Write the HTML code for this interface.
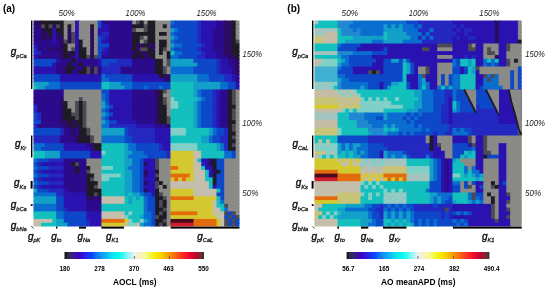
<!DOCTYPE html><html><head><meta charset="utf-8"><style>html,body{margin:0;padding:0;background:#fff;width:550px;height:291px;overflow:hidden}svg{display:block}</style></head><body><svg width="550" height="291" viewBox="0 0 550 291">
<defs><linearGradient id="cba" x1="0" x2="1" y1="0" y2="0" gradientUnits="objectBoundingBox"><stop offset="0.0" stop-color="#101810"/><stop offset="0.012" stop-color="#181820"/><stop offset="0.02" stop-color="#302838"/><stop offset="0.04" stop-color="#362870"/><stop offset="0.054" stop-color="#3a2080"/><stop offset="0.075" stop-color="#3a10a0"/><stop offset="0.097" stop-color="#3808b8"/><stop offset="0.11" stop-color="#3808c8"/><stop offset="0.14" stop-color="#3018e0"/><stop offset="0.168" stop-color="#2030f0"/><stop offset="0.197" stop-color="#0848f8"/><stop offset="0.226" stop-color="#0870f8"/><stop offset="0.254" stop-color="#1090f8"/><stop offset="0.283" stop-color="#10a8f8"/><stop offset="0.312" stop-color="#10c0f8"/><stop offset="0.34" stop-color="#10e0f0"/><stop offset="0.369" stop-color="#08f0f0"/><stop offset="0.398" stop-color="#10f8f0"/><stop offset="0.426" stop-color="#40f8f0"/><stop offset="0.455" stop-color="#90f8f8"/><stop offset="0.47" stop-color="#a8f0f8"/><stop offset="0.498" stop-color="#e8f4f0"/><stop offset="0.52" stop-color="#f8f0e0"/><stop offset="0.541" stop-color="#f8f0c0"/><stop offset="0.563" stop-color="#f8f8a8"/><stop offset="0.584" stop-color="#f8f890"/><stop offset="0.62" stop-color="#f0f830"/><stop offset="0.656" stop-color="#f8e800"/><stop offset="0.685" stop-color="#f8d800"/><stop offset="0.713" stop-color="#f8c000"/><stop offset="0.742" stop-color="#f8a000"/><stop offset="0.771" stop-color="#f88008"/><stop offset="0.8" stop-color="#f86018"/><stop offset="0.828" stop-color="#f84020"/><stop offset="0.857" stop-color="#f82828"/><stop offset="0.885" stop-color="#f80830"/><stop offset="0.914" stop-color="#d80830"/><stop offset="0.943" stop-color="#b80830"/><stop offset="0.964" stop-color="#902030"/><stop offset="0.978" stop-color="#703030"/><stop offset="0.993" stop-color="#403028"/><stop offset="1.0" stop-color="#302820"/></linearGradient><linearGradient id="cbb" x1="0" x2="1" y1="0" y2="0" gradientUnits="objectBoundingBox"><stop offset="0.0" stop-color="#101810"/><stop offset="0.012" stop-color="#181820"/><stop offset="0.02" stop-color="#302838"/><stop offset="0.04" stop-color="#362870"/><stop offset="0.054" stop-color="#3a2080"/><stop offset="0.075" stop-color="#3a10a0"/><stop offset="0.097" stop-color="#3808b8"/><stop offset="0.11" stop-color="#3808c8"/><stop offset="0.14" stop-color="#3018e0"/><stop offset="0.168" stop-color="#2030f0"/><stop offset="0.197" stop-color="#0848f8"/><stop offset="0.226" stop-color="#0870f8"/><stop offset="0.254" stop-color="#1090f8"/><stop offset="0.283" stop-color="#10a8f8"/><stop offset="0.312" stop-color="#10c0f8"/><stop offset="0.34" stop-color="#10e0f0"/><stop offset="0.369" stop-color="#08f0f0"/><stop offset="0.398" stop-color="#10f8f0"/><stop offset="0.426" stop-color="#40f8f0"/><stop offset="0.455" stop-color="#90f8f8"/><stop offset="0.47" stop-color="#a8f0f8"/><stop offset="0.498" stop-color="#e8f4f0"/><stop offset="0.52" stop-color="#f8f0e0"/><stop offset="0.541" stop-color="#f8f0c0"/><stop offset="0.563" stop-color="#f8f8a8"/><stop offset="0.584" stop-color="#f8f890"/><stop offset="0.62" stop-color="#f0f830"/><stop offset="0.656" stop-color="#f8e800"/><stop offset="0.685" stop-color="#f8d800"/><stop offset="0.713" stop-color="#f8c000"/><stop offset="0.742" stop-color="#f8a000"/><stop offset="0.771" stop-color="#f88008"/><stop offset="0.8" stop-color="#f86018"/><stop offset="0.828" stop-color="#f84020"/><stop offset="0.857" stop-color="#f82828"/><stop offset="0.885" stop-color="#f80830"/><stop offset="0.914" stop-color="#d80830"/><stop offset="0.943" stop-color="#b80830"/><stop offset="0.964" stop-color="#902030"/><stop offset="0.978" stop-color="#703030"/><stop offset="0.993" stop-color="#403028"/><stop offset="1.0" stop-color="#302820"/></linearGradient></defs>
<rect width="550" height="291" fill="#ffffff"/>
<text x="2.9" y="11.6" font-family="Liberation Sans, Arial, sans-serif" font-weight="bold" font-size="10" fill="#000">(a)</text>
<text x="287.3" y="11.6" font-family="Liberation Sans, Arial, sans-serif" font-weight="bold" font-size="10" fill="#000">(b)</text>
<rect x="33.50" y="20.50" width="8.56" height="4.83" fill="#2c0c60"/>
<rect x="41.06" y="20.50" width="23.67" height="4.83" fill="#1e1a26"/>
<rect x="63.72" y="20.50" width="12.33" height="4.83" fill="#8a8a87"/>
<rect x="75.06" y="20.50" width="4.78" height="4.83" fill="#2a12b0"/>
<rect x="78.83" y="20.50" width="19.89" height="4.83" fill="#8a8a87"/>
<rect x="97.72" y="20.50" width="4.78" height="4.83" fill="#0c48c8"/>
<rect x="33.50" y="24.33" width="4.78" height="4.83" fill="#2c0a8c"/>
<rect x="37.28" y="24.33" width="4.78" height="4.83" fill="#2c0c60"/>
<rect x="41.06" y="24.33" width="4.78" height="4.83" fill="#4c4a52"/>
<rect x="44.83" y="24.33" width="4.78" height="4.83" fill="#1e1a26"/>
<rect x="48.61" y="24.33" width="4.78" height="4.83" fill="#4c4a52"/>
<rect x="52.39" y="24.33" width="4.78" height="4.83" fill="#2c0c60"/>
<rect x="56.17" y="24.33" width="4.78" height="4.83" fill="#4c4a52"/>
<rect x="59.94" y="24.33" width="4.78" height="4.83" fill="#1e1a26"/>
<rect x="63.72" y="24.33" width="4.78" height="4.83" fill="#8a8a87"/>
<rect x="67.50" y="24.33" width="4.78" height="4.83" fill="#1e1a26"/>
<rect x="71.28" y="24.33" width="4.78" height="4.83" fill="#8a8a87"/>
<rect x="75.06" y="24.33" width="4.78" height="4.83" fill="#2a12b0"/>
<rect x="78.83" y="24.33" width="12.33" height="4.83" fill="#8a8a87"/>
<rect x="90.17" y="24.33" width="4.78" height="4.83" fill="#1e1a26"/>
<rect x="93.94" y="24.33" width="4.78" height="4.83" fill="#8a8a87"/>
<rect x="97.72" y="24.33" width="4.78" height="4.83" fill="#0c48c8"/>
<rect x="33.50" y="28.17" width="8.56" height="4.83" fill="#2c0a8c"/>
<rect x="41.06" y="28.17" width="4.78" height="4.83" fill="#2c0c60"/>
<rect x="44.83" y="28.17" width="8.56" height="4.83" fill="#1e1a26"/>
<rect x="52.39" y="28.17" width="4.78" height="4.83" fill="#2a12b0"/>
<rect x="56.17" y="28.17" width="8.56" height="4.83" fill="#1e1a26"/>
<rect x="63.72" y="28.17" width="4.78" height="4.83" fill="#8a8a87"/>
<rect x="67.50" y="28.17" width="4.78" height="4.83" fill="#2c0c60"/>
<rect x="71.28" y="28.17" width="4.78" height="4.83" fill="#8a8a87"/>
<rect x="75.06" y="28.17" width="4.78" height="4.83" fill="#2a12b0"/>
<rect x="78.83" y="28.17" width="12.33" height="4.83" fill="#8a8a87"/>
<rect x="90.17" y="28.17" width="4.78" height="4.83" fill="#2c0c60"/>
<rect x="93.94" y="28.17" width="4.78" height="4.83" fill="#8a8a87"/>
<rect x="97.72" y="28.17" width="4.78" height="4.83" fill="#2a12b0"/>
<rect x="33.50" y="32.00" width="8.56" height="4.83" fill="#2c0a8c"/>
<rect x="41.06" y="32.00" width="8.56" height="4.83" fill="#2c0c60"/>
<rect x="48.61" y="32.00" width="4.78" height="4.83" fill="#1e1a26"/>
<rect x="52.39" y="32.00" width="4.78" height="4.83" fill="#2a12b0"/>
<rect x="56.17" y="32.00" width="4.78" height="4.83" fill="#2c0c60"/>
<rect x="59.94" y="32.00" width="4.78" height="4.83" fill="#1e1a26"/>
<rect x="63.72" y="32.00" width="4.78" height="4.83" fill="#8a8a87"/>
<rect x="67.50" y="32.00" width="4.78" height="4.83" fill="#2c0c60"/>
<rect x="71.28" y="32.00" width="4.78" height="4.83" fill="#4c4a52"/>
<rect x="75.06" y="32.00" width="4.78" height="4.83" fill="#2a12b0"/>
<rect x="78.83" y="32.00" width="12.33" height="4.83" fill="#8a8a87"/>
<rect x="90.17" y="32.00" width="4.78" height="4.83" fill="#2c0c60"/>
<rect x="93.94" y="32.00" width="4.78" height="4.83" fill="#8a8a87"/>
<rect x="97.72" y="32.00" width="4.78" height="4.83" fill="#2a12b0"/>
<rect x="33.50" y="35.83" width="8.56" height="4.83" fill="#2c0a8c"/>
<rect x="41.06" y="35.83" width="12.33" height="4.83" fill="#2c0c60"/>
<rect x="52.39" y="35.83" width="4.78" height="4.83" fill="#2a12b0"/>
<rect x="56.17" y="35.83" width="8.56" height="4.83" fill="#2c0c60"/>
<rect x="63.72" y="35.83" width="4.78" height="4.83" fill="#8a8a87"/>
<rect x="67.50" y="35.83" width="4.78" height="4.83" fill="#2c0c60"/>
<rect x="71.28" y="35.83" width="4.78" height="4.83" fill="#4c4a52"/>
<rect x="75.06" y="35.83" width="4.78" height="4.83" fill="#2a12b0"/>
<rect x="78.83" y="35.83" width="12.33" height="4.83" fill="#8a8a87"/>
<rect x="90.17" y="35.83" width="4.78" height="4.83" fill="#2c0c60"/>
<rect x="93.94" y="35.83" width="4.78" height="4.83" fill="#8a8a87"/>
<rect x="97.72" y="35.83" width="4.78" height="4.83" fill="#0c48c8"/>
<rect x="33.50" y="39.67" width="19.89" height="4.83" fill="#2c0a8c"/>
<rect x="52.39" y="39.67" width="4.78" height="4.83" fill="#2a12b0"/>
<rect x="56.17" y="39.67" width="4.78" height="4.83" fill="#2c0a8c"/>
<rect x="59.94" y="39.67" width="4.78" height="4.83" fill="#2c0c60"/>
<rect x="63.72" y="39.67" width="4.78" height="4.83" fill="#4c4a52"/>
<rect x="67.50" y="39.67" width="4.78" height="4.83" fill="#2c0c60"/>
<rect x="71.28" y="39.67" width="4.78" height="4.83" fill="#4c4a52"/>
<rect x="75.06" y="39.67" width="4.78" height="4.83" fill="#2a12b0"/>
<rect x="78.83" y="39.67" width="4.78" height="4.83" fill="#1e1a26"/>
<rect x="82.61" y="39.67" width="8.56" height="4.83" fill="#8a8a87"/>
<rect x="90.17" y="39.67" width="4.78" height="4.83" fill="#2c0c60"/>
<rect x="93.94" y="39.67" width="4.78" height="4.83" fill="#8a8a87"/>
<rect x="97.72" y="39.67" width="4.78" height="4.83" fill="#0c48c8"/>
<rect x="33.50" y="43.50" width="4.78" height="4.83" fill="#2a12b0"/>
<rect x="37.28" y="43.50" width="23.67" height="4.83" fill="#2c0a8c"/>
<rect x="59.94" y="43.50" width="4.78" height="4.83" fill="#2c0c60"/>
<rect x="63.72" y="43.50" width="4.78" height="4.83" fill="#1e1a26"/>
<rect x="67.50" y="43.50" width="8.56" height="4.83" fill="#8a8a87"/>
<rect x="75.06" y="43.50" width="4.78" height="4.83" fill="#2a12b0"/>
<rect x="78.83" y="43.50" width="4.78" height="4.83" fill="#1e1a26"/>
<rect x="82.61" y="43.50" width="8.56" height="4.83" fill="#8a8a87"/>
<rect x="90.17" y="43.50" width="4.78" height="4.83" fill="#2c0c60"/>
<rect x="93.94" y="43.50" width="4.78" height="4.83" fill="#8a8a87"/>
<rect x="97.72" y="43.50" width="4.78" height="4.83" fill="#0c48c8"/>
<rect x="33.50" y="47.33" width="4.78" height="4.83" fill="#2228c0"/>
<rect x="37.28" y="47.33" width="12.33" height="4.83" fill="#2c0a8c"/>
<rect x="48.61" y="47.33" width="4.78" height="4.83" fill="#2c0c60"/>
<rect x="52.39" y="47.33" width="4.78" height="4.83" fill="#2c0a8c"/>
<rect x="56.17" y="47.33" width="8.56" height="4.83" fill="#2c0c60"/>
<rect x="63.72" y="47.33" width="4.78" height="4.83" fill="#1e1a26"/>
<rect x="67.50" y="47.33" width="4.78" height="4.83" fill="#8a8a87"/>
<rect x="71.28" y="47.33" width="4.78" height="4.83" fill="#4c4a52"/>
<rect x="75.06" y="47.33" width="4.78" height="4.83" fill="#2a12b0"/>
<rect x="78.83" y="47.33" width="8.56" height="4.83" fill="#1e1a26"/>
<rect x="86.39" y="47.33" width="4.78" height="4.83" fill="#8a8a87"/>
<rect x="90.17" y="47.33" width="4.78" height="4.83" fill="#2c0c60"/>
<rect x="93.94" y="47.33" width="4.78" height="4.83" fill="#8a8a87"/>
<rect x="97.72" y="47.33" width="4.78" height="4.83" fill="#0c48c8"/>
<rect x="33.50" y="51.17" width="8.56" height="4.83" fill="#2228c0"/>
<rect x="41.06" y="51.17" width="19.89" height="4.83" fill="#2c0a8c"/>
<rect x="59.94" y="51.17" width="4.78" height="4.83" fill="#2c0c60"/>
<rect x="63.72" y="51.17" width="4.78" height="4.83" fill="#1e1a26"/>
<rect x="67.50" y="51.17" width="4.78" height="4.83" fill="#2c0c60"/>
<rect x="71.28" y="51.17" width="4.78" height="4.83" fill="#1e1a26"/>
<rect x="75.06" y="51.17" width="4.78" height="4.83" fill="#2a12b0"/>
<rect x="78.83" y="51.17" width="8.56" height="4.83" fill="#1e1a26"/>
<rect x="86.39" y="51.17" width="4.78" height="4.83" fill="#8a8a87"/>
<rect x="90.17" y="51.17" width="4.78" height="4.83" fill="#2c0c60"/>
<rect x="93.94" y="51.17" width="4.78" height="4.83" fill="#8a8a87"/>
<rect x="97.72" y="51.17" width="4.78" height="4.83" fill="#0c48c8"/>
<rect x="33.50" y="55.00" width="4.78" height="4.83" fill="#2a12b0"/>
<rect x="37.28" y="55.00" width="23.67" height="4.83" fill="#2c0a8c"/>
<rect x="59.94" y="55.00" width="4.78" height="4.83" fill="#2c0c60"/>
<rect x="63.72" y="55.00" width="4.78" height="4.83" fill="#1e1a26"/>
<rect x="67.50" y="55.00" width="8.56" height="4.83" fill="#2c0c60"/>
<rect x="75.06" y="55.00" width="4.78" height="4.83" fill="#2a12b0"/>
<rect x="78.83" y="55.00" width="8.56" height="4.83" fill="#1e1a26"/>
<rect x="86.39" y="55.00" width="4.78" height="4.83" fill="#4c4a52"/>
<rect x="90.17" y="55.00" width="4.78" height="4.83" fill="#2c0c60"/>
<rect x="93.94" y="55.00" width="4.78" height="4.83" fill="#4c4a52"/>
<rect x="97.72" y="55.00" width="4.78" height="4.83" fill="#0c48c8"/>
<rect x="33.50" y="58.83" width="23.67" height="4.83" fill="#0c48c8"/>
<rect x="56.17" y="58.83" width="4.78" height="4.83" fill="#2a12b0"/>
<rect x="59.94" y="58.83" width="12.33" height="4.83" fill="#2c0a8c"/>
<rect x="71.28" y="58.83" width="4.78" height="4.83" fill="#1e1a26"/>
<rect x="75.06" y="58.83" width="23.67" height="4.83" fill="#2c0a8c"/>
<rect x="97.72" y="58.83" width="4.78" height="4.83" fill="#2a12b0"/>
<rect x="33.50" y="62.67" width="19.89" height="4.83" fill="#0c48c8"/>
<rect x="52.39" y="62.67" width="4.78" height="4.83" fill="#2a12b0"/>
<rect x="56.17" y="62.67" width="12.33" height="4.83" fill="#2c0a8c"/>
<rect x="67.50" y="62.67" width="4.78" height="4.83" fill="#1e1a26"/>
<rect x="71.28" y="62.67" width="8.56" height="4.83" fill="#2c0a8c"/>
<rect x="78.83" y="62.67" width="4.78" height="4.83" fill="#1e1a26"/>
<rect x="82.61" y="62.67" width="16.11" height="4.83" fill="#2c0a8c"/>
<rect x="97.72" y="62.67" width="4.78" height="4.83" fill="#2a12b0"/>
<rect x="33.50" y="66.50" width="23.67" height="4.83" fill="#2a12b0"/>
<rect x="56.17" y="66.50" width="8.56" height="4.83" fill="#2c0a8c"/>
<rect x="63.72" y="66.50" width="4.78" height="4.83" fill="#2c0c60"/>
<rect x="67.50" y="66.50" width="8.56" height="4.83" fill="#1e1a26"/>
<rect x="75.06" y="66.50" width="8.56" height="4.83" fill="#2c0a8c"/>
<rect x="82.61" y="66.50" width="4.78" height="4.83" fill="#1e1a26"/>
<rect x="86.39" y="66.50" width="4.78" height="4.83" fill="#4c4a52"/>
<rect x="90.17" y="66.50" width="4.78" height="4.83" fill="#2c0c60"/>
<rect x="93.94" y="66.50" width="4.78" height="4.83" fill="#4c4a52"/>
<rect x="97.72" y="66.50" width="4.78" height="4.83" fill="#2c0a8c"/>
<rect x="33.50" y="70.33" width="23.67" height="4.83" fill="#2a12b0"/>
<rect x="56.17" y="70.33" width="8.56" height="4.83" fill="#2c0a8c"/>
<rect x="63.72" y="70.33" width="4.78" height="4.83" fill="#2c0c60"/>
<rect x="67.50" y="70.33" width="4.78" height="4.83" fill="#1e1a26"/>
<rect x="71.28" y="70.33" width="8.56" height="4.83" fill="#2c0a8c"/>
<rect x="78.83" y="70.33" width="8.56" height="4.83" fill="#1e1a26"/>
<rect x="86.39" y="70.33" width="4.78" height="4.83" fill="#4c4a52"/>
<rect x="90.17" y="70.33" width="4.78" height="4.83" fill="#2c0c60"/>
<rect x="93.94" y="70.33" width="4.78" height="4.83" fill="#4c4a52"/>
<rect x="97.72" y="70.33" width="4.78" height="4.83" fill="#2c0a8c"/>
<rect x="33.50" y="74.17" width="27.44" height="4.83" fill="#0c48c8"/>
<rect x="59.94" y="74.17" width="42.56" height="4.83" fill="#2a12b0"/>
<rect x="33.50" y="78.00" width="27.44" height="4.83" fill="#0c48c8"/>
<rect x="59.94" y="78.00" width="42.56" height="4.83" fill="#2a12b0"/>
<rect x="33.50" y="81.83" width="16.11" height="4.83" fill="#12a0c8"/>
<rect x="48.61" y="81.83" width="12.33" height="4.83" fill="#0a6ed0"/>
<rect x="59.94" y="81.83" width="42.56" height="4.83" fill="#0c48c8"/>
<rect x="33.50" y="85.67" width="4.78" height="4.83" fill="#14c0be"/>
<rect x="37.28" y="85.67" width="8.56" height="4.83" fill="#12a0c8"/>
<rect x="44.83" y="85.67" width="16.11" height="4.83" fill="#0a6ed0"/>
<rect x="59.94" y="85.67" width="42.56" height="4.83" fill="#0c48c8"/>
<rect x="101.50" y="20.50" width="31.67" height="4.83" fill="#2c0a8c"/>
<rect x="132.17" y="20.50" width="4.83" height="4.83" fill="#8a8a87"/>
<rect x="136.00" y="20.50" width="4.83" height="4.83" fill="#4c4a52"/>
<rect x="139.83" y="20.50" width="4.83" height="4.83" fill="#1e1a26"/>
<rect x="143.67" y="20.50" width="4.83" height="4.83" fill="#8a8a87"/>
<rect x="147.50" y="20.50" width="8.67" height="4.83" fill="#1e1a26"/>
<rect x="155.17" y="20.50" width="16.33" height="4.83" fill="#8a8a87"/>
<rect x="101.50" y="24.33" width="8.67" height="4.83" fill="#2a12b0"/>
<rect x="109.17" y="24.33" width="24.00" height="4.83" fill="#2c0a8c"/>
<rect x="132.17" y="24.33" width="12.50" height="4.83" fill="#1e1a26"/>
<rect x="143.67" y="24.33" width="4.83" height="4.83" fill="#4c4a52"/>
<rect x="147.50" y="24.33" width="8.67" height="4.83" fill="#1e1a26"/>
<rect x="155.17" y="24.33" width="8.67" height="4.83" fill="#8a8a87"/>
<rect x="162.83" y="24.33" width="4.83" height="4.83" fill="#1e1a26"/>
<rect x="166.67" y="24.33" width="4.83" height="4.83" fill="#8a8a87"/>
<rect x="101.50" y="28.17" width="8.67" height="4.83" fill="#2a12b0"/>
<rect x="109.17" y="28.17" width="24.00" height="4.83" fill="#2c0a8c"/>
<rect x="132.17" y="28.17" width="4.83" height="4.83" fill="#4c4a52"/>
<rect x="136.00" y="28.17" width="8.67" height="4.83" fill="#8a8a87"/>
<rect x="143.67" y="28.17" width="4.83" height="4.83" fill="#4c4a52"/>
<rect x="147.50" y="28.17" width="8.67" height="4.83" fill="#1e1a26"/>
<rect x="155.17" y="28.17" width="16.33" height="4.83" fill="#8a8a87"/>
<rect x="101.50" y="32.00" width="8.67" height="4.83" fill="#2228c0"/>
<rect x="109.17" y="32.00" width="24.00" height="4.83" fill="#2c0a8c"/>
<rect x="132.17" y="32.00" width="24.00" height="4.83" fill="#1e1a26"/>
<rect x="155.17" y="32.00" width="4.83" height="4.83" fill="#8a8a87"/>
<rect x="159.00" y="32.00" width="8.67" height="4.83" fill="#1e1a26"/>
<rect x="166.67" y="32.00" width="4.83" height="4.83" fill="#8a8a87"/>
<rect x="101.50" y="35.83" width="4.83" height="4.83" fill="#2228c0"/>
<rect x="105.33" y="35.83" width="4.83" height="4.83" fill="#2a12b0"/>
<rect x="109.17" y="35.83" width="24.00" height="4.83" fill="#2c0a8c"/>
<rect x="132.17" y="35.83" width="8.67" height="4.83" fill="#1e1a26"/>
<rect x="139.83" y="35.83" width="4.83" height="4.83" fill="#4c4a52"/>
<rect x="143.67" y="35.83" width="4.83" height="4.83" fill="#8a8a87"/>
<rect x="147.50" y="35.83" width="8.67" height="4.83" fill="#1e1a26"/>
<rect x="155.17" y="35.83" width="16.33" height="4.83" fill="#8a8a87"/>
<rect x="101.50" y="39.67" width="8.67" height="4.83" fill="#2a12b0"/>
<rect x="109.17" y="39.67" width="24.00" height="4.83" fill="#2c0a8c"/>
<rect x="132.17" y="39.67" width="8.67" height="4.83" fill="#1e1a26"/>
<rect x="139.83" y="39.67" width="4.83" height="4.83" fill="#8a8a87"/>
<rect x="143.67" y="39.67" width="4.83" height="4.83" fill="#4c4a52"/>
<rect x="147.50" y="39.67" width="8.67" height="4.83" fill="#1e1a26"/>
<rect x="155.17" y="39.67" width="4.83" height="4.83" fill="#8a8a87"/>
<rect x="159.00" y="39.67" width="8.67" height="4.83" fill="#1e1a26"/>
<rect x="166.67" y="39.67" width="4.83" height="4.83" fill="#8a8a87"/>
<rect x="101.50" y="43.50" width="8.67" height="4.83" fill="#0c48c8"/>
<rect x="109.17" y="43.50" width="24.00" height="4.83" fill="#2c0a8c"/>
<rect x="132.17" y="43.50" width="4.83" height="4.83" fill="#1e1a26"/>
<rect x="136.00" y="43.50" width="8.67" height="4.83" fill="#2c0c60"/>
<rect x="143.67" y="43.50" width="4.83" height="4.83" fill="#1e1a26"/>
<rect x="147.50" y="43.50" width="8.67" height="4.83" fill="#2c0c60"/>
<rect x="155.17" y="43.50" width="4.83" height="4.83" fill="#8a8a87"/>
<rect x="159.00" y="43.50" width="8.67" height="4.83" fill="#1e1a26"/>
<rect x="166.67" y="43.50" width="4.83" height="4.83" fill="#8a8a87"/>
<rect x="101.50" y="47.33" width="4.83" height="4.83" fill="#2228c0"/>
<rect x="105.33" y="47.33" width="4.83" height="4.83" fill="#2a12b0"/>
<rect x="109.17" y="47.33" width="24.00" height="4.83" fill="#2c0a8c"/>
<rect x="132.17" y="47.33" width="4.83" height="4.83" fill="#1e1a26"/>
<rect x="136.00" y="47.33" width="4.83" height="4.83" fill="#2c0c60"/>
<rect x="139.83" y="47.33" width="8.67" height="4.83" fill="#4c4a52"/>
<rect x="147.50" y="47.33" width="4.83" height="4.83" fill="#1e1a26"/>
<rect x="151.33" y="47.33" width="4.83" height="4.83" fill="#2c0c60"/>
<rect x="155.17" y="47.33" width="4.83" height="4.83" fill="#8a8a87"/>
<rect x="159.00" y="47.33" width="4.83" height="4.83" fill="#1e1a26"/>
<rect x="162.83" y="47.33" width="4.83" height="4.83" fill="#4c4a52"/>
<rect x="166.67" y="47.33" width="4.83" height="4.83" fill="#8a8a87"/>
<rect x="101.50" y="51.17" width="8.67" height="4.83" fill="#2a12b0"/>
<rect x="109.17" y="51.17" width="24.00" height="4.83" fill="#2c0a8c"/>
<rect x="132.17" y="51.17" width="4.83" height="4.83" fill="#2c0c60"/>
<rect x="136.00" y="51.17" width="4.83" height="4.83" fill="#1e1a26"/>
<rect x="139.83" y="51.17" width="8.67" height="4.83" fill="#2c0c60"/>
<rect x="147.50" y="51.17" width="8.67" height="4.83" fill="#1e1a26"/>
<rect x="155.17" y="51.17" width="4.83" height="4.83" fill="#8a8a87"/>
<rect x="159.00" y="51.17" width="4.83" height="4.83" fill="#1e1a26"/>
<rect x="162.83" y="51.17" width="4.83" height="4.83" fill="#8a8a87"/>
<rect x="166.67" y="51.17" width="4.83" height="4.83" fill="#1e1a26"/>
<rect x="101.50" y="55.00" width="31.67" height="4.83" fill="#2c0a8c"/>
<rect x="132.17" y="55.00" width="4.83" height="4.83" fill="#1e1a26"/>
<rect x="136.00" y="55.00" width="4.83" height="4.83" fill="#2c0c60"/>
<rect x="139.83" y="55.00" width="4.83" height="4.83" fill="#1e1a26"/>
<rect x="143.67" y="55.00" width="8.67" height="4.83" fill="#2c0c60"/>
<rect x="151.33" y="55.00" width="4.83" height="4.83" fill="#1e1a26"/>
<rect x="155.17" y="55.00" width="12.50" height="4.83" fill="#8a8a87"/>
<rect x="166.67" y="55.00" width="4.83" height="4.83" fill="#1e1a26"/>
<rect x="101.50" y="58.83" width="16.33" height="4.83" fill="#0c48c8"/>
<rect x="116.83" y="58.83" width="16.33" height="4.83" fill="#2228c0"/>
<rect x="132.17" y="58.83" width="24.00" height="4.83" fill="#2c0a8c"/>
<rect x="155.17" y="58.83" width="8.67" height="4.83" fill="#1e1a26"/>
<rect x="162.83" y="58.83" width="4.83" height="4.83" fill="#8a8a87"/>
<rect x="166.67" y="58.83" width="4.83" height="4.83" fill="#4c4a52"/>
<rect x="101.50" y="62.67" width="8.67" height="4.83" fill="#0c48c8"/>
<rect x="109.17" y="62.67" width="24.00" height="4.83" fill="#2228c0"/>
<rect x="132.17" y="62.67" width="24.00" height="4.83" fill="#2c0a8c"/>
<rect x="155.17" y="62.67" width="8.67" height="4.83" fill="#1e1a26"/>
<rect x="162.83" y="62.67" width="4.83" height="4.83" fill="#8a8a87"/>
<rect x="166.67" y="62.67" width="4.83" height="4.83" fill="#4c4a52"/>
<rect x="101.50" y="66.50" width="20.17" height="4.83" fill="#2228c0"/>
<rect x="120.67" y="66.50" width="35.50" height="4.83" fill="#2c0a8c"/>
<rect x="155.17" y="66.50" width="8.67" height="4.83" fill="#1e1a26"/>
<rect x="162.83" y="66.50" width="4.83" height="4.83" fill="#4c4a52"/>
<rect x="166.67" y="66.50" width="4.83" height="4.83" fill="#8a8a87"/>
<rect x="101.50" y="70.33" width="20.17" height="4.83" fill="#2228c0"/>
<rect x="120.67" y="70.33" width="35.50" height="4.83" fill="#2c0a8c"/>
<rect x="155.17" y="70.33" width="8.67" height="4.83" fill="#1e1a26"/>
<rect x="162.83" y="70.33" width="4.83" height="4.83" fill="#4c4a52"/>
<rect x="166.67" y="70.33" width="4.83" height="4.83" fill="#8a8a87"/>
<rect x="101.50" y="74.17" width="4.83" height="4.83" fill="#0a6ed0"/>
<rect x="105.33" y="74.17" width="27.83" height="4.83" fill="#0c48c8"/>
<rect x="132.17" y="74.17" width="27.83" height="4.83" fill="#2a12b0"/>
<rect x="159.00" y="74.17" width="4.83" height="4.83" fill="#1e1a26"/>
<rect x="162.83" y="74.17" width="8.67" height="4.83" fill="#2c0c60"/>
<rect x="101.50" y="78.00" width="8.67" height="4.83" fill="#0a6ed0"/>
<rect x="109.17" y="78.00" width="24.00" height="4.83" fill="#0c48c8"/>
<rect x="132.17" y="78.00" width="31.67" height="4.83" fill="#2a12b0"/>
<rect x="162.83" y="78.00" width="4.83" height="4.83" fill="#2c0a8c"/>
<rect x="166.67" y="78.00" width="4.83" height="4.83" fill="#2c0c60"/>
<rect x="101.50" y="81.83" width="8.67" height="4.83" fill="#14c0be"/>
<rect x="109.17" y="81.83" width="12.50" height="4.83" fill="#12a0c8"/>
<rect x="120.67" y="81.83" width="12.50" height="4.83" fill="#0a6ed0"/>
<rect x="132.17" y="81.83" width="39.33" height="4.83" fill="#0c48c8"/>
<rect x="101.50" y="85.67" width="8.67" height="4.83" fill="#14c0be"/>
<rect x="109.17" y="85.67" width="16.33" height="4.83" fill="#12a0c8"/>
<rect x="124.50" y="85.67" width="8.67" height="4.83" fill="#0a6ed0"/>
<rect x="132.17" y="85.67" width="12.50" height="4.83" fill="#0c48c8"/>
<rect x="143.67" y="85.67" width="4.83" height="4.83" fill="#0a6ed0"/>
<rect x="147.50" y="85.67" width="12.50" height="4.83" fill="#0c48c8"/>
<rect x="159.00" y="85.67" width="4.83" height="4.83" fill="#0a6ed0"/>
<rect x="162.83" y="85.67" width="8.67" height="4.83" fill="#0c48c8"/>
<rect x="170.50" y="20.50" width="4.83" height="4.83" fill="#0a6ed0"/>
<rect x="174.33" y="20.50" width="24.00" height="4.83" fill="#0c48c8"/>
<rect x="197.33" y="20.50" width="4.83" height="4.83" fill="#2228c0"/>
<rect x="201.17" y="20.50" width="16.33" height="4.83" fill="#2a12b0"/>
<rect x="216.50" y="20.50" width="8.67" height="4.83" fill="#2c0a8c"/>
<rect x="224.17" y="20.50" width="8.67" height="4.83" fill="#2c0c60"/>
<rect x="231.83" y="20.50" width="4.83" height="4.83" fill="#1e1a26"/>
<rect x="235.67" y="20.50" width="3.83" height="4.83" fill="#8a8a87"/>
<rect x="170.50" y="24.33" width="27.83" height="4.83" fill="#0c48c8"/>
<rect x="197.33" y="24.33" width="4.83" height="4.83" fill="#2228c0"/>
<rect x="201.17" y="24.33" width="16.33" height="4.83" fill="#2a12b0"/>
<rect x="216.50" y="24.33" width="8.67" height="4.83" fill="#2c0a8c"/>
<rect x="224.17" y="24.33" width="8.67" height="4.83" fill="#2c0c60"/>
<rect x="231.83" y="24.33" width="4.83" height="4.83" fill="#1e1a26"/>
<rect x="235.67" y="24.33" width="3.83" height="4.83" fill="#8a8a87"/>
<rect x="170.50" y="28.17" width="4.83" height="4.83" fill="#12a0c8"/>
<rect x="174.33" y="28.17" width="4.83" height="4.83" fill="#0a6ed0"/>
<rect x="178.17" y="28.17" width="20.17" height="4.83" fill="#0c48c8"/>
<rect x="197.33" y="28.17" width="4.83" height="4.83" fill="#2228c0"/>
<rect x="201.17" y="28.17" width="12.50" height="4.83" fill="#2a12b0"/>
<rect x="212.67" y="28.17" width="12.50" height="4.83" fill="#2c0a8c"/>
<rect x="224.17" y="28.17" width="8.67" height="4.83" fill="#2c0c60"/>
<rect x="231.83" y="28.17" width="4.83" height="4.83" fill="#1e1a26"/>
<rect x="235.67" y="28.17" width="3.83" height="4.83" fill="#8a8a87"/>
<rect x="170.50" y="32.00" width="4.83" height="4.83" fill="#0a6ed0"/>
<rect x="174.33" y="32.00" width="24.00" height="4.83" fill="#0c48c8"/>
<rect x="197.33" y="32.00" width="4.83" height="4.83" fill="#2228c0"/>
<rect x="201.17" y="32.00" width="12.50" height="4.83" fill="#2a12b0"/>
<rect x="212.67" y="32.00" width="12.50" height="4.83" fill="#2c0a8c"/>
<rect x="224.17" y="32.00" width="8.67" height="4.83" fill="#2c0c60"/>
<rect x="231.83" y="32.00" width="4.83" height="4.83" fill="#1e1a26"/>
<rect x="235.67" y="32.00" width="3.83" height="4.83" fill="#8a8a87"/>
<rect x="170.50" y="35.83" width="4.83" height="4.83" fill="#12a0c8"/>
<rect x="174.33" y="35.83" width="4.83" height="4.83" fill="#0a6ed0"/>
<rect x="178.17" y="35.83" width="20.17" height="4.83" fill="#0c48c8"/>
<rect x="197.33" y="35.83" width="4.83" height="4.83" fill="#2228c0"/>
<rect x="201.17" y="35.83" width="12.50" height="4.83" fill="#2a12b0"/>
<rect x="212.67" y="35.83" width="12.50" height="4.83" fill="#2c0a8c"/>
<rect x="224.17" y="35.83" width="8.67" height="4.83" fill="#2c0c60"/>
<rect x="231.83" y="35.83" width="4.83" height="4.83" fill="#1e1a26"/>
<rect x="235.67" y="35.83" width="3.83" height="4.83" fill="#8a8a87"/>
<rect x="170.50" y="39.67" width="4.83" height="4.83" fill="#0a6ed0"/>
<rect x="174.33" y="39.67" width="24.00" height="4.83" fill="#0c48c8"/>
<rect x="197.33" y="39.67" width="4.83" height="4.83" fill="#2228c0"/>
<rect x="201.17" y="39.67" width="12.50" height="4.83" fill="#2a12b0"/>
<rect x="212.67" y="39.67" width="12.50" height="4.83" fill="#2c0a8c"/>
<rect x="224.17" y="39.67" width="8.67" height="4.83" fill="#2c0c60"/>
<rect x="231.83" y="39.67" width="4.83" height="4.83" fill="#1e1a26"/>
<rect x="235.67" y="39.67" width="3.83" height="4.83" fill="#4c4a52"/>
<rect x="170.50" y="43.50" width="4.83" height="4.83" fill="#12a0c8"/>
<rect x="174.33" y="43.50" width="8.67" height="4.83" fill="#0a6ed0"/>
<rect x="182.00" y="43.50" width="20.17" height="4.83" fill="#0c48c8"/>
<rect x="201.17" y="43.50" width="4.83" height="4.83" fill="#2228c0"/>
<rect x="205.00" y="43.50" width="8.67" height="4.83" fill="#2a12b0"/>
<rect x="212.67" y="43.50" width="12.50" height="4.83" fill="#2c0a8c"/>
<rect x="224.17" y="43.50" width="8.67" height="4.83" fill="#2c0c60"/>
<rect x="231.83" y="43.50" width="7.67" height="4.83" fill="#1e1a26"/>
<rect x="170.50" y="47.33" width="4.83" height="4.83" fill="#0a6ed0"/>
<rect x="174.33" y="47.33" width="24.00" height="4.83" fill="#0c48c8"/>
<rect x="197.33" y="47.33" width="4.83" height="4.83" fill="#2228c0"/>
<rect x="201.17" y="47.33" width="12.50" height="4.83" fill="#2a12b0"/>
<rect x="212.67" y="47.33" width="12.50" height="4.83" fill="#2c0a8c"/>
<rect x="224.17" y="47.33" width="8.67" height="4.83" fill="#2c0c60"/>
<rect x="231.83" y="47.33" width="7.67" height="4.83" fill="#1e1a26"/>
<rect x="170.50" y="51.17" width="4.83" height="4.83" fill="#14c0be"/>
<rect x="174.33" y="51.17" width="8.67" height="4.83" fill="#0a6ed0"/>
<rect x="182.00" y="51.17" width="20.17" height="4.83" fill="#0c48c8"/>
<rect x="201.17" y="51.17" width="4.83" height="4.83" fill="#2228c0"/>
<rect x="205.00" y="51.17" width="12.50" height="4.83" fill="#2a12b0"/>
<rect x="216.50" y="51.17" width="8.67" height="4.83" fill="#2c0a8c"/>
<rect x="224.17" y="51.17" width="8.67" height="4.83" fill="#2c0c60"/>
<rect x="231.83" y="51.17" width="7.67" height="4.83" fill="#1e1a26"/>
<rect x="170.50" y="55.00" width="8.67" height="4.83" fill="#0a6ed0"/>
<rect x="178.17" y="55.00" width="20.17" height="4.83" fill="#0c48c8"/>
<rect x="197.33" y="55.00" width="8.67" height="4.83" fill="#2228c0"/>
<rect x="205.00" y="55.00" width="12.50" height="4.83" fill="#2a12b0"/>
<rect x="216.50" y="55.00" width="12.50" height="4.83" fill="#2c0a8c"/>
<rect x="228.00" y="55.00" width="8.67" height="4.83" fill="#2c0c60"/>
<rect x="235.67" y="55.00" width="3.83" height="4.83" fill="#1e1a26"/>
<rect x="170.50" y="58.83" width="24.00" height="4.83" fill="#12a0c8"/>
<rect x="193.50" y="58.83" width="24.00" height="4.83" fill="#0c48c8"/>
<rect x="216.50" y="58.83" width="4.83" height="4.83" fill="#2228c0"/>
<rect x="220.33" y="58.83" width="8.67" height="4.83" fill="#2a12b0"/>
<rect x="228.00" y="58.83" width="8.67" height="4.83" fill="#2c0a8c"/>
<rect x="235.67" y="58.83" width="3.83" height="4.83" fill="#2c0c60"/>
<rect x="170.50" y="62.67" width="27.83" height="4.83" fill="#12a0c8"/>
<rect x="197.33" y="62.67" width="20.17" height="4.83" fill="#0c48c8"/>
<rect x="216.50" y="62.67" width="4.83" height="4.83" fill="#2228c0"/>
<rect x="220.33" y="62.67" width="8.67" height="4.83" fill="#2a12b0"/>
<rect x="228.00" y="62.67" width="8.67" height="4.83" fill="#2c0a8c"/>
<rect x="235.67" y="62.67" width="3.83" height="4.83" fill="#2c0c60"/>
<rect x="170.50" y="66.50" width="24.00" height="4.83" fill="#0a6ed0"/>
<rect x="193.50" y="66.50" width="24.00" height="4.83" fill="#0c48c8"/>
<rect x="216.50" y="66.50" width="4.83" height="4.83" fill="#2228c0"/>
<rect x="220.33" y="66.50" width="12.50" height="4.83" fill="#2a12b0"/>
<rect x="231.83" y="66.50" width="4.83" height="4.83" fill="#2c0a8c"/>
<rect x="235.67" y="66.50" width="3.83" height="4.83" fill="#2c0c60"/>
<rect x="170.50" y="70.33" width="24.00" height="4.83" fill="#0a6ed0"/>
<rect x="193.50" y="70.33" width="24.00" height="4.83" fill="#0c48c8"/>
<rect x="216.50" y="70.33" width="4.83" height="4.83" fill="#2228c0"/>
<rect x="220.33" y="70.33" width="12.50" height="4.83" fill="#2a12b0"/>
<rect x="231.83" y="70.33" width="4.83" height="4.83" fill="#2c0a8c"/>
<rect x="235.67" y="70.33" width="3.83" height="4.83" fill="#2c0c60"/>
<rect x="170.50" y="74.17" width="27.83" height="4.83" fill="#12a0c8"/>
<rect x="197.33" y="74.17" width="12.50" height="4.83" fill="#0a6ed0"/>
<rect x="208.83" y="74.17" width="16.33" height="4.83" fill="#0c48c8"/>
<rect x="224.17" y="74.17" width="8.67" height="4.83" fill="#2228c0"/>
<rect x="231.83" y="74.17" width="4.83" height="4.83" fill="#2a12b0"/>
<rect x="235.67" y="74.17" width="3.83" height="4.83" fill="#2c0a8c"/>
<rect x="170.50" y="78.00" width="27.83" height="4.83" fill="#12a0c8"/>
<rect x="197.33" y="78.00" width="12.50" height="4.83" fill="#0a6ed0"/>
<rect x="208.83" y="78.00" width="16.33" height="4.83" fill="#0c48c8"/>
<rect x="224.17" y="78.00" width="8.67" height="4.83" fill="#2228c0"/>
<rect x="231.83" y="78.00" width="4.83" height="4.83" fill="#2a12b0"/>
<rect x="235.67" y="78.00" width="3.83" height="4.83" fill="#2c0a8c"/>
<rect x="170.50" y="81.83" width="24.00" height="4.83" fill="#14c0be"/>
<rect x="193.50" y="81.83" width="27.83" height="4.83" fill="#12a0c8"/>
<rect x="220.33" y="81.83" width="8.67" height="4.83" fill="#0a6ed0"/>
<rect x="228.00" y="81.83" width="8.67" height="4.83" fill="#0c48c8"/>
<rect x="235.67" y="81.83" width="3.83" height="4.83" fill="#2a12b0"/>
<rect x="170.50" y="85.67" width="24.00" height="4.83" fill="#14c0be"/>
<rect x="193.50" y="85.67" width="27.83" height="4.83" fill="#12a0c8"/>
<rect x="220.33" y="85.67" width="8.67" height="4.83" fill="#0a6ed0"/>
<rect x="228.00" y="85.67" width="8.67" height="4.83" fill="#0c48c8"/>
<rect x="235.67" y="85.67" width="3.83" height="4.83" fill="#2a12b0"/>
<rect x="33.50" y="89.50" width="31.22" height="4.83" fill="#2c0a8c"/>
<rect x="63.72" y="89.50" width="38.78" height="4.83" fill="#8a8a87"/>
<rect x="33.50" y="93.33" width="31.22" height="4.83" fill="#2c0a8c"/>
<rect x="63.72" y="93.33" width="38.78" height="4.83" fill="#8a8a87"/>
<rect x="33.50" y="97.17" width="27.44" height="4.83" fill="#2c0a8c"/>
<rect x="59.94" y="97.17" width="4.78" height="4.83" fill="#2c0c60"/>
<rect x="63.72" y="97.17" width="16.11" height="4.83" fill="#8a8a87"/>
<rect x="78.83" y="97.17" width="4.78" height="4.83" fill="#4c4a52"/>
<rect x="82.61" y="97.17" width="19.89" height="4.83" fill="#8a8a87"/>
<rect x="33.50" y="101.00" width="27.44" height="4.83" fill="#2c0a8c"/>
<rect x="59.94" y="101.00" width="4.78" height="4.83" fill="#2c0c60"/>
<rect x="63.72" y="101.00" width="4.78" height="4.83" fill="#1e1a26"/>
<rect x="67.50" y="101.00" width="8.56" height="4.83" fill="#8a8a87"/>
<rect x="75.06" y="101.00" width="4.78" height="4.83" fill="#4c4a52"/>
<rect x="78.83" y="101.00" width="4.78" height="4.83" fill="#1e1a26"/>
<rect x="82.61" y="101.00" width="4.78" height="4.83" fill="#4c4a52"/>
<rect x="86.39" y="101.00" width="16.11" height="4.83" fill="#8a8a87"/>
<rect x="33.50" y="104.83" width="4.78" height="4.83" fill="#2228c0"/>
<rect x="37.28" y="104.83" width="23.67" height="4.83" fill="#2c0a8c"/>
<rect x="59.94" y="104.83" width="4.78" height="4.83" fill="#2c0c60"/>
<rect x="63.72" y="104.83" width="4.78" height="4.83" fill="#1e1a26"/>
<rect x="67.50" y="104.83" width="8.56" height="4.83" fill="#8a8a87"/>
<rect x="75.06" y="104.83" width="4.78" height="4.83" fill="#4c4a52"/>
<rect x="78.83" y="104.83" width="4.78" height="4.83" fill="#1e1a26"/>
<rect x="82.61" y="104.83" width="4.78" height="4.83" fill="#4c4a52"/>
<rect x="86.39" y="104.83" width="16.11" height="4.83" fill="#8a8a87"/>
<rect x="33.50" y="108.67" width="4.78" height="4.83" fill="#2228c0"/>
<rect x="37.28" y="108.67" width="23.67" height="4.83" fill="#2c0a8c"/>
<rect x="59.94" y="108.67" width="4.78" height="4.83" fill="#2c0c60"/>
<rect x="63.72" y="108.67" width="8.56" height="4.83" fill="#1e1a26"/>
<rect x="71.28" y="108.67" width="4.78" height="4.83" fill="#8a8a87"/>
<rect x="75.06" y="108.67" width="4.78" height="4.83" fill="#4c4a52"/>
<rect x="78.83" y="108.67" width="4.78" height="4.83" fill="#1e1a26"/>
<rect x="82.61" y="108.67" width="4.78" height="4.83" fill="#4c4a52"/>
<rect x="86.39" y="108.67" width="16.11" height="4.83" fill="#8a8a87"/>
<rect x="33.50" y="112.50" width="4.78" height="4.83" fill="#0c48c8"/>
<rect x="37.28" y="112.50" width="4.78" height="4.83" fill="#2228c0"/>
<rect x="41.06" y="112.50" width="19.89" height="4.83" fill="#2c0a8c"/>
<rect x="59.94" y="112.50" width="4.78" height="4.83" fill="#2c0c60"/>
<rect x="63.72" y="112.50" width="8.56" height="4.83" fill="#1e1a26"/>
<rect x="71.28" y="112.50" width="8.56" height="4.83" fill="#4c4a52"/>
<rect x="78.83" y="112.50" width="4.78" height="4.83" fill="#1e1a26"/>
<rect x="82.61" y="112.50" width="4.78" height="4.83" fill="#4c4a52"/>
<rect x="86.39" y="112.50" width="16.11" height="4.83" fill="#8a8a87"/>
<rect x="33.50" y="116.33" width="4.78" height="4.83" fill="#0c48c8"/>
<rect x="37.28" y="116.33" width="4.78" height="4.83" fill="#2228c0"/>
<rect x="41.06" y="116.33" width="19.89" height="4.83" fill="#2c0a8c"/>
<rect x="59.94" y="116.33" width="4.78" height="4.83" fill="#2c0c60"/>
<rect x="63.72" y="116.33" width="12.33" height="4.83" fill="#1e1a26"/>
<rect x="75.06" y="116.33" width="4.78" height="4.83" fill="#4c4a52"/>
<rect x="78.83" y="116.33" width="4.78" height="4.83" fill="#1e1a26"/>
<rect x="82.61" y="116.33" width="4.78" height="4.83" fill="#4c4a52"/>
<rect x="86.39" y="116.33" width="16.11" height="4.83" fill="#8a8a87"/>
<rect x="33.50" y="120.17" width="8.56" height="4.83" fill="#0c48c8"/>
<rect x="41.06" y="120.17" width="19.89" height="4.83" fill="#2c0a8c"/>
<rect x="59.94" y="120.17" width="8.56" height="4.83" fill="#2c0c60"/>
<rect x="67.50" y="120.17" width="4.78" height="4.83" fill="#1e1a26"/>
<rect x="71.28" y="120.17" width="4.78" height="4.83" fill="#2c0c60"/>
<rect x="75.06" y="120.17" width="8.56" height="4.83" fill="#1e1a26"/>
<rect x="82.61" y="120.17" width="4.78" height="4.83" fill="#4c4a52"/>
<rect x="86.39" y="120.17" width="16.11" height="4.83" fill="#8a8a87"/>
<rect x="33.50" y="124.00" width="4.78" height="4.83" fill="#2228c0"/>
<rect x="37.28" y="124.00" width="27.44" height="4.83" fill="#2c0a8c"/>
<rect x="63.72" y="124.00" width="8.56" height="4.83" fill="#2c0c60"/>
<rect x="71.28" y="124.00" width="4.78" height="4.83" fill="#1e1a26"/>
<rect x="75.06" y="124.00" width="4.78" height="4.83" fill="#2c0c60"/>
<rect x="78.83" y="124.00" width="4.78" height="4.83" fill="#1e1a26"/>
<rect x="82.61" y="124.00" width="4.78" height="4.83" fill="#4c4a52"/>
<rect x="86.39" y="124.00" width="16.11" height="4.83" fill="#8a8a87"/>
<rect x="33.50" y="127.83" width="27.44" height="4.83" fill="#0c48c8"/>
<rect x="59.94" y="127.83" width="4.78" height="4.83" fill="#2228c0"/>
<rect x="63.72" y="127.83" width="8.56" height="4.83" fill="#2c0a8c"/>
<rect x="71.28" y="127.83" width="4.78" height="4.83" fill="#2c0c60"/>
<rect x="75.06" y="127.83" width="4.78" height="4.83" fill="#2c0a8c"/>
<rect x="78.83" y="127.83" width="8.56" height="4.83" fill="#1e1a26"/>
<rect x="86.39" y="127.83" width="4.78" height="4.83" fill="#4c4a52"/>
<rect x="90.17" y="127.83" width="12.33" height="4.83" fill="#8a8a87"/>
<rect x="33.50" y="131.67" width="27.44" height="4.83" fill="#0c48c8"/>
<rect x="59.94" y="131.67" width="4.78" height="4.83" fill="#2228c0"/>
<rect x="63.72" y="131.67" width="8.56" height="4.83" fill="#2c0a8c"/>
<rect x="71.28" y="131.67" width="4.78" height="4.83" fill="#2c0c60"/>
<rect x="75.06" y="131.67" width="4.78" height="4.83" fill="#2c0a8c"/>
<rect x="78.83" y="131.67" width="8.56" height="4.83" fill="#1e1a26"/>
<rect x="86.39" y="131.67" width="4.78" height="4.83" fill="#4c4a52"/>
<rect x="90.17" y="131.67" width="12.33" height="4.83" fill="#8a8a87"/>
<rect x="33.50" y="135.50" width="27.44" height="4.83" fill="#2228c0"/>
<rect x="59.94" y="135.50" width="16.11" height="4.83" fill="#2c0a8c"/>
<rect x="75.06" y="135.50" width="4.78" height="4.83" fill="#2c0c60"/>
<rect x="78.83" y="135.50" width="12.33" height="4.83" fill="#1e1a26"/>
<rect x="90.17" y="135.50" width="4.78" height="4.83" fill="#4c4a52"/>
<rect x="93.94" y="135.50" width="8.56" height="4.83" fill="#8a8a87"/>
<rect x="33.50" y="139.33" width="27.44" height="4.83" fill="#2228c0"/>
<rect x="59.94" y="139.33" width="16.11" height="4.83" fill="#2c0a8c"/>
<rect x="75.06" y="139.33" width="4.78" height="4.83" fill="#2c0c60"/>
<rect x="78.83" y="139.33" width="12.33" height="4.83" fill="#1e1a26"/>
<rect x="90.17" y="139.33" width="4.78" height="4.83" fill="#4c4a52"/>
<rect x="93.94" y="139.33" width="8.56" height="4.83" fill="#8a8a87"/>
<rect x="33.50" y="143.17" width="12.33" height="4.83" fill="#0a6ed0"/>
<rect x="44.83" y="143.17" width="19.89" height="4.83" fill="#0c48c8"/>
<rect x="63.72" y="143.17" width="23.67" height="4.83" fill="#2a12b0"/>
<rect x="86.39" y="143.17" width="4.78" height="4.83" fill="#2c0a8c"/>
<rect x="90.17" y="143.17" width="4.78" height="4.83" fill="#2c0c60"/>
<rect x="93.94" y="143.17" width="8.56" height="4.83" fill="#1e1a26"/>
<rect x="33.50" y="147.00" width="8.56" height="4.83" fill="#0a6ed0"/>
<rect x="41.06" y="147.00" width="23.67" height="4.83" fill="#0c48c8"/>
<rect x="63.72" y="147.00" width="27.44" height="4.83" fill="#2a12b0"/>
<rect x="90.17" y="147.00" width="4.78" height="4.83" fill="#2c0a8c"/>
<rect x="93.94" y="147.00" width="8.56" height="4.83" fill="#1e1a26"/>
<rect x="33.50" y="150.83" width="12.33" height="4.83" fill="#14c0be"/>
<rect x="44.83" y="150.83" width="16.11" height="4.83" fill="#12a0c8"/>
<rect x="59.94" y="150.83" width="31.22" height="4.83" fill="#0c48c8"/>
<rect x="90.17" y="150.83" width="12.33" height="4.83" fill="#2a12b0"/>
<rect x="33.50" y="154.67" width="12.33" height="4.83" fill="#14c0be"/>
<rect x="44.83" y="154.67" width="16.11" height="4.83" fill="#12a0c8"/>
<rect x="59.94" y="154.67" width="31.22" height="4.83" fill="#0c48c8"/>
<rect x="90.17" y="154.67" width="12.33" height="4.83" fill="#2a12b0"/>
<rect x="101.50" y="89.50" width="8.67" height="4.83" fill="#0c48c8"/>
<rect x="109.17" y="89.50" width="24.00" height="4.83" fill="#2a12b0"/>
<rect x="132.17" y="89.50" width="24.00" height="4.83" fill="#2c0a8c"/>
<rect x="155.17" y="89.50" width="4.83" height="4.83" fill="#2c0c60"/>
<rect x="159.00" y="89.50" width="4.83" height="4.83" fill="#1e1a26"/>
<rect x="162.83" y="89.50" width="4.83" height="4.83" fill="#4c4a52"/>
<rect x="166.67" y="89.50" width="4.83" height="4.83" fill="#8a8a87"/>
<rect x="101.50" y="93.33" width="4.83" height="4.83" fill="#0a6ed0"/>
<rect x="105.33" y="93.33" width="4.83" height="4.83" fill="#0c48c8"/>
<rect x="109.17" y="93.33" width="24.00" height="4.83" fill="#2a12b0"/>
<rect x="132.17" y="93.33" width="24.00" height="4.83" fill="#2c0a8c"/>
<rect x="155.17" y="93.33" width="4.83" height="4.83" fill="#2c0c60"/>
<rect x="159.00" y="93.33" width="4.83" height="4.83" fill="#1e1a26"/>
<rect x="162.83" y="93.33" width="8.67" height="4.83" fill="#8a8a87"/>
<rect x="101.50" y="97.17" width="4.83" height="4.83" fill="#0a6ed0"/>
<rect x="105.33" y="97.17" width="4.83" height="4.83" fill="#0c48c8"/>
<rect x="109.17" y="97.17" width="24.00" height="4.83" fill="#2a12b0"/>
<rect x="132.17" y="97.17" width="24.00" height="4.83" fill="#2c0a8c"/>
<rect x="155.17" y="97.17" width="4.83" height="4.83" fill="#2c0c60"/>
<rect x="159.00" y="97.17" width="4.83" height="4.83" fill="#1e1a26"/>
<rect x="162.83" y="97.17" width="4.83" height="4.83" fill="#4c4a52"/>
<rect x="166.67" y="97.17" width="4.83" height="4.83" fill="#8a8a87"/>
<rect x="101.50" y="101.00" width="4.83" height="4.83" fill="#12a0c8"/>
<rect x="105.33" y="101.00" width="4.83" height="4.83" fill="#0c48c8"/>
<rect x="109.17" y="101.00" width="24.00" height="4.83" fill="#2a12b0"/>
<rect x="132.17" y="101.00" width="24.00" height="4.83" fill="#2c0a8c"/>
<rect x="155.17" y="101.00" width="4.83" height="4.83" fill="#2c0c60"/>
<rect x="159.00" y="101.00" width="4.83" height="4.83" fill="#1e1a26"/>
<rect x="162.83" y="101.00" width="4.83" height="4.83" fill="#4c4a52"/>
<rect x="166.67" y="101.00" width="4.83" height="4.83" fill="#8a8a87"/>
<rect x="101.50" y="104.83" width="4.83" height="4.83" fill="#12a0c8"/>
<rect x="105.33" y="104.83" width="4.83" height="4.83" fill="#0a6ed0"/>
<rect x="109.17" y="104.83" width="4.83" height="4.83" fill="#0c48c8"/>
<rect x="113.00" y="104.83" width="20.17" height="4.83" fill="#2a12b0"/>
<rect x="132.17" y="104.83" width="24.00" height="4.83" fill="#2c0a8c"/>
<rect x="155.17" y="104.83" width="4.83" height="4.83" fill="#2c0c60"/>
<rect x="159.00" y="104.83" width="8.67" height="4.83" fill="#1e1a26"/>
<rect x="166.67" y="104.83" width="4.83" height="4.83" fill="#8a8a87"/>
<rect x="101.50" y="108.67" width="4.83" height="4.83" fill="#0a6ed0"/>
<rect x="105.33" y="108.67" width="4.83" height="4.83" fill="#0c48c8"/>
<rect x="109.17" y="108.67" width="24.00" height="4.83" fill="#2a12b0"/>
<rect x="132.17" y="108.67" width="24.00" height="4.83" fill="#2c0a8c"/>
<rect x="155.17" y="108.67" width="4.83" height="4.83" fill="#2c0c60"/>
<rect x="159.00" y="108.67" width="8.67" height="4.83" fill="#1e1a26"/>
<rect x="166.67" y="108.67" width="4.83" height="4.83" fill="#8a8a87"/>
<rect x="101.50" y="112.50" width="4.83" height="4.83" fill="#12a0c8"/>
<rect x="105.33" y="112.50" width="4.83" height="4.83" fill="#0a6ed0"/>
<rect x="109.17" y="112.50" width="4.83" height="4.83" fill="#0c48c8"/>
<rect x="113.00" y="112.50" width="20.17" height="4.83" fill="#2a12b0"/>
<rect x="132.17" y="112.50" width="24.00" height="4.83" fill="#2c0a8c"/>
<rect x="155.17" y="112.50" width="4.83" height="4.83" fill="#2c0c60"/>
<rect x="159.00" y="112.50" width="8.67" height="4.83" fill="#1e1a26"/>
<rect x="166.67" y="112.50" width="4.83" height="4.83" fill="#8a8a87"/>
<rect x="101.50" y="116.33" width="4.83" height="4.83" fill="#0a6ed0"/>
<rect x="105.33" y="116.33" width="4.83" height="4.83" fill="#0c48c8"/>
<rect x="109.17" y="116.33" width="24.00" height="4.83" fill="#2a12b0"/>
<rect x="132.17" y="116.33" width="24.00" height="4.83" fill="#2c0a8c"/>
<rect x="155.17" y="116.33" width="4.83" height="4.83" fill="#2c0c60"/>
<rect x="159.00" y="116.33" width="8.67" height="4.83" fill="#1e1a26"/>
<rect x="166.67" y="116.33" width="4.83" height="4.83" fill="#4c4a52"/>
<rect x="101.50" y="120.17" width="4.83" height="4.83" fill="#12a0c8"/>
<rect x="105.33" y="120.17" width="4.83" height="4.83" fill="#0a6ed0"/>
<rect x="109.17" y="120.17" width="8.67" height="4.83" fill="#0c48c8"/>
<rect x="116.83" y="120.17" width="20.17" height="4.83" fill="#2a12b0"/>
<rect x="136.00" y="120.17" width="20.17" height="4.83" fill="#2c0a8c"/>
<rect x="155.17" y="120.17" width="4.83" height="4.83" fill="#2c0c60"/>
<rect x="159.00" y="120.17" width="8.67" height="4.83" fill="#1e1a26"/>
<rect x="166.67" y="120.17" width="4.83" height="4.83" fill="#4c4a52"/>
<rect x="101.50" y="124.00" width="8.67" height="4.83" fill="#0a6ed0"/>
<rect x="109.17" y="124.00" width="27.83" height="4.83" fill="#2228c0"/>
<rect x="136.00" y="124.00" width="20.17" height="4.83" fill="#2a12b0"/>
<rect x="155.17" y="124.00" width="12.50" height="4.83" fill="#2c0a8c"/>
<rect x="166.67" y="124.00" width="4.83" height="4.83" fill="#2c0c60"/>
<rect x="101.50" y="127.83" width="24.00" height="4.83" fill="#12a0c8"/>
<rect x="124.50" y="127.83" width="4.83" height="4.83" fill="#0c48c8"/>
<rect x="128.33" y="127.83" width="27.83" height="4.83" fill="#2228c0"/>
<rect x="155.17" y="127.83" width="16.33" height="4.83" fill="#2a12b0"/>
<rect x="101.50" y="131.67" width="24.00" height="4.83" fill="#12a0c8"/>
<rect x="124.50" y="131.67" width="4.83" height="4.83" fill="#0c48c8"/>
<rect x="128.33" y="131.67" width="27.83" height="4.83" fill="#2228c0"/>
<rect x="155.17" y="131.67" width="16.33" height="4.83" fill="#2a12b0"/>
<rect x="101.50" y="135.50" width="24.00" height="4.83" fill="#0a6ed0"/>
<rect x="124.50" y="135.50" width="8.67" height="4.83" fill="#0c48c8"/>
<rect x="132.17" y="135.50" width="24.00" height="4.83" fill="#2228c0"/>
<rect x="155.17" y="135.50" width="16.33" height="4.83" fill="#2a12b0"/>
<rect x="101.50" y="139.33" width="24.00" height="4.83" fill="#0a6ed0"/>
<rect x="124.50" y="139.33" width="8.67" height="4.83" fill="#0c48c8"/>
<rect x="132.17" y="139.33" width="24.00" height="4.83" fill="#2228c0"/>
<rect x="155.17" y="139.33" width="16.33" height="4.83" fill="#2a12b0"/>
<rect x="101.50" y="143.17" width="24.00" height="4.83" fill="#14c0be"/>
<rect x="124.50" y="143.17" width="4.83" height="4.83" fill="#12a0c8"/>
<rect x="128.33" y="143.17" width="8.67" height="4.83" fill="#0a6ed0"/>
<rect x="136.00" y="143.17" width="24.00" height="4.83" fill="#0c48c8"/>
<rect x="159.00" y="143.17" width="4.83" height="4.83" fill="#2228c0"/>
<rect x="162.83" y="143.17" width="8.67" height="4.83" fill="#2a12b0"/>
<rect x="101.50" y="147.00" width="24.00" height="4.83" fill="#14c0be"/>
<rect x="124.50" y="147.00" width="4.83" height="4.83" fill="#12a0c8"/>
<rect x="128.33" y="147.00" width="8.67" height="4.83" fill="#0a6ed0"/>
<rect x="136.00" y="147.00" width="24.00" height="4.83" fill="#0c48c8"/>
<rect x="159.00" y="147.00" width="4.83" height="4.83" fill="#2228c0"/>
<rect x="162.83" y="147.00" width="8.67" height="4.83" fill="#2a12b0"/>
<rect x="101.50" y="150.83" width="4.83" height="4.83" fill="#80d0c8"/>
<rect x="105.33" y="150.83" width="20.17" height="4.83" fill="#14c0be"/>
<rect x="124.50" y="150.83" width="8.67" height="4.83" fill="#12a0c8"/>
<rect x="132.17" y="150.83" width="12.50" height="4.83" fill="#0a6ed0"/>
<rect x="143.67" y="150.83" width="24.00" height="4.83" fill="#0c48c8"/>
<rect x="166.67" y="150.83" width="4.83" height="4.83" fill="#2228c0"/>
<rect x="101.50" y="154.67" width="24.00" height="4.83" fill="#14c0be"/>
<rect x="124.50" y="154.67" width="4.83" height="4.83" fill="#12a0c8"/>
<rect x="128.33" y="154.67" width="20.17" height="4.83" fill="#0a6ed0"/>
<rect x="147.50" y="154.67" width="20.17" height="4.83" fill="#0c48c8"/>
<rect x="166.67" y="154.67" width="4.83" height="4.83" fill="#2228c0"/>
<rect x="170.50" y="89.50" width="24.00" height="4.83" fill="#14c0be"/>
<rect x="193.50" y="89.50" width="4.83" height="4.83" fill="#12a0c8"/>
<rect x="197.33" y="89.50" width="4.83" height="4.83" fill="#0a6ed0"/>
<rect x="201.17" y="89.50" width="12.50" height="4.83" fill="#0c48c8"/>
<rect x="212.67" y="89.50" width="4.83" height="4.83" fill="#2228c0"/>
<rect x="216.50" y="89.50" width="4.83" height="4.83" fill="#2a12b0"/>
<rect x="220.33" y="89.50" width="8.67" height="4.83" fill="#2c0a8c"/>
<rect x="228.00" y="89.50" width="4.83" height="4.83" fill="#1e1a26"/>
<rect x="231.83" y="89.50" width="4.83" height="4.83" fill="#4c4a52"/>
<rect x="235.67" y="89.50" width="3.83" height="4.83" fill="#8a8a87"/>
<rect x="170.50" y="93.33" width="24.00" height="4.83" fill="#14c0be"/>
<rect x="193.50" y="93.33" width="4.83" height="4.83" fill="#12a0c8"/>
<rect x="197.33" y="93.33" width="4.83" height="4.83" fill="#0a6ed0"/>
<rect x="201.17" y="93.33" width="12.50" height="4.83" fill="#0c48c8"/>
<rect x="212.67" y="93.33" width="4.83" height="4.83" fill="#2228c0"/>
<rect x="216.50" y="93.33" width="4.83" height="4.83" fill="#2a12b0"/>
<rect x="220.33" y="93.33" width="8.67" height="4.83" fill="#2c0a8c"/>
<rect x="228.00" y="93.33" width="4.83" height="4.83" fill="#1e1a26"/>
<rect x="231.83" y="93.33" width="4.83" height="4.83" fill="#4c4a52"/>
<rect x="235.67" y="93.33" width="3.83" height="4.83" fill="#8a8a87"/>
<rect x="170.50" y="97.17" width="4.83" height="4.83" fill="#80d0c8"/>
<rect x="174.33" y="97.17" width="24.00" height="4.83" fill="#14c0be"/>
<rect x="197.33" y="97.17" width="4.83" height="4.83" fill="#12a0c8"/>
<rect x="201.17" y="97.17" width="4.83" height="4.83" fill="#0a6ed0"/>
<rect x="205.00" y="97.17" width="8.67" height="4.83" fill="#0c48c8"/>
<rect x="212.67" y="97.17" width="4.83" height="4.83" fill="#2228c0"/>
<rect x="216.50" y="97.17" width="4.83" height="4.83" fill="#2a12b0"/>
<rect x="220.33" y="97.17" width="8.67" height="4.83" fill="#2c0a8c"/>
<rect x="228.00" y="97.17" width="4.83" height="4.83" fill="#1e1a26"/>
<rect x="231.83" y="97.17" width="4.83" height="4.83" fill="#4c4a52"/>
<rect x="235.67" y="97.17" width="3.83" height="4.83" fill="#8a8a87"/>
<rect x="170.50" y="101.00" width="8.67" height="4.83" fill="#80d0c8"/>
<rect x="178.17" y="101.00" width="16.33" height="4.83" fill="#14c0be"/>
<rect x="193.50" y="101.00" width="4.83" height="4.83" fill="#12a0c8"/>
<rect x="197.33" y="101.00" width="4.83" height="4.83" fill="#0a6ed0"/>
<rect x="201.17" y="101.00" width="12.50" height="4.83" fill="#0c48c8"/>
<rect x="212.67" y="101.00" width="4.83" height="4.83" fill="#2228c0"/>
<rect x="216.50" y="101.00" width="4.83" height="4.83" fill="#2a12b0"/>
<rect x="220.33" y="101.00" width="8.67" height="4.83" fill="#2c0a8c"/>
<rect x="228.00" y="101.00" width="4.83" height="4.83" fill="#1e1a26"/>
<rect x="231.83" y="101.00" width="4.83" height="4.83" fill="#4c4a52"/>
<rect x="235.67" y="101.00" width="3.83" height="4.83" fill="#8a8a87"/>
<rect x="170.50" y="104.83" width="8.67" height="4.83" fill="#80d0c8"/>
<rect x="178.17" y="104.83" width="16.33" height="4.83" fill="#14c0be"/>
<rect x="193.50" y="104.83" width="4.83" height="4.83" fill="#12a0c8"/>
<rect x="197.33" y="104.83" width="4.83" height="4.83" fill="#0a6ed0"/>
<rect x="201.17" y="104.83" width="12.50" height="4.83" fill="#0c48c8"/>
<rect x="212.67" y="104.83" width="4.83" height="4.83" fill="#2228c0"/>
<rect x="216.50" y="104.83" width="4.83" height="4.83" fill="#2a12b0"/>
<rect x="220.33" y="104.83" width="8.67" height="4.83" fill="#2c0a8c"/>
<rect x="228.00" y="104.83" width="8.67" height="4.83" fill="#1e1a26"/>
<rect x="235.67" y="104.83" width="3.83" height="4.83" fill="#8a8a87"/>
<rect x="170.50" y="108.67" width="24.00" height="4.83" fill="#14c0be"/>
<rect x="193.50" y="108.67" width="4.83" height="4.83" fill="#12a0c8"/>
<rect x="197.33" y="108.67" width="4.83" height="4.83" fill="#0a6ed0"/>
<rect x="201.17" y="108.67" width="12.50" height="4.83" fill="#0c48c8"/>
<rect x="212.67" y="108.67" width="4.83" height="4.83" fill="#2228c0"/>
<rect x="216.50" y="108.67" width="4.83" height="4.83" fill="#2a12b0"/>
<rect x="220.33" y="108.67" width="8.67" height="4.83" fill="#2c0a8c"/>
<rect x="228.00" y="108.67" width="4.83" height="4.83" fill="#1e1a26"/>
<rect x="231.83" y="108.67" width="4.83" height="4.83" fill="#4c4a52"/>
<rect x="235.67" y="108.67" width="3.83" height="4.83" fill="#8a8a87"/>
<rect x="170.50" y="112.50" width="24.00" height="4.83" fill="#14c0be"/>
<rect x="193.50" y="112.50" width="4.83" height="4.83" fill="#12a0c8"/>
<rect x="197.33" y="112.50" width="4.83" height="4.83" fill="#0a6ed0"/>
<rect x="201.17" y="112.50" width="12.50" height="4.83" fill="#0c48c8"/>
<rect x="212.67" y="112.50" width="4.83" height="4.83" fill="#2228c0"/>
<rect x="216.50" y="112.50" width="4.83" height="4.83" fill="#2a12b0"/>
<rect x="220.33" y="112.50" width="8.67" height="4.83" fill="#2c0a8c"/>
<rect x="228.00" y="112.50" width="4.83" height="4.83" fill="#1e1a26"/>
<rect x="231.83" y="112.50" width="4.83" height="4.83" fill="#4c4a52"/>
<rect x="235.67" y="112.50" width="3.83" height="4.83" fill="#8a8a87"/>
<rect x="170.50" y="116.33" width="24.00" height="4.83" fill="#14c0be"/>
<rect x="193.50" y="116.33" width="4.83" height="4.83" fill="#12a0c8"/>
<rect x="197.33" y="116.33" width="4.83" height="4.83" fill="#0a6ed0"/>
<rect x="201.17" y="116.33" width="12.50" height="4.83" fill="#0c48c8"/>
<rect x="212.67" y="116.33" width="4.83" height="4.83" fill="#2228c0"/>
<rect x="216.50" y="116.33" width="4.83" height="4.83" fill="#2a12b0"/>
<rect x="220.33" y="116.33" width="8.67" height="4.83" fill="#2c0a8c"/>
<rect x="228.00" y="116.33" width="4.83" height="4.83" fill="#1e1a26"/>
<rect x="231.83" y="116.33" width="4.83" height="4.83" fill="#4c4a52"/>
<rect x="235.67" y="116.33" width="3.83" height="4.83" fill="#8a8a87"/>
<rect x="170.50" y="120.17" width="24.00" height="4.83" fill="#14c0be"/>
<rect x="193.50" y="120.17" width="4.83" height="4.83" fill="#12a0c8"/>
<rect x="197.33" y="120.17" width="4.83" height="4.83" fill="#0a6ed0"/>
<rect x="201.17" y="120.17" width="12.50" height="4.83" fill="#0c48c8"/>
<rect x="212.67" y="120.17" width="4.83" height="4.83" fill="#2228c0"/>
<rect x="216.50" y="120.17" width="4.83" height="4.83" fill="#2a12b0"/>
<rect x="220.33" y="120.17" width="8.67" height="4.83" fill="#2c0a8c"/>
<rect x="228.00" y="120.17" width="8.67" height="4.83" fill="#1e1a26"/>
<rect x="235.67" y="120.17" width="3.83" height="4.83" fill="#8a8a87"/>
<rect x="170.50" y="124.00" width="24.00" height="4.83" fill="#14c0be"/>
<rect x="193.50" y="124.00" width="4.83" height="4.83" fill="#12a0c8"/>
<rect x="197.33" y="124.00" width="4.83" height="4.83" fill="#0a6ed0"/>
<rect x="201.17" y="124.00" width="12.50" height="4.83" fill="#0c48c8"/>
<rect x="212.67" y="124.00" width="4.83" height="4.83" fill="#2228c0"/>
<rect x="216.50" y="124.00" width="4.83" height="4.83" fill="#2a12b0"/>
<rect x="220.33" y="124.00" width="8.67" height="4.83" fill="#2c0a8c"/>
<rect x="228.00" y="124.00" width="4.83" height="4.83" fill="#1e1a26"/>
<rect x="231.83" y="124.00" width="4.83" height="4.83" fill="#4c4a52"/>
<rect x="235.67" y="124.00" width="3.83" height="4.83" fill="#8a8a87"/>
<rect x="170.50" y="127.83" width="16.33" height="4.83" fill="#80d0c8"/>
<rect x="185.83" y="127.83" width="24.00" height="4.83" fill="#14c0be"/>
<rect x="208.83" y="127.83" width="4.83" height="4.83" fill="#12a0c8"/>
<rect x="212.67" y="127.83" width="4.83" height="4.83" fill="#0a6ed0"/>
<rect x="216.50" y="127.83" width="8.67" height="4.83" fill="#0c48c8"/>
<rect x="224.17" y="127.83" width="4.83" height="4.83" fill="#2228c0"/>
<rect x="228.00" y="127.83" width="4.83" height="4.83" fill="#1e1a26"/>
<rect x="231.83" y="127.83" width="4.83" height="4.83" fill="#4c4a52"/>
<rect x="235.67" y="127.83" width="3.83" height="4.83" fill="#8a8a87"/>
<rect x="170.50" y="131.67" width="16.33" height="4.83" fill="#80d0c8"/>
<rect x="185.83" y="131.67" width="24.00" height="4.83" fill="#14c0be"/>
<rect x="208.83" y="131.67" width="4.83" height="4.83" fill="#12a0c8"/>
<rect x="212.67" y="131.67" width="4.83" height="4.83" fill="#0a6ed0"/>
<rect x="216.50" y="131.67" width="8.67" height="4.83" fill="#0c48c8"/>
<rect x="224.17" y="131.67" width="4.83" height="4.83" fill="#2228c0"/>
<rect x="228.00" y="131.67" width="8.67" height="4.83" fill="#1e1a26"/>
<rect x="235.67" y="131.67" width="3.83" height="4.83" fill="#8a8a87"/>
<rect x="170.50" y="135.50" width="31.67" height="4.83" fill="#14c0be"/>
<rect x="201.17" y="135.50" width="8.67" height="4.83" fill="#12a0c8"/>
<rect x="208.83" y="135.50" width="4.83" height="4.83" fill="#0a6ed0"/>
<rect x="212.67" y="135.50" width="8.67" height="4.83" fill="#0c48c8"/>
<rect x="220.33" y="135.50" width="8.67" height="4.83" fill="#2228c0"/>
<rect x="228.00" y="135.50" width="4.83" height="4.83" fill="#1e1a26"/>
<rect x="231.83" y="135.50" width="4.83" height="4.83" fill="#4c4a52"/>
<rect x="235.67" y="135.50" width="3.83" height="4.83" fill="#8a8a87"/>
<rect x="170.50" y="139.33" width="31.67" height="4.83" fill="#14c0be"/>
<rect x="201.17" y="139.33" width="8.67" height="4.83" fill="#12a0c8"/>
<rect x="208.83" y="139.33" width="4.83" height="4.83" fill="#0a6ed0"/>
<rect x="212.67" y="139.33" width="8.67" height="4.83" fill="#0c48c8"/>
<rect x="220.33" y="139.33" width="8.67" height="4.83" fill="#2228c0"/>
<rect x="228.00" y="139.33" width="8.67" height="4.83" fill="#1e1a26"/>
<rect x="235.67" y="139.33" width="3.83" height="4.83" fill="#8a8a87"/>
<rect x="170.50" y="143.17" width="27.83" height="4.83" fill="#80d0c8"/>
<rect x="197.33" y="143.17" width="20.17" height="4.83" fill="#14c0be"/>
<rect x="216.50" y="143.17" width="4.83" height="4.83" fill="#12a0c8"/>
<rect x="220.33" y="143.17" width="4.83" height="4.83" fill="#0a6ed0"/>
<rect x="224.17" y="143.17" width="4.83" height="4.83" fill="#2228c0"/>
<rect x="228.00" y="143.17" width="4.83" height="4.83" fill="#1e1a26"/>
<rect x="231.83" y="143.17" width="4.83" height="4.83" fill="#4c4a52"/>
<rect x="235.67" y="143.17" width="3.83" height="4.83" fill="#8a8a87"/>
<rect x="170.50" y="147.00" width="27.83" height="4.83" fill="#80d0c8"/>
<rect x="197.33" y="147.00" width="20.17" height="4.83" fill="#14c0be"/>
<rect x="216.50" y="147.00" width="4.83" height="4.83" fill="#12a0c8"/>
<rect x="220.33" y="147.00" width="4.83" height="4.83" fill="#0a6ed0"/>
<rect x="224.17" y="147.00" width="4.83" height="4.83" fill="#2228c0"/>
<rect x="228.00" y="147.00" width="8.67" height="4.83" fill="#1e1a26"/>
<rect x="235.67" y="147.00" width="3.83" height="4.83" fill="#8a8a87"/>
<rect x="170.50" y="150.83" width="24.00" height="4.83" fill="#d4c830"/>
<rect x="193.50" y="150.83" width="8.67" height="4.83" fill="#c4bead"/>
<rect x="201.17" y="150.83" width="24.00" height="4.83" fill="#14c0be"/>
<rect x="224.17" y="150.83" width="8.67" height="4.83" fill="#0a6ed0"/>
<rect x="231.83" y="150.83" width="4.83" height="4.83" fill="#0c48c8"/>
<rect x="235.67" y="150.83" width="3.83" height="4.83" fill="#8a8a87"/>
<rect x="170.50" y="154.67" width="24.00" height="4.83" fill="#d4c830"/>
<rect x="193.50" y="154.67" width="8.67" height="4.83" fill="#c4bead"/>
<rect x="201.17" y="154.67" width="24.00" height="4.83" fill="#14c0be"/>
<rect x="224.17" y="154.67" width="8.67" height="4.83" fill="#0a6ed0"/>
<rect x="231.83" y="154.67" width="4.83" height="4.83" fill="#0c48c8"/>
<rect x="235.67" y="154.67" width="3.83" height="4.83" fill="#8a8a87"/>
<rect x="33.50" y="158.50" width="4.78" height="4.78" fill="#0a6ed0"/>
<rect x="37.28" y="158.50" width="12.33" height="4.78" fill="#0c48c8"/>
<rect x="48.61" y="158.50" width="16.11" height="4.78" fill="#2228c0"/>
<rect x="63.72" y="158.50" width="23.67" height="4.78" fill="#2c0a8c"/>
<rect x="86.39" y="158.50" width="16.11" height="4.78" fill="#8a8a87"/>
<rect x="33.50" y="162.28" width="4.78" height="4.78" fill="#0c48c8"/>
<rect x="37.28" y="162.28" width="4.78" height="4.78" fill="#2228c0"/>
<rect x="41.06" y="162.28" width="23.67" height="4.78" fill="#2a12b0"/>
<rect x="63.72" y="162.28" width="8.56" height="4.78" fill="#2c0a8c"/>
<rect x="71.28" y="162.28" width="4.78" height="4.78" fill="#1e1a26"/>
<rect x="75.06" y="162.28" width="4.78" height="4.78" fill="#4c4a52"/>
<rect x="78.83" y="162.28" width="8.56" height="4.78" fill="#2c0a8c"/>
<rect x="86.39" y="162.28" width="16.11" height="4.78" fill="#8a8a87"/>
<rect x="33.50" y="166.06" width="4.78" height="4.78" fill="#0a6ed0"/>
<rect x="37.28" y="166.06" width="12.33" height="4.78" fill="#0c48c8"/>
<rect x="48.61" y="166.06" width="16.11" height="4.78" fill="#2228c0"/>
<rect x="63.72" y="166.06" width="12.33" height="4.78" fill="#2c0a8c"/>
<rect x="75.06" y="166.06" width="4.78" height="4.78" fill="#1e1a26"/>
<rect x="78.83" y="166.06" width="8.56" height="4.78" fill="#2c0a8c"/>
<rect x="86.39" y="166.06" width="4.78" height="4.78" fill="#1e1a26"/>
<rect x="90.17" y="166.06" width="12.33" height="4.78" fill="#8a8a87"/>
<rect x="33.50" y="169.83" width="4.78" height="4.78" fill="#0c48c8"/>
<rect x="37.28" y="169.83" width="4.78" height="4.78" fill="#2228c0"/>
<rect x="41.06" y="169.83" width="23.67" height="4.78" fill="#2a12b0"/>
<rect x="63.72" y="169.83" width="12.33" height="4.78" fill="#2c0a8c"/>
<rect x="75.06" y="169.83" width="4.78" height="4.78" fill="#1e1a26"/>
<rect x="78.83" y="169.83" width="8.56" height="4.78" fill="#2c0a8c"/>
<rect x="86.39" y="169.83" width="4.78" height="4.78" fill="#4c4a52"/>
<rect x="90.17" y="169.83" width="12.33" height="4.78" fill="#8a8a87"/>
<rect x="33.50" y="173.61" width="4.78" height="4.78" fill="#0a6ed0"/>
<rect x="37.28" y="173.61" width="12.33" height="4.78" fill="#0c48c8"/>
<rect x="48.61" y="173.61" width="16.11" height="4.78" fill="#2228c0"/>
<rect x="63.72" y="173.61" width="23.67" height="4.78" fill="#2c0a8c"/>
<rect x="86.39" y="173.61" width="8.56" height="4.78" fill="#1e1a26"/>
<rect x="93.94" y="173.61" width="8.56" height="4.78" fill="#8a8a87"/>
<rect x="33.50" y="177.39" width="4.78" height="4.78" fill="#0c48c8"/>
<rect x="37.28" y="177.39" width="4.78" height="4.78" fill="#2228c0"/>
<rect x="41.06" y="177.39" width="23.67" height="4.78" fill="#2a12b0"/>
<rect x="63.72" y="177.39" width="23.67" height="4.78" fill="#2c0a8c"/>
<rect x="86.39" y="177.39" width="4.78" height="4.78" fill="#1e1a26"/>
<rect x="90.17" y="177.39" width="4.78" height="4.78" fill="#4c4a52"/>
<rect x="93.94" y="177.39" width="8.56" height="4.78" fill="#8a8a87"/>
<rect x="33.50" y="181.17" width="4.78" height="4.78" fill="#0a6ed0"/>
<rect x="37.28" y="181.17" width="12.33" height="4.78" fill="#0c48c8"/>
<rect x="48.61" y="181.17" width="16.11" height="4.78" fill="#2228c0"/>
<rect x="63.72" y="181.17" width="23.67" height="4.78" fill="#2c0a8c"/>
<rect x="86.39" y="181.17" width="12.33" height="4.78" fill="#1e1a26"/>
<rect x="97.72" y="181.17" width="4.78" height="4.78" fill="#8a8a87"/>
<rect x="33.50" y="184.94" width="4.78" height="4.78" fill="#0c48c8"/>
<rect x="37.28" y="184.94" width="4.78" height="4.78" fill="#2228c0"/>
<rect x="41.06" y="184.94" width="23.67" height="4.78" fill="#2a12b0"/>
<rect x="63.72" y="184.94" width="23.67" height="4.78" fill="#2c0a8c"/>
<rect x="86.39" y="184.94" width="8.56" height="4.78" fill="#1e1a26"/>
<rect x="93.94" y="184.94" width="4.78" height="4.78" fill="#4c4a52"/>
<rect x="97.72" y="184.94" width="4.78" height="4.78" fill="#8a8a87"/>
<rect x="33.50" y="188.72" width="4.78" height="4.78" fill="#12a0c8"/>
<rect x="37.28" y="188.72" width="12.33" height="4.78" fill="#0c48c8"/>
<rect x="48.61" y="188.72" width="16.11" height="4.78" fill="#2228c0"/>
<rect x="63.72" y="188.72" width="4.78" height="4.78" fill="#2a12b0"/>
<rect x="67.50" y="188.72" width="19.89" height="4.78" fill="#2c0a8c"/>
<rect x="86.39" y="188.72" width="16.11" height="4.78" fill="#1e1a26"/>
<rect x="33.50" y="192.50" width="23.67" height="4.78" fill="#0a6ed0"/>
<rect x="56.17" y="192.50" width="8.56" height="4.78" fill="#2228c0"/>
<rect x="63.72" y="192.50" width="23.67" height="4.78" fill="#2a12b0"/>
<rect x="86.39" y="192.50" width="8.56" height="4.78" fill="#1e1a26"/>
<rect x="93.94" y="192.50" width="4.78" height="4.78" fill="#4c4a52"/>
<rect x="97.72" y="192.50" width="4.78" height="4.78" fill="#1e1a26"/>
<rect x="33.50" y="196.28" width="23.67" height="4.78" fill="#12a0c8"/>
<rect x="56.17" y="196.28" width="8.56" height="4.78" fill="#0c48c8"/>
<rect x="63.72" y="196.28" width="23.67" height="4.78" fill="#2a12b0"/>
<rect x="86.39" y="196.28" width="8.56" height="4.78" fill="#2c0c60"/>
<rect x="93.94" y="196.28" width="4.78" height="4.78" fill="#2c0a8c"/>
<rect x="97.72" y="196.28" width="4.78" height="4.78" fill="#2c0c60"/>
<rect x="33.50" y="200.06" width="23.67" height="4.78" fill="#12a0c8"/>
<rect x="56.17" y="200.06" width="8.56" height="4.78" fill="#0c48c8"/>
<rect x="63.72" y="200.06" width="23.67" height="4.78" fill="#2a12b0"/>
<rect x="86.39" y="200.06" width="16.11" height="4.78" fill="#2c0a8c"/>
<rect x="33.50" y="203.83" width="23.67" height="4.78" fill="#0a6ed0"/>
<rect x="56.17" y="203.83" width="8.56" height="4.78" fill="#0c48c8"/>
<rect x="63.72" y="203.83" width="23.67" height="4.78" fill="#2a12b0"/>
<rect x="86.39" y="203.83" width="16.11" height="4.78" fill="#2c0a8c"/>
<rect x="33.50" y="207.61" width="23.67" height="4.78" fill="#0a6ed0"/>
<rect x="56.17" y="207.61" width="8.56" height="4.78" fill="#0c48c8"/>
<rect x="63.72" y="207.61" width="4.78" height="4.78" fill="#2228c0"/>
<rect x="67.50" y="207.61" width="19.89" height="4.78" fill="#2a12b0"/>
<rect x="86.39" y="207.61" width="16.11" height="4.78" fill="#2c0a8c"/>
<rect x="33.50" y="211.39" width="23.67" height="4.78" fill="#14c0be"/>
<rect x="56.17" y="211.39" width="8.56" height="4.78" fill="#0a6ed0"/>
<rect x="63.72" y="211.39" width="23.67" height="4.78" fill="#0c48c8"/>
<rect x="86.39" y="211.39" width="16.11" height="4.78" fill="#2a12b0"/>
<rect x="33.50" y="215.17" width="23.67" height="4.78" fill="#14c0be"/>
<rect x="56.17" y="215.17" width="8.56" height="4.78" fill="#0a6ed0"/>
<rect x="63.72" y="215.17" width="23.67" height="4.78" fill="#0c48c8"/>
<rect x="86.39" y="215.17" width="16.11" height="4.78" fill="#2a12b0"/>
<rect x="33.50" y="218.94" width="19.89" height="4.78" fill="#c4bead"/>
<rect x="52.39" y="218.94" width="4.78" height="4.78" fill="#14c0be"/>
<rect x="56.17" y="218.94" width="8.56" height="4.78" fill="#12a0c8"/>
<rect x="63.72" y="218.94" width="23.67" height="4.78" fill="#0c48c8"/>
<rect x="86.39" y="218.94" width="4.78" height="4.78" fill="#2228c0"/>
<rect x="90.17" y="218.94" width="12.33" height="4.78" fill="#2a12b0"/>
<rect x="33.50" y="222.72" width="8.56" height="3.78" fill="#c4bead"/>
<rect x="41.06" y="222.72" width="16.11" height="3.78" fill="#14c0be"/>
<rect x="56.17" y="222.72" width="12.33" height="3.78" fill="#12a0c8"/>
<rect x="67.50" y="222.72" width="19.89" height="3.78" fill="#0c48c8"/>
<rect x="86.39" y="222.72" width="4.78" height="3.78" fill="#2228c0"/>
<rect x="90.17" y="222.72" width="12.33" height="3.78" fill="#2a12b0"/>
<rect x="101.50" y="158.50" width="24.00" height="4.78" fill="#14c0be"/>
<rect x="124.50" y="158.50" width="8.67" height="4.78" fill="#12a0c8"/>
<rect x="132.17" y="158.50" width="8.67" height="4.78" fill="#0a6ed0"/>
<rect x="139.83" y="158.50" width="4.83" height="4.78" fill="#0c48c8"/>
<rect x="143.67" y="158.50" width="12.50" height="4.78" fill="#2a12b0"/>
<rect x="155.17" y="158.50" width="4.83" height="4.78" fill="#4c4a52"/>
<rect x="159.00" y="158.50" width="12.50" height="4.78" fill="#8a8a87"/>
<rect x="101.50" y="162.28" width="24.00" height="4.78" fill="#14c0be"/>
<rect x="124.50" y="162.28" width="8.67" height="4.78" fill="#12a0c8"/>
<rect x="132.17" y="162.28" width="8.67" height="4.78" fill="#0a6ed0"/>
<rect x="139.83" y="162.28" width="4.83" height="4.78" fill="#0c48c8"/>
<rect x="143.67" y="162.28" width="4.83" height="4.78" fill="#2c0c60"/>
<rect x="147.50" y="162.28" width="8.67" height="4.78" fill="#2a12b0"/>
<rect x="155.17" y="162.28" width="4.83" height="4.78" fill="#4c4a52"/>
<rect x="159.00" y="162.28" width="12.50" height="4.78" fill="#8a8a87"/>
<rect x="101.50" y="166.06" width="12.50" height="4.78" fill="#80d0c8"/>
<rect x="113.00" y="166.06" width="12.50" height="4.78" fill="#14c0be"/>
<rect x="124.50" y="166.06" width="4.83" height="4.78" fill="#12a0c8"/>
<rect x="128.33" y="166.06" width="12.50" height="4.78" fill="#0a6ed0"/>
<rect x="139.83" y="166.06" width="4.83" height="4.78" fill="#0c48c8"/>
<rect x="143.67" y="166.06" width="12.50" height="4.78" fill="#2a12b0"/>
<rect x="155.17" y="166.06" width="4.83" height="4.78" fill="#4c4a52"/>
<rect x="159.00" y="166.06" width="12.50" height="4.78" fill="#8a8a87"/>
<rect x="101.50" y="169.83" width="24.00" height="4.78" fill="#14c0be"/>
<rect x="124.50" y="169.83" width="8.67" height="4.78" fill="#12a0c8"/>
<rect x="132.17" y="169.83" width="8.67" height="4.78" fill="#0a6ed0"/>
<rect x="139.83" y="169.83" width="4.83" height="4.78" fill="#0c48c8"/>
<rect x="143.67" y="169.83" width="4.83" height="4.78" fill="#2c0c60"/>
<rect x="147.50" y="169.83" width="8.67" height="4.78" fill="#2a12b0"/>
<rect x="155.17" y="169.83" width="4.83" height="4.78" fill="#1e1a26"/>
<rect x="159.00" y="169.83" width="12.50" height="4.78" fill="#8a8a87"/>
<rect x="101.50" y="173.61" width="20.17" height="4.78" fill="#80d0c8"/>
<rect x="120.67" y="173.61" width="4.83" height="4.78" fill="#14c0be"/>
<rect x="124.50" y="173.61" width="8.67" height="4.78" fill="#12a0c8"/>
<rect x="132.17" y="173.61" width="8.67" height="4.78" fill="#0a6ed0"/>
<rect x="139.83" y="173.61" width="4.83" height="4.78" fill="#0c48c8"/>
<rect x="143.67" y="173.61" width="4.83" height="4.78" fill="#2c0c60"/>
<rect x="147.50" y="173.61" width="8.67" height="4.78" fill="#2a12b0"/>
<rect x="155.17" y="173.61" width="4.83" height="4.78" fill="#4c4a52"/>
<rect x="159.00" y="173.61" width="12.50" height="4.78" fill="#8a8a87"/>
<rect x="101.50" y="177.39" width="8.67" height="4.78" fill="#80d0c8"/>
<rect x="109.17" y="177.39" width="16.33" height="4.78" fill="#14c0be"/>
<rect x="124.50" y="177.39" width="8.67" height="4.78" fill="#12a0c8"/>
<rect x="132.17" y="177.39" width="8.67" height="4.78" fill="#0a6ed0"/>
<rect x="139.83" y="177.39" width="4.83" height="4.78" fill="#0c48c8"/>
<rect x="143.67" y="177.39" width="12.50" height="4.78" fill="#2a12b0"/>
<rect x="155.17" y="177.39" width="4.83" height="4.78" fill="#1e1a26"/>
<rect x="159.00" y="177.39" width="12.50" height="4.78" fill="#8a8a87"/>
<rect x="101.50" y="181.17" width="24.00" height="4.78" fill="#14c0be"/>
<rect x="124.50" y="181.17" width="8.67" height="4.78" fill="#12a0c8"/>
<rect x="132.17" y="181.17" width="8.67" height="4.78" fill="#0a6ed0"/>
<rect x="139.83" y="181.17" width="4.83" height="4.78" fill="#0c48c8"/>
<rect x="143.67" y="181.17" width="4.83" height="4.78" fill="#2c0c60"/>
<rect x="147.50" y="181.17" width="8.67" height="4.78" fill="#2a12b0"/>
<rect x="155.17" y="181.17" width="4.83" height="4.78" fill="#4c4a52"/>
<rect x="159.00" y="181.17" width="4.83" height="4.78" fill="#1e1a26"/>
<rect x="162.83" y="181.17" width="8.67" height="4.78" fill="#8a8a87"/>
<rect x="101.50" y="184.94" width="24.00" height="4.78" fill="#14c0be"/>
<rect x="124.50" y="184.94" width="8.67" height="4.78" fill="#12a0c8"/>
<rect x="132.17" y="184.94" width="8.67" height="4.78" fill="#0a6ed0"/>
<rect x="139.83" y="184.94" width="4.83" height="4.78" fill="#0c48c8"/>
<rect x="143.67" y="184.94" width="12.50" height="4.78" fill="#2a12b0"/>
<rect x="155.17" y="184.94" width="4.83" height="4.78" fill="#4c4a52"/>
<rect x="159.00" y="184.94" width="4.83" height="4.78" fill="#8a8a87"/>
<rect x="162.83" y="184.94" width="4.83" height="4.78" fill="#1e1a26"/>
<rect x="166.67" y="184.94" width="4.83" height="4.78" fill="#8a8a87"/>
<rect x="101.50" y="188.72" width="24.00" height="4.78" fill="#14c0be"/>
<rect x="124.50" y="188.72" width="8.67" height="4.78" fill="#12a0c8"/>
<rect x="132.17" y="188.72" width="8.67" height="4.78" fill="#0a6ed0"/>
<rect x="139.83" y="188.72" width="4.83" height="4.78" fill="#0c48c8"/>
<rect x="143.67" y="188.72" width="4.83" height="4.78" fill="#2c0c60"/>
<rect x="147.50" y="188.72" width="8.67" height="4.78" fill="#2a12b0"/>
<rect x="155.17" y="188.72" width="4.83" height="4.78" fill="#1e1a26"/>
<rect x="159.00" y="188.72" width="12.50" height="4.78" fill="#8a8a87"/>
<rect x="101.50" y="192.50" width="24.00" height="4.78" fill="#14c0be"/>
<rect x="124.50" y="192.50" width="4.83" height="4.78" fill="#12a0c8"/>
<rect x="128.33" y="192.50" width="4.83" height="4.78" fill="#14c0be"/>
<rect x="132.17" y="192.50" width="8.67" height="4.78" fill="#12a0c8"/>
<rect x="139.83" y="192.50" width="4.83" height="4.78" fill="#0a6ed0"/>
<rect x="143.67" y="192.50" width="8.67" height="4.78" fill="#0c48c8"/>
<rect x="151.33" y="192.50" width="4.83" height="4.78" fill="#2a12b0"/>
<rect x="155.17" y="192.50" width="4.83" height="4.78" fill="#1e1a26"/>
<rect x="159.00" y="192.50" width="4.83" height="4.78" fill="#4c4a52"/>
<rect x="162.83" y="192.50" width="8.67" height="4.78" fill="#8a8a87"/>
<rect x="101.50" y="196.28" width="24.00" height="4.78" fill="#c4bead"/>
<rect x="124.50" y="196.28" width="4.83" height="4.78" fill="#14c0be"/>
<rect x="128.33" y="196.28" width="4.83" height="4.78" fill="#12a0c8"/>
<rect x="132.17" y="196.28" width="4.83" height="4.78" fill="#14c0be"/>
<rect x="136.00" y="196.28" width="4.83" height="4.78" fill="#12a0c8"/>
<rect x="139.83" y="196.28" width="4.83" height="4.78" fill="#14c0be"/>
<rect x="143.67" y="196.28" width="4.83" height="4.78" fill="#0a6ed0"/>
<rect x="147.50" y="196.28" width="8.67" height="4.78" fill="#0c48c8"/>
<rect x="155.17" y="196.28" width="8.67" height="4.78" fill="#1e1a26"/>
<rect x="162.83" y="196.28" width="4.83" height="4.78" fill="#4c4a52"/>
<rect x="166.67" y="196.28" width="4.83" height="4.78" fill="#8a8a87"/>
<rect x="101.50" y="200.06" width="24.00" height="4.78" fill="#c4bead"/>
<rect x="124.50" y="200.06" width="4.83" height="4.78" fill="#14c0be"/>
<rect x="128.33" y="200.06" width="4.83" height="4.78" fill="#12a0c8"/>
<rect x="132.17" y="200.06" width="12.50" height="4.78" fill="#14c0be"/>
<rect x="143.67" y="200.06" width="4.83" height="4.78" fill="#0a6ed0"/>
<rect x="147.50" y="200.06" width="8.67" height="4.78" fill="#0c48c8"/>
<rect x="155.17" y="200.06" width="4.83" height="4.78" fill="#1e1a26"/>
<rect x="159.00" y="200.06" width="4.83" height="4.78" fill="#4c4a52"/>
<rect x="162.83" y="200.06" width="4.83" height="4.78" fill="#1e1a26"/>
<rect x="166.67" y="200.06" width="4.83" height="4.78" fill="#8a8a87"/>
<rect x="101.50" y="203.83" width="43.17" height="4.78" fill="#14c0be"/>
<rect x="143.67" y="203.83" width="4.83" height="4.78" fill="#0a6ed0"/>
<rect x="147.50" y="203.83" width="8.67" height="4.78" fill="#0c48c8"/>
<rect x="155.17" y="203.83" width="4.83" height="4.78" fill="#1e1a26"/>
<rect x="159.00" y="203.83" width="4.83" height="4.78" fill="#4c4a52"/>
<rect x="162.83" y="203.83" width="4.83" height="4.78" fill="#1e1a26"/>
<rect x="166.67" y="203.83" width="4.83" height="4.78" fill="#8a8a87"/>
<rect x="101.50" y="207.61" width="43.17" height="4.78" fill="#14c0be"/>
<rect x="143.67" y="207.61" width="4.83" height="4.78" fill="#0a6ed0"/>
<rect x="147.50" y="207.61" width="8.67" height="4.78" fill="#0c48c8"/>
<rect x="155.17" y="207.61" width="8.67" height="4.78" fill="#1e1a26"/>
<rect x="162.83" y="207.61" width="4.83" height="4.78" fill="#4c4a52"/>
<rect x="166.67" y="207.61" width="4.83" height="4.78" fill="#8a8a87"/>
<rect x="101.50" y="211.39" width="24.00" height="4.78" fill="#c4bead"/>
<rect x="124.50" y="211.39" width="4.83" height="4.78" fill="#14c0be"/>
<rect x="128.33" y="211.39" width="4.83" height="4.78" fill="#80d0c8"/>
<rect x="132.17" y="211.39" width="12.50" height="4.78" fill="#14c0be"/>
<rect x="143.67" y="211.39" width="8.67" height="4.78" fill="#0a6ed0"/>
<rect x="151.33" y="211.39" width="4.83" height="4.78" fill="#0c48c8"/>
<rect x="155.17" y="211.39" width="4.83" height="4.78" fill="#1e1a26"/>
<rect x="159.00" y="211.39" width="4.83" height="4.78" fill="#4c4a52"/>
<rect x="162.83" y="211.39" width="4.83" height="4.78" fill="#1e1a26"/>
<rect x="166.67" y="211.39" width="4.83" height="4.78" fill="#8a8a87"/>
<rect x="101.50" y="215.17" width="24.00" height="4.78" fill="#c4bead"/>
<rect x="124.50" y="215.17" width="4.83" height="4.78" fill="#80d0c8"/>
<rect x="128.33" y="215.17" width="12.50" height="4.78" fill="#14c0be"/>
<rect x="139.83" y="215.17" width="4.83" height="4.78" fill="#12a0c8"/>
<rect x="143.67" y="215.17" width="8.67" height="4.78" fill="#0a6ed0"/>
<rect x="151.33" y="215.17" width="4.83" height="4.78" fill="#0c48c8"/>
<rect x="155.17" y="215.17" width="4.83" height="4.78" fill="#4c4a52"/>
<rect x="159.00" y="215.17" width="8.67" height="4.78" fill="#1e1a26"/>
<rect x="166.67" y="215.17" width="4.83" height="4.78" fill="#8a8a87"/>
<rect x="101.50" y="218.94" width="24.00" height="4.78" fill="#e26c0c"/>
<rect x="124.50" y="218.94" width="4.83" height="4.78" fill="#d4c830"/>
<rect x="128.33" y="218.94" width="4.83" height="4.78" fill="#80d0c8"/>
<rect x="132.17" y="218.94" width="8.67" height="4.78" fill="#14c0be"/>
<rect x="139.83" y="218.94" width="4.83" height="4.78" fill="#80d0c8"/>
<rect x="143.67" y="218.94" width="4.83" height="4.78" fill="#12a0c8"/>
<rect x="147.50" y="218.94" width="4.83" height="4.78" fill="#0a6ed0"/>
<rect x="151.33" y="218.94" width="4.83" height="4.78" fill="#0c48c8"/>
<rect x="155.17" y="218.94" width="8.67" height="4.78" fill="#1e1a26"/>
<rect x="162.83" y="218.94" width="4.83" height="4.78" fill="#4c4a52"/>
<rect x="166.67" y="218.94" width="4.83" height="4.78" fill="#8a8a87"/>
<rect x="101.50" y="222.72" width="24.00" height="3.78" fill="#d4c830"/>
<rect x="124.50" y="222.72" width="4.83" height="3.78" fill="#c4bead"/>
<rect x="128.33" y="222.72" width="8.67" height="3.78" fill="#80d0c8"/>
<rect x="136.00" y="222.72" width="4.83" height="3.78" fill="#c4bead"/>
<rect x="139.83" y="222.72" width="4.83" height="3.78" fill="#12a0c8"/>
<rect x="143.67" y="222.72" width="8.67" height="3.78" fill="#0a6ed0"/>
<rect x="151.33" y="222.72" width="4.83" height="3.78" fill="#0c48c8"/>
<rect x="155.17" y="222.72" width="4.83" height="3.78" fill="#1e1a26"/>
<rect x="159.00" y="222.72" width="4.83" height="3.78" fill="#4c4a52"/>
<rect x="162.83" y="222.72" width="4.83" height="3.78" fill="#1e1a26"/>
<rect x="166.67" y="222.72" width="4.83" height="3.78" fill="#8a8a87"/>
<rect x="170.50" y="158.50" width="24.00" height="4.78" fill="#d4c830"/>
<rect x="193.50" y="158.50" width="4.83" height="4.78" fill="#c4bead"/>
<rect x="197.33" y="158.50" width="4.83" height="4.78" fill="#14c0be"/>
<rect x="201.17" y="158.50" width="8.67" height="4.78" fill="#2a12b0"/>
<rect x="208.83" y="158.50" width="4.83" height="4.78" fill="#2c0c60"/>
<rect x="212.67" y="158.50" width="4.83" height="4.78" fill="#1e1a26"/>
<rect x="216.50" y="158.50" width="8.67" height="4.78" fill="#0c48c8"/>
<rect x="224.17" y="158.50" width="15.33" height="4.78" fill="#8a8a87"/>
<rect x="170.50" y="162.28" width="24.00" height="4.78" fill="#d4c830"/>
<rect x="193.50" y="162.28" width="8.67" height="4.78" fill="#c4bead"/>
<rect x="201.17" y="162.28" width="4.83" height="4.78" fill="#2228c0"/>
<rect x="205.00" y="162.28" width="4.83" height="4.78" fill="#2a12b0"/>
<rect x="208.83" y="162.28" width="4.83" height="4.78" fill="#2c0c60"/>
<rect x="212.67" y="162.28" width="4.83" height="4.78" fill="#1e1a26"/>
<rect x="216.50" y="162.28" width="8.67" height="4.78" fill="#0c48c8"/>
<rect x="224.17" y="162.28" width="15.33" height="4.78" fill="#8a8a87"/>
<rect x="170.50" y="166.06" width="8.67" height="4.78" fill="#e26c0c"/>
<rect x="178.17" y="166.06" width="16.33" height="4.78" fill="#d4c830"/>
<rect x="193.50" y="166.06" width="8.67" height="4.78" fill="#c4bead"/>
<rect x="201.17" y="166.06" width="4.83" height="4.78" fill="#14c0be"/>
<rect x="205.00" y="166.06" width="8.67" height="4.78" fill="#2a12b0"/>
<rect x="212.67" y="166.06" width="4.83" height="4.78" fill="#1e1a26"/>
<rect x="216.50" y="166.06" width="8.67" height="4.78" fill="#0c48c8"/>
<rect x="224.17" y="166.06" width="15.33" height="4.78" fill="#8a8a87"/>
<rect x="170.50" y="169.83" width="24.00" height="4.78" fill="#d4c830"/>
<rect x="193.50" y="169.83" width="12.50" height="4.78" fill="#c4bead"/>
<rect x="205.00" y="169.83" width="4.83" height="4.78" fill="#14c0be"/>
<rect x="208.83" y="169.83" width="4.83" height="4.78" fill="#2a12b0"/>
<rect x="212.67" y="169.83" width="4.83" height="4.78" fill="#2c0c60"/>
<rect x="216.50" y="169.83" width="4.83" height="4.78" fill="#1e1a26"/>
<rect x="220.33" y="169.83" width="4.83" height="4.78" fill="#0c48c8"/>
<rect x="224.17" y="169.83" width="15.33" height="4.78" fill="#8a8a87"/>
<rect x="170.50" y="173.61" width="20.17" height="4.78" fill="#e26c0c"/>
<rect x="189.67" y="173.61" width="4.83" height="4.78" fill="#d4c830"/>
<rect x="193.50" y="173.61" width="12.50" height="4.78" fill="#c4bead"/>
<rect x="205.00" y="173.61" width="4.83" height="4.78" fill="#14c0be"/>
<rect x="208.83" y="173.61" width="4.83" height="4.78" fill="#2a12b0"/>
<rect x="212.67" y="173.61" width="4.83" height="4.78" fill="#1e1a26"/>
<rect x="216.50" y="173.61" width="8.67" height="4.78" fill="#0c48c8"/>
<rect x="224.17" y="173.61" width="15.33" height="4.78" fill="#8a8a87"/>
<rect x="170.50" y="177.39" width="4.83" height="4.78" fill="#d4c830"/>
<rect x="174.33" y="177.39" width="4.83" height="4.78" fill="#e26c0c"/>
<rect x="178.17" y="177.39" width="4.83" height="4.78" fill="#d4c830"/>
<rect x="182.00" y="177.39" width="4.83" height="4.78" fill="#e26c0c"/>
<rect x="185.83" y="177.39" width="8.67" height="4.78" fill="#d4c830"/>
<rect x="193.50" y="177.39" width="12.50" height="4.78" fill="#c4bead"/>
<rect x="205.00" y="177.39" width="8.67" height="4.78" fill="#14c0be"/>
<rect x="212.67" y="177.39" width="4.83" height="4.78" fill="#1e1a26"/>
<rect x="216.50" y="177.39" width="8.67" height="4.78" fill="#0c48c8"/>
<rect x="224.17" y="177.39" width="15.33" height="4.78" fill="#8a8a87"/>
<rect x="170.50" y="181.17" width="39.33" height="4.78" fill="#c4bead"/>
<rect x="208.83" y="181.17" width="4.83" height="4.78" fill="#14c0be"/>
<rect x="212.67" y="181.17" width="4.83" height="4.78" fill="#1e1a26"/>
<rect x="216.50" y="181.17" width="8.67" height="4.78" fill="#0c48c8"/>
<rect x="224.17" y="181.17" width="15.33" height="4.78" fill="#8a8a87"/>
<rect x="170.50" y="184.94" width="39.33" height="4.78" fill="#c4bead"/>
<rect x="208.83" y="184.94" width="4.83" height="4.78" fill="#14c0be"/>
<rect x="212.67" y="184.94" width="4.83" height="4.78" fill="#2a12b0"/>
<rect x="216.50" y="184.94" width="8.67" height="4.78" fill="#0c48c8"/>
<rect x="224.17" y="184.94" width="15.33" height="4.78" fill="#8a8a87"/>
<rect x="170.50" y="188.72" width="24.00" height="4.78" fill="#d4c830"/>
<rect x="193.50" y="188.72" width="24.00" height="4.78" fill="#c4bead"/>
<rect x="216.50" y="188.72" width="4.83" height="4.78" fill="#14c0be"/>
<rect x="220.33" y="188.72" width="4.83" height="4.78" fill="#0c48c8"/>
<rect x="224.17" y="188.72" width="15.33" height="4.78" fill="#8a8a87"/>
<rect x="170.50" y="192.50" width="24.00" height="4.78" fill="#d4c830"/>
<rect x="193.50" y="192.50" width="24.00" height="4.78" fill="#c4bead"/>
<rect x="216.50" y="192.50" width="8.67" height="4.78" fill="#0c48c8"/>
<rect x="224.17" y="192.50" width="15.33" height="4.78" fill="#8a8a87"/>
<rect x="170.50" y="196.28" width="24.00" height="4.78" fill="#e26c0c"/>
<rect x="193.50" y="196.28" width="24.00" height="4.78" fill="#d4c830"/>
<rect x="216.50" y="196.28" width="4.83" height="4.78" fill="#14c0be"/>
<rect x="220.33" y="196.28" width="4.83" height="4.78" fill="#0c48c8"/>
<rect x="224.17" y="196.28" width="15.33" height="4.78" fill="#8a8a87"/>
<rect x="170.50" y="200.06" width="43.17" height="4.78" fill="#d4c830"/>
<rect x="212.67" y="200.06" width="4.83" height="4.78" fill="#c4bead"/>
<rect x="216.50" y="200.06" width="4.83" height="4.78" fill="#14c0be"/>
<rect x="220.33" y="200.06" width="4.83" height="4.78" fill="#0a6ed0"/>
<rect x="224.17" y="200.06" width="15.33" height="4.78" fill="#8a8a87"/>
<rect x="170.50" y="203.83" width="43.17" height="4.78" fill="#d4c830"/>
<rect x="212.67" y="203.83" width="4.83" height="4.78" fill="#c4bead"/>
<rect x="216.50" y="203.83" width="8.67" height="4.78" fill="#14c0be"/>
<rect x="224.17" y="203.83" width="4.83" height="4.78" fill="#4c4a52"/>
<rect x="228.00" y="203.83" width="11.50" height="4.78" fill="#8a8a87"/>
<rect x="170.50" y="207.61" width="43.17" height="4.78" fill="#d4c830"/>
<rect x="212.67" y="207.61" width="8.67" height="4.78" fill="#c4bead"/>
<rect x="220.33" y="207.61" width="4.83" height="4.78" fill="#14c0be"/>
<rect x="224.17" y="207.61" width="4.83" height="4.78" fill="#0a6ed0"/>
<rect x="228.00" y="207.61" width="11.50" height="4.78" fill="#8a8a87"/>
<rect x="170.50" y="211.39" width="27.83" height="4.78" fill="#e26c0c"/>
<rect x="197.33" y="211.39" width="16.33" height="4.78" fill="#d4c830"/>
<rect x="212.67" y="211.39" width="12.50" height="4.78" fill="#c4bead"/>
<rect x="224.17" y="211.39" width="4.83" height="4.78" fill="#4c4a52"/>
<rect x="228.00" y="211.39" width="4.83" height="4.78" fill="#0c48c8"/>
<rect x="231.83" y="211.39" width="4.83" height="4.78" fill="#4c4a52"/>
<rect x="235.67" y="211.39" width="3.83" height="4.78" fill="#8a8a87"/>
<rect x="170.50" y="215.17" width="47.00" height="4.78" fill="#d4c830"/>
<rect x="216.50" y="215.17" width="8.67" height="4.78" fill="#c4bead"/>
<rect x="224.17" y="215.17" width="4.83" height="4.78" fill="#0c48c8"/>
<rect x="228.00" y="215.17" width="4.83" height="4.78" fill="#4c4a52"/>
<rect x="231.83" y="215.17" width="4.83" height="4.78" fill="#0c48c8"/>
<rect x="235.67" y="215.17" width="3.83" height="4.78" fill="#4c4a52"/>
<rect x="170.50" y="218.94" width="24.00" height="4.78" fill="#4a0c1c"/>
<rect x="193.50" y="218.94" width="24.00" height="4.78" fill="#e26c0c"/>
<rect x="216.50" y="218.94" width="4.83" height="4.78" fill="#d4c830"/>
<rect x="220.33" y="218.94" width="4.83" height="4.78" fill="#c4bead"/>
<rect x="224.17" y="218.94" width="4.83" height="4.78" fill="#4c4a52"/>
<rect x="228.00" y="218.94" width="4.83" height="4.78" fill="#0c48c8"/>
<rect x="231.83" y="218.94" width="4.83" height="4.78" fill="#4c4a52"/>
<rect x="235.67" y="218.94" width="3.83" height="4.78" fill="#0c48c8"/>
<rect x="170.50" y="222.72" width="24.00" height="3.78" fill="#d01c2c"/>
<rect x="193.50" y="222.72" width="24.00" height="3.78" fill="#e26c0c"/>
<rect x="216.50" y="222.72" width="4.83" height="3.78" fill="#d4c830"/>
<rect x="220.33" y="222.72" width="4.83" height="3.78" fill="#c4bead"/>
<rect x="224.17" y="222.72" width="4.83" height="3.78" fill="#4c4a52"/>
<rect x="228.00" y="222.72" width="4.83" height="3.78" fill="#0c48c8"/>
<rect x="231.83" y="222.72" width="4.83" height="3.78" fill="#4c4a52"/>
<rect x="235.67" y="222.72" width="3.83" height="3.78" fill="#0c48c8"/>
<rect x="314.50" y="20.50" width="4.83" height="4.83" fill="#a4c4c0"/>
<rect x="318.33" y="20.50" width="20.17" height="4.83" fill="#14c0be"/>
<rect x="337.50" y="20.50" width="16.33" height="4.83" fill="#2088d0"/>
<rect x="352.83" y="20.50" width="31.67" height="4.83" fill="#0a6ed0"/>
<rect x="314.50" y="24.33" width="24.00" height="4.83" fill="#14c0be"/>
<rect x="337.50" y="24.33" width="12.50" height="4.83" fill="#2088d0"/>
<rect x="349.00" y="24.33" width="35.50" height="4.83" fill="#0a6ed0"/>
<rect x="314.50" y="28.17" width="24.00" height="4.83" fill="#a4c4c0"/>
<rect x="337.50" y="28.17" width="4.83" height="4.83" fill="#14c0be"/>
<rect x="341.33" y="28.17" width="12.50" height="4.83" fill="#2088d0"/>
<rect x="352.83" y="28.17" width="4.83" height="4.83" fill="#0a6ed0"/>
<rect x="356.67" y="28.17" width="4.83" height="4.83" fill="#2088d0"/>
<rect x="360.50" y="28.17" width="24.00" height="4.83" fill="#0a6ed0"/>
<rect x="314.50" y="32.00" width="12.50" height="4.83" fill="#a4c4c0"/>
<rect x="326.00" y="32.00" width="12.50" height="4.83" fill="#c4bca4"/>
<rect x="337.50" y="32.00" width="4.83" height="4.83" fill="#14c0be"/>
<rect x="341.33" y="32.00" width="20.17" height="4.83" fill="#2088d0"/>
<rect x="360.50" y="32.00" width="24.00" height="4.83" fill="#0a6ed0"/>
<rect x="314.50" y="35.83" width="8.67" height="4.83" fill="#c8c478"/>
<rect x="322.17" y="35.83" width="16.33" height="4.83" fill="#c4bca4"/>
<rect x="337.50" y="35.83" width="16.33" height="4.83" fill="#14c0be"/>
<rect x="352.83" y="35.83" width="31.67" height="4.83" fill="#12a0c8"/>
<rect x="314.50" y="39.67" width="8.67" height="4.83" fill="#c8c478"/>
<rect x="322.17" y="39.67" width="16.33" height="4.83" fill="#c4bca4"/>
<rect x="337.50" y="39.67" width="8.67" height="4.83" fill="#14c0be"/>
<rect x="345.17" y="39.67" width="27.83" height="4.83" fill="#12a0c8"/>
<rect x="372.00" y="39.67" width="12.50" height="4.83" fill="#0a6ed0"/>
<rect x="314.50" y="43.50" width="24.00" height="4.83" fill="#14c0be"/>
<rect x="337.50" y="43.50" width="4.83" height="4.83" fill="#0a6ed0"/>
<rect x="341.33" y="43.50" width="20.17" height="4.83" fill="#0c48c8"/>
<rect x="360.50" y="43.50" width="24.00" height="4.83" fill="#2a12b0"/>
<rect x="314.50" y="47.33" width="24.00" height="4.83" fill="#14c0be"/>
<rect x="337.50" y="47.33" width="20.17" height="4.83" fill="#0c48c8"/>
<rect x="356.67" y="47.33" width="27.83" height="4.83" fill="#2a12b0"/>
<rect x="314.50" y="51.17" width="24.00" height="4.83" fill="#a4c4c0"/>
<rect x="337.50" y="51.17" width="16.33" height="4.83" fill="#2088d0"/>
<rect x="352.83" y="51.17" width="20.17" height="4.83" fill="#0a6ed0"/>
<rect x="372.00" y="51.17" width="12.50" height="4.83" fill="#0c48c8"/>
<rect x="314.50" y="55.00" width="24.00" height="4.83" fill="#14c0be"/>
<rect x="337.50" y="55.00" width="4.83" height="4.83" fill="#12a0c8"/>
<rect x="341.33" y="55.00" width="8.67" height="4.83" fill="#0a6ed0"/>
<rect x="349.00" y="55.00" width="24.00" height="4.83" fill="#0c48c8"/>
<rect x="372.00" y="55.00" width="12.50" height="4.83" fill="#2a12b0"/>
<rect x="314.50" y="58.83" width="8.67" height="4.83" fill="#c4bca4"/>
<rect x="322.17" y="58.83" width="16.33" height="4.83" fill="#80d0c8"/>
<rect x="337.50" y="58.83" width="4.83" height="4.83" fill="#14c0be"/>
<rect x="341.33" y="58.83" width="4.83" height="4.83" fill="#12a0c8"/>
<rect x="345.17" y="58.83" width="4.83" height="4.83" fill="#0a6ed0"/>
<rect x="349.00" y="58.83" width="27.83" height="4.83" fill="#0c48c8"/>
<rect x="375.83" y="58.83" width="8.67" height="4.83" fill="#2a12b0"/>
<rect x="314.50" y="62.67" width="4.83" height="4.83" fill="#c4bca4"/>
<rect x="318.33" y="62.67" width="20.17" height="4.83" fill="#80d0c8"/>
<rect x="337.50" y="62.67" width="4.83" height="4.83" fill="#12a0c8"/>
<rect x="341.33" y="62.67" width="8.67" height="4.83" fill="#0a6ed0"/>
<rect x="349.00" y="62.67" width="24.00" height="4.83" fill="#0c48c8"/>
<rect x="372.00" y="62.67" width="12.50" height="4.83" fill="#2a12b0"/>
<rect x="314.50" y="66.50" width="24.00" height="4.83" fill="#40b0d0"/>
<rect x="337.50" y="66.50" width="4.83" height="4.83" fill="#0a6ed0"/>
<rect x="341.33" y="66.50" width="12.50" height="4.83" fill="#0c48c8"/>
<rect x="352.83" y="66.50" width="31.67" height="4.83" fill="#2a12b0"/>
<rect x="314.50" y="70.33" width="24.00" height="4.83" fill="#40b0d0"/>
<rect x="337.50" y="70.33" width="16.33" height="4.83" fill="#0c48c8"/>
<rect x="352.83" y="70.33" width="16.33" height="4.83" fill="#2a12b0"/>
<rect x="368.17" y="70.33" width="4.83" height="4.83" fill="#4c4a52"/>
<rect x="372.00" y="70.33" width="4.83" height="4.83" fill="#1e1a26"/>
<rect x="375.83" y="70.33" width="4.83" height="4.83" fill="#4c4a52"/>
<rect x="379.67" y="70.33" width="4.83" height="4.83" fill="#2a12b0"/>
<rect x="314.50" y="74.17" width="24.00" height="4.83" fill="#40b0d0"/>
<rect x="337.50" y="74.17" width="8.67" height="4.83" fill="#0a6ed0"/>
<rect x="345.17" y="74.17" width="39.33" height="4.83" fill="#0c48c8"/>
<rect x="314.50" y="78.00" width="24.00" height="4.83" fill="#40b0d0"/>
<rect x="337.50" y="78.00" width="4.83" height="4.83" fill="#12a0c8"/>
<rect x="341.33" y="78.00" width="8.67" height="4.83" fill="#0a6ed0"/>
<rect x="349.00" y="78.00" width="35.50" height="4.83" fill="#0c48c8"/>
<rect x="314.50" y="81.83" width="4.83" height="4.83" fill="#a4c4c0"/>
<rect x="318.33" y="81.83" width="4.83" height="4.83" fill="#80d0c8"/>
<rect x="322.17" y="81.83" width="8.67" height="4.83" fill="#a4c4c0"/>
<rect x="329.83" y="81.83" width="8.67" height="4.83" fill="#80d0c8"/>
<rect x="337.50" y="81.83" width="4.83" height="4.83" fill="#2088d0"/>
<rect x="341.33" y="81.83" width="27.83" height="4.83" fill="#0a6ed0"/>
<rect x="368.17" y="81.83" width="12.50" height="4.83" fill="#0c48c8"/>
<rect x="379.67" y="81.83" width="4.83" height="4.83" fill="#2a12b0"/>
<rect x="314.50" y="85.67" width="4.83" height="4.83" fill="#80d0c8"/>
<rect x="318.33" y="85.67" width="4.83" height="4.83" fill="#a4c4c0"/>
<rect x="322.17" y="85.67" width="4.83" height="4.83" fill="#80d0c8"/>
<rect x="326.00" y="85.67" width="4.83" height="4.83" fill="#a4c4c0"/>
<rect x="329.83" y="85.67" width="4.83" height="4.83" fill="#80d0c8"/>
<rect x="333.67" y="85.67" width="4.83" height="4.83" fill="#14c0be"/>
<rect x="337.50" y="85.67" width="4.83" height="4.83" fill="#2088d0"/>
<rect x="341.33" y="85.67" width="20.17" height="4.83" fill="#0a6ed0"/>
<rect x="360.50" y="85.67" width="4.83" height="4.83" fill="#12a0c8"/>
<rect x="364.33" y="85.67" width="4.83" height="4.83" fill="#0a6ed0"/>
<rect x="368.17" y="85.67" width="12.50" height="4.83" fill="#0c48c8"/>
<rect x="379.67" y="85.67" width="4.83" height="4.83" fill="#2a12b0"/>
<rect x="383.50" y="20.50" width="24.00" height="4.83" fill="#0a6ed0"/>
<rect x="406.50" y="20.50" width="12.50" height="4.83" fill="#0c48c8"/>
<rect x="418.00" y="20.50" width="35.50" height="4.83" fill="#2228c0"/>
<rect x="383.50" y="24.33" width="4.83" height="4.83" fill="#12a0c8"/>
<rect x="387.33" y="24.33" width="4.83" height="4.83" fill="#0a6ed0"/>
<rect x="391.17" y="24.33" width="4.83" height="4.83" fill="#12a0c8"/>
<rect x="395.00" y="24.33" width="4.83" height="4.83" fill="#0a6ed0"/>
<rect x="398.83" y="24.33" width="4.83" height="4.83" fill="#12a0c8"/>
<rect x="402.67" y="24.33" width="12.50" height="4.83" fill="#0a6ed0"/>
<rect x="414.17" y="24.33" width="4.83" height="4.83" fill="#0c48c8"/>
<rect x="418.00" y="24.33" width="4.83" height="4.83" fill="#0a6ed0"/>
<rect x="421.83" y="24.33" width="31.67" height="4.83" fill="#2228c0"/>
<rect x="383.50" y="28.17" width="20.17" height="4.83" fill="#12a0c8"/>
<rect x="402.67" y="28.17" width="16.33" height="4.83" fill="#0a6ed0"/>
<rect x="418.00" y="28.17" width="12.50" height="4.83" fill="#2228c0"/>
<rect x="429.50" y="28.17" width="4.83" height="4.83" fill="#0a6ed0"/>
<rect x="433.33" y="28.17" width="20.17" height="4.83" fill="#2228c0"/>
<rect x="383.50" y="32.00" width="4.83" height="4.83" fill="#14c0be"/>
<rect x="387.33" y="32.00" width="20.17" height="4.83" fill="#12a0c8"/>
<rect x="406.50" y="32.00" width="16.33" height="4.83" fill="#0a6ed0"/>
<rect x="421.83" y="32.00" width="4.83" height="4.83" fill="#2228c0"/>
<rect x="425.67" y="32.00" width="4.83" height="4.83" fill="#0a6ed0"/>
<rect x="429.50" y="32.00" width="24.00" height="4.83" fill="#2228c0"/>
<rect x="383.50" y="35.83" width="4.83" height="4.83" fill="#14c0be"/>
<rect x="387.33" y="35.83" width="24.00" height="4.83" fill="#12a0c8"/>
<rect x="410.33" y="35.83" width="8.67" height="4.83" fill="#0a6ed0"/>
<rect x="418.00" y="35.83" width="4.83" height="4.83" fill="#2228c0"/>
<rect x="421.83" y="35.83" width="4.83" height="4.83" fill="#0a6ed0"/>
<rect x="425.67" y="35.83" width="4.83" height="4.83" fill="#2228c0"/>
<rect x="429.50" y="35.83" width="4.83" height="4.83" fill="#0a6ed0"/>
<rect x="433.33" y="35.83" width="20.17" height="4.83" fill="#2228c0"/>
<rect x="383.50" y="39.67" width="20.17" height="4.83" fill="#12a0c8"/>
<rect x="402.67" y="39.67" width="20.17" height="4.83" fill="#0a6ed0"/>
<rect x="421.83" y="39.67" width="31.67" height="4.83" fill="#2228c0"/>
<rect x="383.50" y="43.50" width="54.67" height="4.83" fill="#2a12b0"/>
<rect x="437.17" y="43.50" width="16.33" height="4.83" fill="#4c4a52"/>
<rect x="383.50" y="47.33" width="4.83" height="4.83" fill="#0c48c8"/>
<rect x="387.33" y="47.33" width="35.50" height="4.83" fill="#2a12b0"/>
<rect x="421.83" y="47.33" width="8.67" height="4.83" fill="#4c4a52"/>
<rect x="429.50" y="47.33" width="8.67" height="4.83" fill="#2a12b0"/>
<rect x="437.17" y="47.33" width="16.33" height="4.83" fill="#8a8a87"/>
<rect x="383.50" y="51.17" width="4.83" height="4.83" fill="#0c48c8"/>
<rect x="387.33" y="51.17" width="66.17" height="4.83" fill="#2a12b0"/>
<rect x="383.50" y="55.00" width="54.67" height="4.83" fill="#2a12b0"/>
<rect x="437.17" y="55.00" width="16.33" height="4.83" fill="#8a8a87"/>
<rect x="383.50" y="58.83" width="8.67" height="4.83" fill="#0c48c8"/>
<rect x="391.17" y="58.83" width="8.67" height="4.83" fill="#12a0c8"/>
<rect x="398.83" y="58.83" width="4.83" height="4.83" fill="#0c48c8"/>
<rect x="402.67" y="58.83" width="4.83" height="4.83" fill="#12a0c8"/>
<rect x="406.50" y="58.83" width="4.83" height="4.83" fill="#0c48c8"/>
<rect x="410.33" y="58.83" width="43.17" height="4.83" fill="#2a12b0"/>
<rect x="383.50" y="62.67" width="20.17" height="4.83" fill="#0c48c8"/>
<rect x="402.67" y="62.67" width="4.83" height="4.83" fill="#14c0be"/>
<rect x="406.50" y="62.67" width="4.83" height="4.83" fill="#12a0c8"/>
<rect x="410.33" y="62.67" width="4.83" height="4.83" fill="#0c48c8"/>
<rect x="414.17" y="62.67" width="24.00" height="4.83" fill="#2a12b0"/>
<rect x="437.17" y="62.67" width="16.33" height="4.83" fill="#8a8a87"/>
<rect x="383.50" y="66.50" width="20.17" height="4.83" fill="#0c48c8"/>
<rect x="402.67" y="66.50" width="4.83" height="4.83" fill="#14c0be"/>
<rect x="406.50" y="66.50" width="4.83" height="4.83" fill="#12a0c8"/>
<rect x="410.33" y="66.50" width="4.83" height="4.83" fill="#0c48c8"/>
<rect x="414.17" y="66.50" width="4.83" height="4.83" fill="#2a12b0"/>
<rect x="418.00" y="66.50" width="8.67" height="4.83" fill="#8a8a87"/>
<rect x="425.67" y="66.50" width="4.83" height="4.83" fill="#4c4a52"/>
<rect x="429.50" y="66.50" width="8.67" height="4.83" fill="#2a12b0"/>
<rect x="437.17" y="66.50" width="16.33" height="4.83" fill="#8a8a87"/>
<rect x="383.50" y="70.33" width="20.17" height="4.83" fill="#0c48c8"/>
<rect x="402.67" y="70.33" width="4.83" height="4.83" fill="#14c0be"/>
<rect x="406.50" y="70.33" width="4.83" height="4.83" fill="#12a0c8"/>
<rect x="410.33" y="70.33" width="4.83" height="4.83" fill="#0c48c8"/>
<rect x="414.17" y="70.33" width="4.83" height="4.83" fill="#2a12b0"/>
<rect x="418.00" y="70.33" width="8.67" height="4.83" fill="#8a8a87"/>
<rect x="425.67" y="70.33" width="4.83" height="4.83" fill="#4c4a52"/>
<rect x="429.50" y="70.33" width="8.67" height="4.83" fill="#2a12b0"/>
<rect x="437.17" y="70.33" width="16.33" height="4.83" fill="#8a8a87"/>
<rect x="383.50" y="74.17" width="20.17" height="4.83" fill="#0c48c8"/>
<rect x="402.67" y="74.17" width="4.83" height="4.83" fill="#14c0be"/>
<rect x="406.50" y="74.17" width="12.50" height="4.83" fill="#2a12b0"/>
<rect x="418.00" y="74.17" width="4.83" height="4.83" fill="#0a6ed0"/>
<rect x="421.83" y="74.17" width="4.83" height="4.83" fill="#4c4a52"/>
<rect x="425.67" y="74.17" width="12.50" height="4.83" fill="#2a12b0"/>
<rect x="437.17" y="74.17" width="4.83" height="4.83" fill="#8a8a87"/>
<rect x="441.00" y="74.17" width="4.83" height="4.83" fill="#0c48c8"/>
<rect x="444.83" y="74.17" width="4.83" height="4.83" fill="#8a8a87"/>
<rect x="448.67" y="74.17" width="4.83" height="4.83" fill="#0c48c8"/>
<rect x="383.50" y="78.00" width="20.17" height="4.83" fill="#0c48c8"/>
<rect x="402.67" y="78.00" width="4.83" height="4.83" fill="#14c0be"/>
<rect x="406.50" y="78.00" width="12.50" height="4.83" fill="#2a12b0"/>
<rect x="418.00" y="78.00" width="4.83" height="4.83" fill="#0a6ed0"/>
<rect x="421.83" y="78.00" width="4.83" height="4.83" fill="#12a0c8"/>
<rect x="425.67" y="78.00" width="12.50" height="4.83" fill="#2a12b0"/>
<rect x="437.17" y="78.00" width="4.83" height="4.83" fill="#8a8a87"/>
<rect x="441.00" y="78.00" width="4.83" height="4.83" fill="#0c48c8"/>
<rect x="444.83" y="78.00" width="4.83" height="4.83" fill="#8a8a87"/>
<rect x="448.67" y="78.00" width="4.83" height="4.83" fill="#0c48c8"/>
<rect x="383.50" y="81.83" width="8.67" height="4.83" fill="#0c48c8"/>
<rect x="391.17" y="81.83" width="8.67" height="4.83" fill="#12a0c8"/>
<rect x="398.83" y="81.83" width="8.67" height="4.83" fill="#14c0be"/>
<rect x="406.50" y="81.83" width="4.83" height="4.83" fill="#0c48c8"/>
<rect x="410.33" y="81.83" width="8.67" height="4.83" fill="#2a12b0"/>
<rect x="418.00" y="81.83" width="4.83" height="4.83" fill="#0a6ed0"/>
<rect x="421.83" y="81.83" width="4.83" height="4.83" fill="#12a0c8"/>
<rect x="425.67" y="81.83" width="4.83" height="4.83" fill="#0a6ed0"/>
<rect x="429.50" y="81.83" width="8.67" height="4.83" fill="#2a12b0"/>
<rect x="437.17" y="81.83" width="4.83" height="4.83" fill="#8a8a87"/>
<rect x="441.00" y="81.83" width="4.83" height="4.83" fill="#0c48c8"/>
<rect x="444.83" y="81.83" width="4.83" height="4.83" fill="#8a8a87"/>
<rect x="448.67" y="81.83" width="4.83" height="4.83" fill="#0c48c8"/>
<rect x="383.50" y="85.67" width="4.83" height="4.83" fill="#0c48c8"/>
<rect x="387.33" y="85.67" width="4.83" height="4.83" fill="#12a0c8"/>
<rect x="391.17" y="85.67" width="16.33" height="4.83" fill="#14c0be"/>
<rect x="406.50" y="85.67" width="4.83" height="4.83" fill="#0c48c8"/>
<rect x="410.33" y="85.67" width="8.67" height="4.83" fill="#2a12b0"/>
<rect x="418.00" y="85.67" width="4.83" height="4.83" fill="#0a6ed0"/>
<rect x="421.83" y="85.67" width="4.83" height="4.83" fill="#14c0be"/>
<rect x="425.67" y="85.67" width="4.83" height="4.83" fill="#0a6ed0"/>
<rect x="429.50" y="85.67" width="8.67" height="4.83" fill="#2a12b0"/>
<rect x="437.17" y="85.67" width="4.83" height="4.83" fill="#0a6ed0"/>
<rect x="441.00" y="85.67" width="4.83" height="4.83" fill="#14c0be"/>
<rect x="444.83" y="85.67" width="4.83" height="4.83" fill="#0a6ed0"/>
<rect x="448.67" y="85.67" width="4.83" height="4.83" fill="#12a0c8"/>
<rect x="452.50" y="20.50" width="43.29" height="4.83" fill="#2a12b0"/>
<rect x="494.79" y="20.50" width="4.84" height="4.83" fill="#2c0c60"/>
<rect x="498.63" y="20.50" width="20.22" height="4.83" fill="#2a12b0"/>
<rect x="517.86" y="20.50" width="3.84" height="4.83" fill="#8a8a87"/>
<rect x="452.50" y="24.33" width="4.84" height="4.83" fill="#2228c0"/>
<rect x="456.34" y="24.33" width="4.84" height="4.83" fill="#2a12b0"/>
<rect x="460.19" y="24.33" width="4.84" height="4.83" fill="#2228c0"/>
<rect x="464.03" y="24.33" width="31.76" height="4.83" fill="#2a12b0"/>
<rect x="494.79" y="24.33" width="4.84" height="4.83" fill="#2c0c60"/>
<rect x="498.63" y="24.33" width="20.22" height="4.83" fill="#2a12b0"/>
<rect x="517.86" y="24.33" width="3.84" height="4.83" fill="#8a8a87"/>
<rect x="452.50" y="28.17" width="4.84" height="4.83" fill="#2a12b0"/>
<rect x="456.34" y="28.17" width="4.84" height="4.83" fill="#2228c0"/>
<rect x="460.19" y="28.17" width="4.84" height="4.83" fill="#2a12b0"/>
<rect x="464.03" y="28.17" width="8.69" height="4.83" fill="#2228c0"/>
<rect x="471.72" y="28.17" width="24.07" height="4.83" fill="#2a12b0"/>
<rect x="494.79" y="28.17" width="4.84" height="4.83" fill="#2c0c60"/>
<rect x="498.63" y="28.17" width="20.22" height="4.83" fill="#2a12b0"/>
<rect x="517.86" y="28.17" width="3.84" height="4.83" fill="#8a8a87"/>
<rect x="452.50" y="32.00" width="4.84" height="4.83" fill="#2228c0"/>
<rect x="456.34" y="32.00" width="8.69" height="4.83" fill="#2a12b0"/>
<rect x="464.03" y="32.00" width="4.84" height="4.83" fill="#2228c0"/>
<rect x="467.88" y="32.00" width="27.91" height="4.83" fill="#2a12b0"/>
<rect x="494.79" y="32.00" width="4.84" height="4.83" fill="#2c0c60"/>
<rect x="498.63" y="32.00" width="20.22" height="4.83" fill="#2a12b0"/>
<rect x="517.86" y="32.00" width="3.84" height="4.83" fill="#8a8a87"/>
<rect x="452.50" y="35.83" width="4.84" height="4.83" fill="#2a12b0"/>
<rect x="456.34" y="35.83" width="4.84" height="4.83" fill="#2228c0"/>
<rect x="460.19" y="35.83" width="8.69" height="4.83" fill="#2a12b0"/>
<rect x="467.88" y="35.83" width="8.69" height="4.83" fill="#2228c0"/>
<rect x="475.57" y="35.83" width="20.22" height="4.83" fill="#2a12b0"/>
<rect x="494.79" y="35.83" width="4.84" height="4.83" fill="#2c0c60"/>
<rect x="498.63" y="35.83" width="20.22" height="4.83" fill="#2a12b0"/>
<rect x="517.86" y="35.83" width="3.84" height="4.83" fill="#8a8a87"/>
<rect x="452.50" y="39.67" width="43.29" height="4.83" fill="#2a12b0"/>
<rect x="494.79" y="39.67" width="4.84" height="4.83" fill="#2c0c60"/>
<rect x="498.63" y="39.67" width="20.22" height="4.83" fill="#2a12b0"/>
<rect x="517.86" y="39.67" width="3.84" height="4.83" fill="#1e1a26"/>
<rect x="452.50" y="43.50" width="16.38" height="4.83" fill="#2a12b0"/>
<rect x="467.88" y="43.50" width="4.84" height="4.83" fill="#4c4a52"/>
<rect x="471.72" y="43.50" width="4.84" height="4.83" fill="#8a8a87"/>
<rect x="475.57" y="43.50" width="8.69" height="4.83" fill="#2a12b0"/>
<rect x="483.26" y="43.50" width="16.38" height="4.83" fill="#8a8a87"/>
<rect x="498.63" y="43.50" width="8.69" height="4.83" fill="#2a12b0"/>
<rect x="506.32" y="43.50" width="4.84" height="4.83" fill="#4c4a52"/>
<rect x="510.17" y="43.50" width="11.53" height="4.83" fill="#8a8a87"/>
<rect x="452.50" y="47.33" width="16.38" height="4.83" fill="#2a12b0"/>
<rect x="467.88" y="47.33" width="8.69" height="4.83" fill="#4c4a52"/>
<rect x="475.57" y="47.33" width="8.69" height="4.83" fill="#2a12b0"/>
<rect x="483.26" y="47.33" width="4.84" height="4.83" fill="#8a8a87"/>
<rect x="487.10" y="47.33" width="4.84" height="4.83" fill="#4c4a52"/>
<rect x="490.94" y="47.33" width="8.69" height="4.83" fill="#8a8a87"/>
<rect x="498.63" y="47.33" width="8.69" height="4.83" fill="#2a12b0"/>
<rect x="506.32" y="47.33" width="4.84" height="4.83" fill="#4c4a52"/>
<rect x="510.17" y="47.33" width="11.53" height="4.83" fill="#8a8a87"/>
<rect x="452.50" y="51.17" width="31.76" height="4.83" fill="#2a12b0"/>
<rect x="483.26" y="51.17" width="4.84" height="4.83" fill="#8a8a87"/>
<rect x="487.10" y="51.17" width="8.69" height="4.83" fill="#4c4a52"/>
<rect x="494.79" y="51.17" width="4.84" height="4.83" fill="#8a8a87"/>
<rect x="498.63" y="51.17" width="8.69" height="4.83" fill="#2a12b0"/>
<rect x="506.32" y="51.17" width="15.38" height="4.83" fill="#8a8a87"/>
<rect x="452.50" y="55.00" width="12.53" height="4.83" fill="#2a12b0"/>
<rect x="464.03" y="55.00" width="4.84" height="4.83" fill="#2228c0"/>
<rect x="467.88" y="55.00" width="4.84" height="4.83" fill="#2a12b0"/>
<rect x="471.72" y="55.00" width="4.84" height="4.83" fill="#2228c0"/>
<rect x="475.57" y="55.00" width="8.69" height="4.83" fill="#2a12b0"/>
<rect x="483.26" y="55.00" width="12.53" height="4.83" fill="#8a8a87"/>
<rect x="494.79" y="55.00" width="4.84" height="4.83" fill="#2c0c60"/>
<rect x="498.63" y="55.00" width="8.69" height="4.83" fill="#2a12b0"/>
<rect x="506.32" y="55.00" width="15.38" height="4.83" fill="#8a8a87"/>
<rect x="452.50" y="58.83" width="4.84" height="4.83" fill="#0a6ed0"/>
<rect x="456.34" y="58.83" width="4.84" height="4.83" fill="#0c48c8"/>
<rect x="460.19" y="58.83" width="8.69" height="4.83" fill="#14c0be"/>
<rect x="467.88" y="58.83" width="4.84" height="4.83" fill="#12a0c8"/>
<rect x="471.72" y="58.83" width="4.84" height="4.83" fill="#14c0be"/>
<rect x="475.57" y="58.83" width="8.69" height="4.83" fill="#2a12b0"/>
<rect x="483.26" y="58.83" width="4.84" height="4.83" fill="#0a6ed0"/>
<rect x="487.10" y="58.83" width="4.84" height="4.83" fill="#14c0be"/>
<rect x="490.94" y="58.83" width="4.84" height="4.83" fill="#0a6ed0"/>
<rect x="494.79" y="58.83" width="4.84" height="4.83" fill="#14c0be"/>
<rect x="498.63" y="58.83" width="8.69" height="4.83" fill="#2a12b0"/>
<rect x="506.32" y="58.83" width="4.84" height="4.83" fill="#4c4a52"/>
<rect x="510.17" y="58.83" width="4.84" height="4.83" fill="#8a8a87"/>
<rect x="514.01" y="58.83" width="4.84" height="4.83" fill="#1e1a26"/>
<rect x="517.86" y="58.83" width="3.84" height="4.83" fill="#8a8a87"/>
<rect x="452.50" y="62.67" width="4.84" height="4.83" fill="#0a6ed0"/>
<rect x="456.34" y="62.67" width="4.84" height="4.83" fill="#0c48c8"/>
<rect x="460.19" y="62.67" width="8.69" height="4.83" fill="#14c0be"/>
<rect x="467.88" y="62.67" width="4.84" height="4.83" fill="#12a0c8"/>
<rect x="471.72" y="62.67" width="4.84" height="4.83" fill="#14c0be"/>
<rect x="475.57" y="62.67" width="8.69" height="4.83" fill="#2a12b0"/>
<rect x="483.26" y="62.67" width="4.84" height="4.83" fill="#0a6ed0"/>
<rect x="487.10" y="62.67" width="4.84" height="4.83" fill="#0c48c8"/>
<rect x="490.94" y="62.67" width="4.84" height="4.83" fill="#0a6ed0"/>
<rect x="494.79" y="62.67" width="4.84" height="4.83" fill="#0c48c8"/>
<rect x="498.63" y="62.67" width="8.69" height="4.83" fill="#2a12b0"/>
<rect x="506.32" y="62.67" width="4.84" height="4.83" fill="#4c4a52"/>
<rect x="510.17" y="62.67" width="11.53" height="4.83" fill="#8a8a87"/>
<rect x="452.50" y="66.50" width="8.69" height="4.83" fill="#0c48c8"/>
<rect x="460.19" y="66.50" width="4.84" height="4.83" fill="#2a12b0"/>
<rect x="464.03" y="66.50" width="4.84" height="4.83" fill="#0c48c8"/>
<rect x="467.88" y="66.50" width="4.84" height="4.83" fill="#14c0be"/>
<rect x="471.72" y="66.50" width="4.84" height="4.83" fill="#12a0c8"/>
<rect x="475.57" y="66.50" width="4.84" height="4.83" fill="#4c4a52"/>
<rect x="479.41" y="66.50" width="39.44" height="4.83" fill="#8a8a87"/>
<rect x="517.86" y="66.50" width="3.84" height="4.83" fill="#0c48c8"/>
<rect x="452.50" y="70.33" width="8.69" height="4.83" fill="#0c48c8"/>
<rect x="460.19" y="70.33" width="4.84" height="4.83" fill="#2a12b0"/>
<rect x="464.03" y="70.33" width="4.84" height="4.83" fill="#0c48c8"/>
<rect x="467.88" y="70.33" width="4.84" height="4.83" fill="#14c0be"/>
<rect x="471.72" y="70.33" width="4.84" height="4.83" fill="#12a0c8"/>
<rect x="475.57" y="70.33" width="4.84" height="4.83" fill="#2a12b0"/>
<rect x="479.41" y="70.33" width="31.76" height="4.83" fill="#8a8a87"/>
<rect x="510.17" y="70.33" width="4.84" height="4.83" fill="#0c48c8"/>
<rect x="514.01" y="70.33" width="4.84" height="4.83" fill="#8a8a87"/>
<rect x="517.86" y="70.33" width="3.84" height="4.83" fill="#0c48c8"/>
<rect x="452.50" y="74.17" width="8.69" height="4.83" fill="#0a6ed0"/>
<rect x="460.19" y="74.17" width="16.38" height="4.83" fill="#14c0be"/>
<rect x="475.57" y="74.17" width="8.69" height="4.83" fill="#2a12b0"/>
<rect x="483.26" y="74.17" width="4.84" height="4.83" fill="#4c4a52"/>
<rect x="487.10" y="74.17" width="4.84" height="4.83" fill="#0a6ed0"/>
<rect x="490.94" y="74.17" width="4.84" height="4.83" fill="#4c4a52"/>
<rect x="494.79" y="74.17" width="4.84" height="4.83" fill="#0a6ed0"/>
<rect x="498.63" y="74.17" width="12.53" height="4.83" fill="#8a8a87"/>
<rect x="510.17" y="74.17" width="4.84" height="4.83" fill="#0c48c8"/>
<rect x="514.01" y="74.17" width="4.84" height="4.83" fill="#8a8a87"/>
<rect x="517.86" y="74.17" width="3.84" height="4.83" fill="#0c48c8"/>
<rect x="452.50" y="78.00" width="8.69" height="4.83" fill="#0a6ed0"/>
<rect x="460.19" y="78.00" width="16.38" height="4.83" fill="#14c0be"/>
<rect x="475.57" y="78.00" width="8.69" height="4.83" fill="#2a12b0"/>
<rect x="483.26" y="78.00" width="4.84" height="4.83" fill="#0a6ed0"/>
<rect x="487.10" y="78.00" width="4.84" height="4.83" fill="#4c4a52"/>
<rect x="490.94" y="78.00" width="8.69" height="4.83" fill="#0a6ed0"/>
<rect x="498.63" y="78.00" width="12.53" height="4.83" fill="#8a8a87"/>
<rect x="510.17" y="78.00" width="4.84" height="4.83" fill="#0c48c8"/>
<rect x="514.01" y="78.00" width="4.84" height="4.83" fill="#8a8a87"/>
<rect x="517.86" y="78.00" width="3.84" height="4.83" fill="#0c48c8"/>
<rect x="452.50" y="81.83" width="8.69" height="4.83" fill="#0a6ed0"/>
<rect x="460.19" y="81.83" width="16.38" height="4.83" fill="#14c0be"/>
<rect x="475.57" y="81.83" width="8.69" height="4.83" fill="#2a12b0"/>
<rect x="483.26" y="81.83" width="16.38" height="4.83" fill="#0a6ed0"/>
<rect x="498.63" y="81.83" width="12.53" height="4.83" fill="#8a8a87"/>
<rect x="510.17" y="81.83" width="4.84" height="4.83" fill="#0c48c8"/>
<rect x="514.01" y="81.83" width="4.84" height="4.83" fill="#8a8a87"/>
<rect x="517.86" y="81.83" width="3.84" height="4.83" fill="#0c48c8"/>
<rect x="452.50" y="85.67" width="8.69" height="4.83" fill="#0a6ed0"/>
<rect x="460.19" y="85.67" width="16.38" height="4.83" fill="#14c0be"/>
<rect x="475.57" y="85.67" width="4.84" height="4.83" fill="#2a12b0"/>
<rect x="479.41" y="85.67" width="4.84" height="4.83" fill="#0c48c8"/>
<rect x="483.26" y="85.67" width="20.22" height="4.83" fill="#0a6ed0"/>
<rect x="502.48" y="85.67" width="8.69" height="4.83" fill="#8a8a87"/>
<rect x="510.17" y="85.67" width="4.84" height="4.83" fill="#0c48c8"/>
<rect x="514.01" y="85.67" width="4.84" height="4.83" fill="#8a8a87"/>
<rect x="517.86" y="85.67" width="3.84" height="4.83" fill="#0c48c8"/>
<rect x="314.50" y="89.50" width="24.00" height="4.83" fill="#c4bca4"/>
<rect x="337.50" y="89.50" width="4.83" height="4.83" fill="#80d0c8"/>
<rect x="341.33" y="89.50" width="4.83" height="4.83" fill="#c4bca4"/>
<rect x="345.17" y="89.50" width="4.83" height="4.83" fill="#80d0c8"/>
<rect x="349.00" y="89.50" width="4.83" height="4.83" fill="#c4bca4"/>
<rect x="352.83" y="89.50" width="4.83" height="4.83" fill="#80d0c8"/>
<rect x="356.67" y="89.50" width="27.83" height="4.83" fill="#14c0be"/>
<rect x="314.50" y="93.33" width="27.83" height="4.83" fill="#c4bca4"/>
<rect x="341.33" y="93.33" width="4.83" height="4.83" fill="#80d0c8"/>
<rect x="345.17" y="93.33" width="4.83" height="4.83" fill="#c4bca4"/>
<rect x="349.00" y="93.33" width="4.83" height="4.83" fill="#80d0c8"/>
<rect x="352.83" y="93.33" width="4.83" height="4.83" fill="#c4bca4"/>
<rect x="356.67" y="93.33" width="4.83" height="4.83" fill="#80d0c8"/>
<rect x="360.50" y="93.33" width="24.00" height="4.83" fill="#14c0be"/>
<rect x="314.50" y="97.17" width="24.00" height="4.83" fill="#c8c478"/>
<rect x="337.50" y="97.17" width="4.83" height="4.83" fill="#c4bca4"/>
<rect x="341.33" y="97.17" width="4.83" height="4.83" fill="#c8c478"/>
<rect x="345.17" y="97.17" width="4.83" height="4.83" fill="#c4bca4"/>
<rect x="349.00" y="97.17" width="4.83" height="4.83" fill="#c8c478"/>
<rect x="352.83" y="97.17" width="4.83" height="4.83" fill="#c4bca4"/>
<rect x="356.67" y="97.17" width="4.83" height="4.83" fill="#c8c478"/>
<rect x="360.50" y="97.17" width="4.83" height="4.83" fill="#80d0c8"/>
<rect x="364.33" y="97.17" width="4.83" height="4.83" fill="#14c0be"/>
<rect x="368.17" y="97.17" width="4.83" height="4.83" fill="#80d0c8"/>
<rect x="372.00" y="97.17" width="4.83" height="4.83" fill="#14c0be"/>
<rect x="375.83" y="97.17" width="4.83" height="4.83" fill="#80d0c8"/>
<rect x="379.67" y="97.17" width="4.83" height="4.83" fill="#14c0be"/>
<rect x="314.50" y="101.00" width="27.83" height="4.83" fill="#c8c478"/>
<rect x="341.33" y="101.00" width="4.83" height="4.83" fill="#c4bca4"/>
<rect x="345.17" y="101.00" width="4.83" height="4.83" fill="#c8c478"/>
<rect x="349.00" y="101.00" width="4.83" height="4.83" fill="#c4bca4"/>
<rect x="352.83" y="101.00" width="4.83" height="4.83" fill="#c8c478"/>
<rect x="356.67" y="101.00" width="4.83" height="4.83" fill="#c4bca4"/>
<rect x="360.50" y="101.00" width="24.00" height="4.83" fill="#80d0c8"/>
<rect x="314.50" y="104.83" width="24.00" height="4.83" fill="#d4c830"/>
<rect x="337.50" y="104.83" width="24.00" height="4.83" fill="#c8c478"/>
<rect x="360.50" y="104.83" width="24.00" height="4.83" fill="#80d0c8"/>
<rect x="314.50" y="108.67" width="27.83" height="4.83" fill="#c4bca4"/>
<rect x="341.33" y="108.67" width="4.83" height="4.83" fill="#80d0c8"/>
<rect x="345.17" y="108.67" width="4.83" height="4.83" fill="#14c0be"/>
<rect x="349.00" y="108.67" width="4.83" height="4.83" fill="#80d0c8"/>
<rect x="352.83" y="108.67" width="4.83" height="4.83" fill="#14c0be"/>
<rect x="356.67" y="108.67" width="27.83" height="4.83" fill="#80d0c8"/>
<rect x="314.50" y="112.50" width="24.00" height="4.83" fill="#a4c4c0"/>
<rect x="337.50" y="112.50" width="12.50" height="4.83" fill="#14c0be"/>
<rect x="349.00" y="112.50" width="16.33" height="4.83" fill="#2088d0"/>
<rect x="364.33" y="112.50" width="20.17" height="4.83" fill="#0a6ed0"/>
<rect x="314.50" y="116.33" width="24.00" height="4.83" fill="#a4c4c0"/>
<rect x="337.50" y="116.33" width="12.50" height="4.83" fill="#14c0be"/>
<rect x="349.00" y="116.33" width="16.33" height="4.83" fill="#2088d0"/>
<rect x="364.33" y="116.33" width="12.50" height="4.83" fill="#0a6ed0"/>
<rect x="375.83" y="116.33" width="8.67" height="4.83" fill="#0c48c8"/>
<rect x="314.50" y="120.17" width="24.00" height="4.83" fill="#c4bca4"/>
<rect x="337.50" y="120.17" width="20.17" height="4.83" fill="#14c0be"/>
<rect x="356.67" y="120.17" width="12.50" height="4.83" fill="#2088d0"/>
<rect x="368.17" y="120.17" width="16.33" height="4.83" fill="#0a6ed0"/>
<rect x="314.50" y="124.00" width="24.00" height="4.83" fill="#c4bca4"/>
<rect x="337.50" y="124.00" width="20.17" height="4.83" fill="#14c0be"/>
<rect x="356.67" y="124.00" width="16.33" height="4.83" fill="#2088d0"/>
<rect x="372.00" y="124.00" width="12.50" height="4.83" fill="#0a6ed0"/>
<rect x="314.50" y="127.83" width="24.00" height="4.83" fill="#c8c478"/>
<rect x="337.50" y="127.83" width="4.83" height="4.83" fill="#80d0c8"/>
<rect x="341.33" y="127.83" width="27.83" height="4.83" fill="#14c0be"/>
<rect x="368.17" y="127.83" width="16.33" height="4.83" fill="#2088d0"/>
<rect x="314.50" y="131.67" width="24.00" height="4.83" fill="#c8c478"/>
<rect x="337.50" y="131.67" width="4.83" height="4.83" fill="#80d0c8"/>
<rect x="341.33" y="131.67" width="27.83" height="4.83" fill="#14c0be"/>
<rect x="368.17" y="131.67" width="4.83" height="4.83" fill="#12a0c8"/>
<rect x="372.00" y="131.67" width="12.50" height="4.83" fill="#2088d0"/>
<rect x="314.50" y="135.50" width="24.00" height="4.83" fill="#14c0be"/>
<rect x="337.50" y="135.50" width="31.67" height="4.83" fill="#0c48c8"/>
<rect x="368.17" y="135.50" width="16.33" height="4.83" fill="#2228c0"/>
<rect x="314.50" y="139.33" width="4.83" height="4.83" fill="#14c0be"/>
<rect x="318.33" y="139.33" width="4.83" height="4.83" fill="#c4bca4"/>
<rect x="322.17" y="139.33" width="4.83" height="4.83" fill="#14c0be"/>
<rect x="326.00" y="139.33" width="4.83" height="4.83" fill="#c4bca4"/>
<rect x="329.83" y="139.33" width="8.67" height="4.83" fill="#14c0be"/>
<rect x="337.50" y="139.33" width="31.67" height="4.83" fill="#0c48c8"/>
<rect x="368.17" y="139.33" width="16.33" height="4.83" fill="#2228c0"/>
<rect x="314.50" y="143.17" width="4.83" height="4.83" fill="#80d0c8"/>
<rect x="318.33" y="143.17" width="4.83" height="4.83" fill="#a4c4c0"/>
<rect x="322.17" y="143.17" width="4.83" height="4.83" fill="#80d0c8"/>
<rect x="326.00" y="143.17" width="4.83" height="4.83" fill="#a4c4c0"/>
<rect x="329.83" y="143.17" width="8.67" height="4.83" fill="#80d0c8"/>
<rect x="337.50" y="143.17" width="4.83" height="4.83" fill="#12a0c8"/>
<rect x="341.33" y="143.17" width="4.83" height="4.83" fill="#0a6ed0"/>
<rect x="345.17" y="143.17" width="4.83" height="4.83" fill="#12a0c8"/>
<rect x="349.00" y="143.17" width="4.83" height="4.83" fill="#0a6ed0"/>
<rect x="352.83" y="143.17" width="8.67" height="4.83" fill="#12a0c8"/>
<rect x="360.50" y="143.17" width="8.67" height="4.83" fill="#0a6ed0"/>
<rect x="368.17" y="143.17" width="16.33" height="4.83" fill="#0c48c8"/>
<rect x="314.50" y="147.00" width="24.00" height="4.83" fill="#80d0c8"/>
<rect x="337.50" y="147.00" width="4.83" height="4.83" fill="#12a0c8"/>
<rect x="341.33" y="147.00" width="4.83" height="4.83" fill="#0a6ed0"/>
<rect x="345.17" y="147.00" width="4.83" height="4.83" fill="#12a0c8"/>
<rect x="349.00" y="147.00" width="4.83" height="4.83" fill="#0a6ed0"/>
<rect x="352.83" y="147.00" width="4.83" height="4.83" fill="#12a0c8"/>
<rect x="356.67" y="147.00" width="12.50" height="4.83" fill="#0a6ed0"/>
<rect x="368.17" y="147.00" width="16.33" height="4.83" fill="#0c48c8"/>
<rect x="314.50" y="150.83" width="8.67" height="4.83" fill="#c8c478"/>
<rect x="322.17" y="150.83" width="4.83" height="4.83" fill="#c4bca4"/>
<rect x="326.00" y="150.83" width="4.83" height="4.83" fill="#80d0c8"/>
<rect x="329.83" y="150.83" width="4.83" height="4.83" fill="#c4bca4"/>
<rect x="333.67" y="150.83" width="4.83" height="4.83" fill="#80d0c8"/>
<rect x="337.50" y="150.83" width="4.83" height="4.83" fill="#12a0c8"/>
<rect x="341.33" y="150.83" width="4.83" height="4.83" fill="#14c0be"/>
<rect x="345.17" y="150.83" width="4.83" height="4.83" fill="#12a0c8"/>
<rect x="349.00" y="150.83" width="4.83" height="4.83" fill="#14c0be"/>
<rect x="352.83" y="150.83" width="4.83" height="4.83" fill="#12a0c8"/>
<rect x="356.67" y="150.83" width="4.83" height="4.83" fill="#0a6ed0"/>
<rect x="360.50" y="150.83" width="4.83" height="4.83" fill="#12a0c8"/>
<rect x="364.33" y="150.83" width="4.83" height="4.83" fill="#0a6ed0"/>
<rect x="368.17" y="150.83" width="12.50" height="4.83" fill="#0c48c8"/>
<rect x="379.67" y="150.83" width="4.83" height="4.83" fill="#2a12b0"/>
<rect x="314.50" y="154.67" width="4.83" height="4.83" fill="#c4bca4"/>
<rect x="318.33" y="154.67" width="4.83" height="4.83" fill="#80d0c8"/>
<rect x="322.17" y="154.67" width="4.83" height="4.83" fill="#14c0be"/>
<rect x="326.00" y="154.67" width="4.83" height="4.83" fill="#80d0c8"/>
<rect x="329.83" y="154.67" width="4.83" height="4.83" fill="#14c0be"/>
<rect x="333.67" y="154.67" width="4.83" height="4.83" fill="#80d0c8"/>
<rect x="337.50" y="154.67" width="8.67" height="4.83" fill="#14c0be"/>
<rect x="345.17" y="154.67" width="4.83" height="4.83" fill="#12a0c8"/>
<rect x="349.00" y="154.67" width="4.83" height="4.83" fill="#14c0be"/>
<rect x="352.83" y="154.67" width="8.67" height="4.83" fill="#12a0c8"/>
<rect x="360.50" y="154.67" width="8.67" height="4.83" fill="#0a6ed0"/>
<rect x="368.17" y="154.67" width="12.50" height="4.83" fill="#0c48c8"/>
<rect x="379.67" y="154.67" width="4.83" height="4.83" fill="#2a12b0"/>
<rect x="383.50" y="89.50" width="31.67" height="4.83" fill="#14c0be"/>
<rect x="414.17" y="89.50" width="8.67" height="4.83" fill="#12a0c8"/>
<rect x="421.83" y="89.50" width="12.50" height="4.83" fill="#0a6ed0"/>
<rect x="433.33" y="89.50" width="12.50" height="4.83" fill="#0c48c8"/>
<rect x="444.83" y="89.50" width="8.67" height="4.83" fill="#2228c0"/>
<rect x="383.50" y="93.33" width="31.67" height="4.83" fill="#14c0be"/>
<rect x="414.17" y="93.33" width="8.67" height="4.83" fill="#12a0c8"/>
<rect x="421.83" y="93.33" width="12.50" height="4.83" fill="#0a6ed0"/>
<rect x="433.33" y="93.33" width="12.50" height="4.83" fill="#0c48c8"/>
<rect x="444.83" y="93.33" width="8.67" height="4.83" fill="#2228c0"/>
<rect x="383.50" y="97.17" width="4.83" height="4.83" fill="#80d0c8"/>
<rect x="387.33" y="97.17" width="8.67" height="4.83" fill="#14c0be"/>
<rect x="395.00" y="97.17" width="4.83" height="4.83" fill="#80d0c8"/>
<rect x="398.83" y="97.17" width="20.17" height="4.83" fill="#14c0be"/>
<rect x="418.00" y="97.17" width="4.83" height="4.83" fill="#12a0c8"/>
<rect x="421.83" y="97.17" width="12.50" height="4.83" fill="#0a6ed0"/>
<rect x="433.33" y="97.17" width="12.50" height="4.83" fill="#0c48c8"/>
<rect x="444.83" y="97.17" width="4.83" height="4.83" fill="#2228c0"/>
<rect x="448.67" y="97.17" width="4.83" height="4.83" fill="#2a12b0"/>
<rect x="383.50" y="101.00" width="8.67" height="4.83" fill="#80d0c8"/>
<rect x="391.17" y="101.00" width="24.00" height="4.83" fill="#14c0be"/>
<rect x="414.17" y="101.00" width="8.67" height="4.83" fill="#12a0c8"/>
<rect x="421.83" y="101.00" width="12.50" height="4.83" fill="#0a6ed0"/>
<rect x="433.33" y="101.00" width="12.50" height="4.83" fill="#0c48c8"/>
<rect x="444.83" y="101.00" width="4.83" height="4.83" fill="#2228c0"/>
<rect x="448.67" y="101.00" width="4.83" height="4.83" fill="#2a12b0"/>
<rect x="383.50" y="104.83" width="20.17" height="4.83" fill="#80d0c8"/>
<rect x="402.67" y="104.83" width="12.50" height="4.83" fill="#14c0be"/>
<rect x="414.17" y="104.83" width="8.67" height="4.83" fill="#12a0c8"/>
<rect x="421.83" y="104.83" width="12.50" height="4.83" fill="#0a6ed0"/>
<rect x="433.33" y="104.83" width="8.67" height="4.83" fill="#0c48c8"/>
<rect x="441.00" y="104.83" width="8.67" height="4.83" fill="#2228c0"/>
<rect x="448.67" y="104.83" width="4.83" height="4.83" fill="#2a12b0"/>
<rect x="383.50" y="108.67" width="24.00" height="4.83" fill="#14c0be"/>
<rect x="406.50" y="108.67" width="12.50" height="4.83" fill="#12a0c8"/>
<rect x="418.00" y="108.67" width="16.33" height="4.83" fill="#0a6ed0"/>
<rect x="433.33" y="108.67" width="8.67" height="4.83" fill="#0c48c8"/>
<rect x="441.00" y="108.67" width="8.67" height="4.83" fill="#2228c0"/>
<rect x="448.67" y="108.67" width="4.83" height="4.83" fill="#2a12b0"/>
<rect x="383.50" y="112.50" width="4.83" height="4.83" fill="#12a0c8"/>
<rect x="387.33" y="112.50" width="20.17" height="4.83" fill="#0a6ed0"/>
<rect x="406.50" y="112.50" width="4.83" height="4.83" fill="#0c48c8"/>
<rect x="410.33" y="112.50" width="4.83" height="4.83" fill="#0a6ed0"/>
<rect x="414.17" y="112.50" width="4.83" height="4.83" fill="#0c48c8"/>
<rect x="418.00" y="112.50" width="4.83" height="4.83" fill="#0a6ed0"/>
<rect x="421.83" y="112.50" width="20.17" height="4.83" fill="#0c48c8"/>
<rect x="441.00" y="112.50" width="8.67" height="4.83" fill="#2228c0"/>
<rect x="448.67" y="112.50" width="4.83" height="4.83" fill="#2a12b0"/>
<rect x="383.50" y="116.33" width="4.83" height="4.83" fill="#12a0c8"/>
<rect x="387.33" y="116.33" width="16.33" height="4.83" fill="#0a6ed0"/>
<rect x="402.67" y="116.33" width="4.83" height="4.83" fill="#0c48c8"/>
<rect x="406.50" y="116.33" width="4.83" height="4.83" fill="#0a6ed0"/>
<rect x="410.33" y="116.33" width="4.83" height="4.83" fill="#0c48c8"/>
<rect x="414.17" y="116.33" width="4.83" height="4.83" fill="#0a6ed0"/>
<rect x="418.00" y="116.33" width="24.00" height="4.83" fill="#0c48c8"/>
<rect x="441.00" y="116.33" width="8.67" height="4.83" fill="#2228c0"/>
<rect x="448.67" y="116.33" width="4.83" height="4.83" fill="#2a12b0"/>
<rect x="383.50" y="120.17" width="24.00" height="4.83" fill="#0a6ed0"/>
<rect x="406.50" y="120.17" width="4.83" height="4.83" fill="#0c48c8"/>
<rect x="410.33" y="120.17" width="4.83" height="4.83" fill="#0a6ed0"/>
<rect x="414.17" y="120.17" width="27.83" height="4.83" fill="#0c48c8"/>
<rect x="441.00" y="120.17" width="8.67" height="4.83" fill="#2228c0"/>
<rect x="448.67" y="120.17" width="4.83" height="4.83" fill="#2a12b0"/>
<rect x="383.50" y="124.00" width="4.83" height="4.83" fill="#12a0c8"/>
<rect x="387.33" y="124.00" width="4.83" height="4.83" fill="#0a6ed0"/>
<rect x="391.17" y="124.00" width="4.83" height="4.83" fill="#12a0c8"/>
<rect x="395.00" y="124.00" width="20.17" height="4.83" fill="#0a6ed0"/>
<rect x="414.17" y="124.00" width="4.83" height="4.83" fill="#0c48c8"/>
<rect x="418.00" y="124.00" width="4.83" height="4.83" fill="#0a6ed0"/>
<rect x="421.83" y="124.00" width="27.83" height="4.83" fill="#0c48c8"/>
<rect x="448.67" y="124.00" width="4.83" height="4.83" fill="#2228c0"/>
<rect x="383.50" y="127.83" width="4.83" height="4.83" fill="#14c0be"/>
<rect x="387.33" y="127.83" width="4.83" height="4.83" fill="#12a0c8"/>
<rect x="391.17" y="127.83" width="4.83" height="4.83" fill="#14c0be"/>
<rect x="395.00" y="127.83" width="4.83" height="4.83" fill="#12a0c8"/>
<rect x="398.83" y="127.83" width="24.00" height="4.83" fill="#0a6ed0"/>
<rect x="421.83" y="127.83" width="4.83" height="4.83" fill="#0c48c8"/>
<rect x="425.67" y="127.83" width="4.83" height="4.83" fill="#0a6ed0"/>
<rect x="429.50" y="127.83" width="20.17" height="4.83" fill="#0c48c8"/>
<rect x="448.67" y="127.83" width="4.83" height="4.83" fill="#2228c0"/>
<rect x="383.50" y="131.67" width="4.83" height="4.83" fill="#12a0c8"/>
<rect x="387.33" y="131.67" width="12.50" height="4.83" fill="#0a6ed0"/>
<rect x="398.83" y="131.67" width="4.83" height="4.83" fill="#0c48c8"/>
<rect x="402.67" y="131.67" width="4.83" height="4.83" fill="#0a6ed0"/>
<rect x="406.50" y="131.67" width="4.83" height="4.83" fill="#0c48c8"/>
<rect x="410.33" y="131.67" width="4.83" height="4.83" fill="#0a6ed0"/>
<rect x="414.17" y="131.67" width="20.17" height="4.83" fill="#0c48c8"/>
<rect x="433.33" y="131.67" width="4.83" height="4.83" fill="#2228c0"/>
<rect x="437.17" y="131.67" width="8.67" height="4.83" fill="#0c48c8"/>
<rect x="444.83" y="131.67" width="8.67" height="4.83" fill="#2228c0"/>
<rect x="383.50" y="135.50" width="43.17" height="4.83" fill="#2228c0"/>
<rect x="425.67" y="135.50" width="4.83" height="4.83" fill="#8a8a87"/>
<rect x="429.50" y="135.50" width="4.83" height="4.83" fill="#1e1a26"/>
<rect x="433.33" y="135.50" width="4.83" height="4.83" fill="#2a12b0"/>
<rect x="437.17" y="135.50" width="16.33" height="4.83" fill="#8a8a87"/>
<rect x="383.50" y="139.33" width="43.17" height="4.83" fill="#2228c0"/>
<rect x="425.67" y="139.33" width="4.83" height="4.83" fill="#8a8a87"/>
<rect x="429.50" y="139.33" width="4.83" height="4.83" fill="#1e1a26"/>
<rect x="433.33" y="139.33" width="4.83" height="4.83" fill="#2a12b0"/>
<rect x="437.17" y="139.33" width="16.33" height="4.83" fill="#8a8a87"/>
<rect x="383.50" y="143.17" width="47.00" height="4.83" fill="#2228c0"/>
<rect x="429.50" y="143.17" width="4.83" height="4.83" fill="#1e1a26"/>
<rect x="433.33" y="143.17" width="4.83" height="4.83" fill="#2a12b0"/>
<rect x="437.17" y="143.17" width="4.83" height="4.83" fill="#4c4a52"/>
<rect x="441.00" y="143.17" width="12.50" height="4.83" fill="#8a8a87"/>
<rect x="383.50" y="147.00" width="4.83" height="4.83" fill="#0c48c8"/>
<rect x="387.33" y="147.00" width="43.17" height="4.83" fill="#2228c0"/>
<rect x="429.50" y="147.00" width="4.83" height="4.83" fill="#1e1a26"/>
<rect x="433.33" y="147.00" width="8.67" height="4.83" fill="#2a12b0"/>
<rect x="441.00" y="147.00" width="12.50" height="4.83" fill="#8a8a87"/>
<rect x="383.50" y="150.83" width="4.83" height="4.83" fill="#12a0c8"/>
<rect x="387.33" y="150.83" width="16.33" height="4.83" fill="#0a6ed0"/>
<rect x="402.67" y="150.83" width="4.83" height="4.83" fill="#0c48c8"/>
<rect x="406.50" y="150.83" width="27.83" height="4.83" fill="#2228c0"/>
<rect x="433.33" y="150.83" width="12.50" height="4.83" fill="#2a12b0"/>
<rect x="444.83" y="150.83" width="8.67" height="4.83" fill="#8a8a87"/>
<rect x="383.50" y="154.67" width="4.83" height="4.83" fill="#12a0c8"/>
<rect x="387.33" y="154.67" width="4.83" height="4.83" fill="#0a6ed0"/>
<rect x="391.17" y="154.67" width="4.83" height="4.83" fill="#12a0c8"/>
<rect x="395.00" y="154.67" width="8.67" height="4.83" fill="#0a6ed0"/>
<rect x="402.67" y="154.67" width="4.83" height="4.83" fill="#12a0c8"/>
<rect x="406.50" y="154.67" width="4.83" height="4.83" fill="#0c48c8"/>
<rect x="410.33" y="154.67" width="16.33" height="4.83" fill="#2228c0"/>
<rect x="425.67" y="154.67" width="4.83" height="4.83" fill="#0a6ed0"/>
<rect x="429.50" y="154.67" width="4.83" height="4.83" fill="#2228c0"/>
<rect x="433.33" y="154.67" width="12.50" height="4.83" fill="#2a12b0"/>
<rect x="444.83" y="154.67" width="8.67" height="4.83" fill="#8a8a87"/>
<rect x="452.50" y="89.50" width="4.84" height="4.83" fill="#0a6ed0"/>
<rect x="456.34" y="89.50" width="39.44" height="4.83" fill="#0c48c8"/>
<rect x="494.79" y="89.50" width="4.84" height="4.83" fill="#2228c0"/>
<rect x="498.63" y="89.50" width="23.07" height="4.83" fill="#2a12b0"/>
<rect x="452.50" y="93.33" width="4.84" height="4.83" fill="#0a6ed0"/>
<rect x="456.34" y="93.33" width="39.44" height="4.83" fill="#0c48c8"/>
<rect x="494.79" y="93.33" width="4.84" height="4.83" fill="#2228c0"/>
<rect x="498.63" y="93.33" width="23.07" height="4.83" fill="#2a12b0"/>
<rect x="452.50" y="97.17" width="4.84" height="4.83" fill="#0a6ed0"/>
<rect x="456.34" y="97.17" width="39.44" height="4.83" fill="#0c48c8"/>
<rect x="494.79" y="97.17" width="4.84" height="4.83" fill="#2228c0"/>
<rect x="498.63" y="97.17" width="23.07" height="4.83" fill="#2a12b0"/>
<rect x="452.50" y="101.00" width="4.84" height="4.83" fill="#14c0be"/>
<rect x="456.34" y="101.00" width="4.84" height="4.83" fill="#0a6ed0"/>
<rect x="460.19" y="101.00" width="35.60" height="4.83" fill="#0c48c8"/>
<rect x="494.79" y="101.00" width="4.84" height="4.83" fill="#2228c0"/>
<rect x="498.63" y="101.00" width="23.07" height="4.83" fill="#2a12b0"/>
<rect x="452.50" y="104.83" width="4.84" height="4.83" fill="#14c0be"/>
<rect x="456.34" y="104.83" width="4.84" height="4.83" fill="#0a6ed0"/>
<rect x="460.19" y="104.83" width="16.38" height="4.83" fill="#0c48c8"/>
<rect x="475.57" y="104.83" width="4.84" height="4.83" fill="#2228c0"/>
<rect x="479.41" y="104.83" width="16.38" height="4.83" fill="#0c48c8"/>
<rect x="494.79" y="104.83" width="4.84" height="4.83" fill="#2228c0"/>
<rect x="498.63" y="104.83" width="23.07" height="4.83" fill="#2a12b0"/>
<rect x="452.50" y="108.67" width="4.84" height="4.83" fill="#12a0c8"/>
<rect x="456.34" y="108.67" width="4.84" height="4.83" fill="#0a6ed0"/>
<rect x="460.19" y="108.67" width="16.38" height="4.83" fill="#0c48c8"/>
<rect x="475.57" y="108.67" width="24.07" height="4.83" fill="#2228c0"/>
<rect x="498.63" y="108.67" width="23.07" height="4.83" fill="#2a12b0"/>
<rect x="452.50" y="112.50" width="47.13" height="4.83" fill="#2228c0"/>
<rect x="498.63" y="112.50" width="23.07" height="4.83" fill="#2a12b0"/>
<rect x="452.50" y="116.33" width="47.13" height="4.83" fill="#2228c0"/>
<rect x="498.63" y="116.33" width="23.07" height="4.83" fill="#2a12b0"/>
<rect x="452.50" y="120.17" width="47.13" height="4.83" fill="#2228c0"/>
<rect x="498.63" y="120.17" width="20.22" height="4.83" fill="#2a12b0"/>
<rect x="517.86" y="120.17" width="3.84" height="4.83" fill="#8a8a87"/>
<rect x="452.50" y="124.00" width="66.36" height="4.83" fill="#2228c0"/>
<rect x="517.86" y="124.00" width="3.84" height="4.83" fill="#4c4a52"/>
<rect x="452.50" y="127.83" width="4.84" height="4.83" fill="#0a6ed0"/>
<rect x="456.34" y="127.83" width="4.84" height="4.83" fill="#0c48c8"/>
<rect x="460.19" y="127.83" width="4.84" height="4.83" fill="#0a6ed0"/>
<rect x="464.03" y="127.83" width="8.69" height="4.83" fill="#0c48c8"/>
<rect x="471.72" y="127.83" width="47.13" height="4.83" fill="#2228c0"/>
<rect x="517.86" y="127.83" width="3.84" height="4.83" fill="#8a8a87"/>
<rect x="452.50" y="131.67" width="16.38" height="4.83" fill="#0a6ed0"/>
<rect x="467.88" y="131.67" width="4.84" height="4.83" fill="#0c48c8"/>
<rect x="471.72" y="131.67" width="47.13" height="4.83" fill="#2228c0"/>
<rect x="517.86" y="131.67" width="3.84" height="4.83" fill="#4c4a52"/>
<rect x="452.50" y="135.50" width="16.38" height="4.83" fill="#2a12b0"/>
<rect x="467.88" y="135.50" width="4.84" height="4.83" fill="#4c4a52"/>
<rect x="471.72" y="135.50" width="4.84" height="4.83" fill="#8a8a87"/>
<rect x="475.57" y="135.50" width="8.69" height="4.83" fill="#2a12b0"/>
<rect x="483.26" y="135.50" width="4.84" height="4.83" fill="#4c4a52"/>
<rect x="487.10" y="135.50" width="34.60" height="4.83" fill="#8a8a87"/>
<rect x="452.50" y="139.33" width="16.38" height="4.83" fill="#2a12b0"/>
<rect x="467.88" y="139.33" width="4.84" height="4.83" fill="#4c4a52"/>
<rect x="471.72" y="139.33" width="4.84" height="4.83" fill="#8a8a87"/>
<rect x="475.57" y="139.33" width="8.69" height="4.83" fill="#2a12b0"/>
<rect x="483.26" y="139.33" width="4.84" height="4.83" fill="#4c4a52"/>
<rect x="487.10" y="139.33" width="34.60" height="4.83" fill="#8a8a87"/>
<rect x="452.50" y="143.17" width="16.38" height="4.83" fill="#0c48c8"/>
<rect x="467.88" y="143.17" width="4.84" height="4.83" fill="#2a12b0"/>
<rect x="471.72" y="143.17" width="4.84" height="4.83" fill="#4c4a52"/>
<rect x="475.57" y="143.17" width="8.69" height="4.83" fill="#2a12b0"/>
<rect x="483.26" y="143.17" width="4.84" height="4.83" fill="#4c4a52"/>
<rect x="487.10" y="143.17" width="12.53" height="4.83" fill="#8a8a87"/>
<rect x="498.63" y="143.17" width="8.69" height="4.83" fill="#2a12b0"/>
<rect x="506.32" y="143.17" width="15.38" height="4.83" fill="#8a8a87"/>
<rect x="452.50" y="147.00" width="20.22" height="4.83" fill="#0c48c8"/>
<rect x="471.72" y="147.00" width="4.84" height="4.83" fill="#0a6ed0"/>
<rect x="475.57" y="147.00" width="8.69" height="4.83" fill="#2a12b0"/>
<rect x="483.26" y="147.00" width="4.84" height="4.83" fill="#4c4a52"/>
<rect x="487.10" y="147.00" width="12.53" height="4.83" fill="#8a8a87"/>
<rect x="498.63" y="147.00" width="8.69" height="4.83" fill="#2a12b0"/>
<rect x="506.32" y="147.00" width="15.38" height="4.83" fill="#8a8a87"/>
<rect x="452.50" y="150.83" width="12.53" height="4.83" fill="#0c48c8"/>
<rect x="464.03" y="150.83" width="4.84" height="4.83" fill="#14c0be"/>
<rect x="467.88" y="150.83" width="4.84" height="4.83" fill="#12a0c8"/>
<rect x="471.72" y="150.83" width="4.84" height="4.83" fill="#14c0be"/>
<rect x="475.57" y="150.83" width="8.69" height="4.83" fill="#2a12b0"/>
<rect x="483.26" y="150.83" width="8.69" height="4.83" fill="#4c4a52"/>
<rect x="490.94" y="150.83" width="8.69" height="4.83" fill="#8a8a87"/>
<rect x="498.63" y="150.83" width="8.69" height="4.83" fill="#2a12b0"/>
<rect x="506.32" y="150.83" width="15.38" height="4.83" fill="#8a8a87"/>
<rect x="452.50" y="154.67" width="8.69" height="4.83" fill="#0c48c8"/>
<rect x="460.19" y="154.67" width="4.84" height="4.83" fill="#14c0be"/>
<rect x="464.03" y="154.67" width="4.84" height="4.83" fill="#12a0c8"/>
<rect x="467.88" y="154.67" width="8.69" height="4.83" fill="#14c0be"/>
<rect x="475.57" y="154.67" width="8.69" height="4.83" fill="#2a12b0"/>
<rect x="483.26" y="154.67" width="4.84" height="4.83" fill="#1e1a26"/>
<rect x="487.10" y="154.67" width="12.53" height="4.83" fill="#0c48c8"/>
<rect x="498.63" y="154.67" width="8.69" height="4.83" fill="#2a12b0"/>
<rect x="506.32" y="154.67" width="15.38" height="4.83" fill="#8a8a87"/>
<rect x="314.50" y="158.50" width="24.00" height="4.78" fill="#d4c830"/>
<rect x="337.50" y="158.50" width="4.83" height="4.78" fill="#c4bead"/>
<rect x="341.33" y="158.50" width="4.83" height="4.78" fill="#d4c830"/>
<rect x="345.17" y="158.50" width="4.83" height="4.78" fill="#c4bead"/>
<rect x="349.00" y="158.50" width="4.83" height="4.78" fill="#d4c830"/>
<rect x="352.83" y="158.50" width="4.83" height="4.78" fill="#c4bead"/>
<rect x="356.67" y="158.50" width="4.83" height="4.78" fill="#d4c830"/>
<rect x="360.50" y="158.50" width="4.83" height="4.78" fill="#a4c4c0"/>
<rect x="364.33" y="158.50" width="4.83" height="4.78" fill="#80d0c8"/>
<rect x="368.17" y="158.50" width="4.83" height="4.78" fill="#a4c4c0"/>
<rect x="372.00" y="158.50" width="4.83" height="4.78" fill="#80d0c8"/>
<rect x="375.83" y="158.50" width="4.83" height="4.78" fill="#a4c4c0"/>
<rect x="379.67" y="158.50" width="4.83" height="4.78" fill="#80d0c8"/>
<rect x="314.50" y="162.28" width="27.83" height="4.78" fill="#d4c830"/>
<rect x="341.33" y="162.28" width="8.67" height="4.78" fill="#c4bead"/>
<rect x="349.00" y="162.28" width="4.83" height="4.78" fill="#d4c830"/>
<rect x="352.83" y="162.28" width="8.67" height="4.78" fill="#c4bead"/>
<rect x="360.50" y="162.28" width="4.83" height="4.78" fill="#80d0c8"/>
<rect x="364.33" y="162.28" width="8.67" height="4.78" fill="#a4c4c0"/>
<rect x="372.00" y="162.28" width="4.83" height="4.78" fill="#80d0c8"/>
<rect x="375.83" y="162.28" width="4.83" height="4.78" fill="#a4c4c0"/>
<rect x="379.67" y="162.28" width="4.83" height="4.78" fill="#80d0c8"/>
<rect x="314.50" y="166.06" width="47.00" height="4.78" fill="#d4c830"/>
<rect x="360.50" y="166.06" width="4.83" height="4.78" fill="#a4c4c0"/>
<rect x="364.33" y="166.06" width="4.83" height="4.78" fill="#c4bca4"/>
<rect x="368.17" y="166.06" width="4.83" height="4.78" fill="#a4c4c0"/>
<rect x="372.00" y="166.06" width="4.83" height="4.78" fill="#c4bca4"/>
<rect x="375.83" y="166.06" width="4.83" height="4.78" fill="#a4c4c0"/>
<rect x="379.67" y="166.06" width="4.83" height="4.78" fill="#c4bca4"/>
<rect x="314.50" y="169.83" width="24.00" height="4.78" fill="#e26c0c"/>
<rect x="337.50" y="169.83" width="24.00" height="4.78" fill="#d4c830"/>
<rect x="360.50" y="169.83" width="24.00" height="4.78" fill="#c4bca4"/>
<rect x="314.50" y="173.61" width="24.00" height="4.78" fill="#4a0c1c"/>
<rect x="337.50" y="173.61" width="24.00" height="4.78" fill="#e26c0c"/>
<rect x="360.50" y="173.61" width="4.83" height="4.78" fill="#c8c478"/>
<rect x="364.33" y="173.61" width="4.83" height="4.78" fill="#d4c830"/>
<rect x="368.17" y="173.61" width="4.83" height="4.78" fill="#c8c478"/>
<rect x="372.00" y="173.61" width="4.83" height="4.78" fill="#d4c830"/>
<rect x="375.83" y="173.61" width="4.83" height="4.78" fill="#c8c478"/>
<rect x="379.67" y="173.61" width="4.83" height="4.78" fill="#d4c830"/>
<rect x="314.50" y="177.39" width="24.00" height="4.78" fill="#d01c2c"/>
<rect x="337.50" y="177.39" width="24.00" height="4.78" fill="#e26c0c"/>
<rect x="360.50" y="177.39" width="4.83" height="4.78" fill="#d4c830"/>
<rect x="364.33" y="177.39" width="4.83" height="4.78" fill="#c4bca4"/>
<rect x="368.17" y="177.39" width="4.83" height="4.78" fill="#d4c830"/>
<rect x="372.00" y="177.39" width="4.83" height="4.78" fill="#c4bca4"/>
<rect x="375.83" y="177.39" width="4.83" height="4.78" fill="#d4c830"/>
<rect x="379.67" y="177.39" width="4.83" height="4.78" fill="#c4bca4"/>
<rect x="314.50" y="181.17" width="47.00" height="4.78" fill="#c4bead"/>
<rect x="360.50" y="181.17" width="4.83" height="4.78" fill="#80d0c8"/>
<rect x="364.33" y="181.17" width="4.83" height="4.78" fill="#14c0be"/>
<rect x="368.17" y="181.17" width="4.83" height="4.78" fill="#80d0c8"/>
<rect x="372.00" y="181.17" width="4.83" height="4.78" fill="#14c0be"/>
<rect x="375.83" y="181.17" width="4.83" height="4.78" fill="#80d0c8"/>
<rect x="379.67" y="181.17" width="4.83" height="4.78" fill="#14c0be"/>
<rect x="314.50" y="184.94" width="47.00" height="4.78" fill="#c4bead"/>
<rect x="360.50" y="184.94" width="4.83" height="4.78" fill="#14c0be"/>
<rect x="364.33" y="184.94" width="4.83" height="4.78" fill="#80d0c8"/>
<rect x="368.17" y="184.94" width="4.83" height="4.78" fill="#14c0be"/>
<rect x="372.00" y="184.94" width="4.83" height="4.78" fill="#80d0c8"/>
<rect x="375.83" y="184.94" width="4.83" height="4.78" fill="#14c0be"/>
<rect x="379.67" y="184.94" width="4.83" height="4.78" fill="#80d0c8"/>
<rect x="314.50" y="188.72" width="47.00" height="4.78" fill="#c4bead"/>
<rect x="360.50" y="188.72" width="24.00" height="4.78" fill="#14c0be"/>
<rect x="314.50" y="192.50" width="24.00" height="4.78" fill="#c4bead"/>
<rect x="337.50" y="192.50" width="24.00" height="4.78" fill="#c8c478"/>
<rect x="360.50" y="192.50" width="4.83" height="4.78" fill="#80d0c8"/>
<rect x="364.33" y="192.50" width="4.83" height="4.78" fill="#14c0be"/>
<rect x="368.17" y="192.50" width="4.83" height="4.78" fill="#80d0c8"/>
<rect x="372.00" y="192.50" width="4.83" height="4.78" fill="#14c0be"/>
<rect x="375.83" y="192.50" width="4.83" height="4.78" fill="#80d0c8"/>
<rect x="379.67" y="192.50" width="4.83" height="4.78" fill="#14c0be"/>
<rect x="314.50" y="196.28" width="24.00" height="4.78" fill="#e26c0c"/>
<rect x="337.50" y="196.28" width="24.00" height="4.78" fill="#c8c478"/>
<rect x="360.50" y="196.28" width="8.67" height="4.78" fill="#14c0be"/>
<rect x="368.17" y="196.28" width="4.83" height="4.78" fill="#80d0c8"/>
<rect x="372.00" y="196.28" width="12.50" height="4.78" fill="#14c0be"/>
<rect x="314.50" y="200.06" width="24.00" height="4.78" fill="#d4c830"/>
<rect x="337.50" y="200.06" width="24.00" height="4.78" fill="#c8c478"/>
<rect x="360.50" y="200.06" width="24.00" height="4.78" fill="#14c0be"/>
<rect x="314.50" y="203.83" width="8.67" height="4.78" fill="#c4bead"/>
<rect x="322.17" y="203.83" width="24.00" height="4.78" fill="#14c0be"/>
<rect x="345.17" y="203.83" width="20.17" height="4.78" fill="#12a0c8"/>
<rect x="364.33" y="203.83" width="8.67" height="4.78" fill="#0a6ed0"/>
<rect x="372.00" y="203.83" width="8.67" height="4.78" fill="#0c48c8"/>
<rect x="379.67" y="203.83" width="4.83" height="4.78" fill="#2228c0"/>
<rect x="314.50" y="207.61" width="4.83" height="4.78" fill="#c4bead"/>
<rect x="318.33" y="207.61" width="20.17" height="4.78" fill="#14c0be"/>
<rect x="337.50" y="207.61" width="8.67" height="4.78" fill="#12a0c8"/>
<rect x="345.17" y="207.61" width="24.00" height="4.78" fill="#0a6ed0"/>
<rect x="368.17" y="207.61" width="8.67" height="4.78" fill="#0c48c8"/>
<rect x="375.83" y="207.61" width="8.67" height="4.78" fill="#2228c0"/>
<rect x="314.50" y="211.39" width="8.67" height="4.78" fill="#c8c478"/>
<rect x="322.17" y="211.39" width="4.83" height="4.78" fill="#14c0be"/>
<rect x="326.00" y="211.39" width="4.83" height="4.78" fill="#80d0c8"/>
<rect x="329.83" y="211.39" width="4.83" height="4.78" fill="#14c0be"/>
<rect x="333.67" y="211.39" width="4.83" height="4.78" fill="#80d0c8"/>
<rect x="337.50" y="211.39" width="4.83" height="4.78" fill="#14c0be"/>
<rect x="341.33" y="211.39" width="27.83" height="4.78" fill="#12a0c8"/>
<rect x="368.17" y="211.39" width="4.83" height="4.78" fill="#0a6ed0"/>
<rect x="372.00" y="211.39" width="8.67" height="4.78" fill="#0c48c8"/>
<rect x="379.67" y="211.39" width="4.83" height="4.78" fill="#2228c0"/>
<rect x="314.50" y="215.17" width="4.83" height="4.78" fill="#c8c478"/>
<rect x="318.33" y="215.17" width="4.83" height="4.78" fill="#14c0be"/>
<rect x="322.17" y="215.17" width="4.83" height="4.78" fill="#80d0c8"/>
<rect x="326.00" y="215.17" width="4.83" height="4.78" fill="#14c0be"/>
<rect x="329.83" y="215.17" width="4.83" height="4.78" fill="#80d0c8"/>
<rect x="333.67" y="215.17" width="4.83" height="4.78" fill="#14c0be"/>
<rect x="337.50" y="215.17" width="31.67" height="4.78" fill="#12a0c8"/>
<rect x="368.17" y="215.17" width="4.83" height="4.78" fill="#0a6ed0"/>
<rect x="372.00" y="215.17" width="8.67" height="4.78" fill="#0c48c8"/>
<rect x="379.67" y="215.17" width="4.83" height="4.78" fill="#2228c0"/>
<rect x="314.50" y="218.94" width="24.00" height="4.78" fill="#c4bead"/>
<rect x="337.50" y="218.94" width="24.00" height="4.78" fill="#14c0be"/>
<rect x="360.50" y="218.94" width="12.50" height="4.78" fill="#12a0c8"/>
<rect x="372.00" y="218.94" width="4.83" height="4.78" fill="#0a6ed0"/>
<rect x="375.83" y="218.94" width="8.67" height="4.78" fill="#0c48c8"/>
<rect x="314.50" y="222.72" width="24.00" height="3.78" fill="#c4bead"/>
<rect x="337.50" y="222.72" width="24.00" height="3.78" fill="#14c0be"/>
<rect x="360.50" y="222.72" width="8.67" height="3.78" fill="#12a0c8"/>
<rect x="368.17" y="222.72" width="8.67" height="3.78" fill="#0a6ed0"/>
<rect x="375.83" y="222.72" width="8.67" height="3.78" fill="#0c48c8"/>
<rect x="383.50" y="158.50" width="24.00" height="4.78" fill="#a4c4c0"/>
<rect x="406.50" y="158.50" width="24.00" height="4.78" fill="#14c0be"/>
<rect x="429.50" y="158.50" width="4.83" height="4.78" fill="#12a0c8"/>
<rect x="433.33" y="158.50" width="4.83" height="4.78" fill="#0a6ed0"/>
<rect x="437.17" y="158.50" width="4.83" height="4.78" fill="#0c48c8"/>
<rect x="441.00" y="158.50" width="4.83" height="4.78" fill="#2a12b0"/>
<rect x="444.83" y="158.50" width="4.83" height="4.78" fill="#2c0a8c"/>
<rect x="448.67" y="158.50" width="4.83" height="4.78" fill="#2a12b0"/>
<rect x="383.50" y="162.28" width="24.00" height="4.78" fill="#a4c4c0"/>
<rect x="406.50" y="162.28" width="24.00" height="4.78" fill="#14c0be"/>
<rect x="429.50" y="162.28" width="4.83" height="4.78" fill="#12a0c8"/>
<rect x="433.33" y="162.28" width="4.83" height="4.78" fill="#0a6ed0"/>
<rect x="437.17" y="162.28" width="4.83" height="4.78" fill="#0c48c8"/>
<rect x="441.00" y="162.28" width="4.83" height="4.78" fill="#2a12b0"/>
<rect x="444.83" y="162.28" width="4.83" height="4.78" fill="#2c0a8c"/>
<rect x="448.67" y="162.28" width="4.83" height="4.78" fill="#2a12b0"/>
<rect x="383.50" y="166.06" width="24.00" height="4.78" fill="#c8c478"/>
<rect x="406.50" y="166.06" width="24.00" height="4.78" fill="#80d0c8"/>
<rect x="429.50" y="166.06" width="4.83" height="4.78" fill="#12a0c8"/>
<rect x="433.33" y="166.06" width="4.83" height="4.78" fill="#0a6ed0"/>
<rect x="437.17" y="166.06" width="4.83" height="4.78" fill="#0c48c8"/>
<rect x="441.00" y="166.06" width="4.83" height="4.78" fill="#2a12b0"/>
<rect x="444.83" y="166.06" width="4.83" height="4.78" fill="#2c0a8c"/>
<rect x="448.67" y="166.06" width="4.83" height="4.78" fill="#2a12b0"/>
<rect x="383.50" y="169.83" width="24.00" height="4.78" fill="#c8c478"/>
<rect x="406.50" y="169.83" width="24.00" height="4.78" fill="#80d0c8"/>
<rect x="429.50" y="169.83" width="4.83" height="4.78" fill="#12a0c8"/>
<rect x="433.33" y="169.83" width="4.83" height="4.78" fill="#0a6ed0"/>
<rect x="437.17" y="169.83" width="4.83" height="4.78" fill="#0c48c8"/>
<rect x="441.00" y="169.83" width="4.83" height="4.78" fill="#2a12b0"/>
<rect x="444.83" y="169.83" width="4.83" height="4.78" fill="#2c0a8c"/>
<rect x="448.67" y="169.83" width="4.83" height="4.78" fill="#2a12b0"/>
<rect x="383.50" y="173.61" width="24.00" height="4.78" fill="#e26c0c"/>
<rect x="406.50" y="173.61" width="24.00" height="4.78" fill="#a4c4c0"/>
<rect x="429.50" y="173.61" width="4.83" height="4.78" fill="#12a0c8"/>
<rect x="433.33" y="173.61" width="4.83" height="4.78" fill="#0a6ed0"/>
<rect x="437.17" y="173.61" width="4.83" height="4.78" fill="#0c48c8"/>
<rect x="441.00" y="173.61" width="4.83" height="4.78" fill="#2a12b0"/>
<rect x="444.83" y="173.61" width="4.83" height="4.78" fill="#2c0a8c"/>
<rect x="448.67" y="173.61" width="4.83" height="4.78" fill="#2a12b0"/>
<rect x="383.50" y="177.39" width="4.83" height="4.78" fill="#d4c830"/>
<rect x="387.33" y="177.39" width="4.83" height="4.78" fill="#e26c0c"/>
<rect x="391.17" y="177.39" width="4.83" height="4.78" fill="#d4c830"/>
<rect x="395.00" y="177.39" width="4.83" height="4.78" fill="#e26c0c"/>
<rect x="398.83" y="177.39" width="4.83" height="4.78" fill="#d4c830"/>
<rect x="402.67" y="177.39" width="4.83" height="4.78" fill="#e26c0c"/>
<rect x="406.50" y="177.39" width="24.00" height="4.78" fill="#a4c4c0"/>
<rect x="429.50" y="177.39" width="4.83" height="4.78" fill="#12a0c8"/>
<rect x="433.33" y="177.39" width="4.83" height="4.78" fill="#0a6ed0"/>
<rect x="437.17" y="177.39" width="4.83" height="4.78" fill="#0c48c8"/>
<rect x="441.00" y="177.39" width="4.83" height="4.78" fill="#2a12b0"/>
<rect x="444.83" y="177.39" width="4.83" height="4.78" fill="#2c0a8c"/>
<rect x="448.67" y="177.39" width="4.83" height="4.78" fill="#2a12b0"/>
<rect x="383.50" y="181.17" width="47.00" height="4.78" fill="#14c0be"/>
<rect x="429.50" y="181.17" width="12.50" height="4.78" fill="#0c48c8"/>
<rect x="441.00" y="181.17" width="4.83" height="4.78" fill="#2a12b0"/>
<rect x="444.83" y="181.17" width="4.83" height="4.78" fill="#2c0a8c"/>
<rect x="448.67" y="181.17" width="4.83" height="4.78" fill="#2a12b0"/>
<rect x="383.50" y="184.94" width="47.00" height="4.78" fill="#14c0be"/>
<rect x="429.50" y="184.94" width="12.50" height="4.78" fill="#0c48c8"/>
<rect x="441.00" y="184.94" width="4.83" height="4.78" fill="#2a12b0"/>
<rect x="444.83" y="184.94" width="4.83" height="4.78" fill="#2c0a8c"/>
<rect x="448.67" y="184.94" width="4.83" height="4.78" fill="#2a12b0"/>
<rect x="383.50" y="188.72" width="4.83" height="4.78" fill="#80d0c8"/>
<rect x="387.33" y="188.72" width="4.83" height="4.78" fill="#14c0be"/>
<rect x="391.17" y="188.72" width="4.83" height="4.78" fill="#80d0c8"/>
<rect x="395.00" y="188.72" width="4.83" height="4.78" fill="#14c0be"/>
<rect x="398.83" y="188.72" width="4.83" height="4.78" fill="#80d0c8"/>
<rect x="402.67" y="188.72" width="24.00" height="4.78" fill="#14c0be"/>
<rect x="425.67" y="188.72" width="4.83" height="4.78" fill="#0a6ed0"/>
<rect x="429.50" y="188.72" width="12.50" height="4.78" fill="#0c48c8"/>
<rect x="441.00" y="188.72" width="4.83" height="4.78" fill="#2a12b0"/>
<rect x="444.83" y="188.72" width="4.83" height="4.78" fill="#2c0a8c"/>
<rect x="448.67" y="188.72" width="4.83" height="4.78" fill="#2a12b0"/>
<rect x="383.50" y="192.50" width="4.83" height="4.78" fill="#80d0c8"/>
<rect x="387.33" y="192.50" width="4.83" height="4.78" fill="#a4c4c0"/>
<rect x="391.17" y="192.50" width="4.83" height="4.78" fill="#80d0c8"/>
<rect x="395.00" y="192.50" width="4.83" height="4.78" fill="#a4c4c0"/>
<rect x="398.83" y="192.50" width="4.83" height="4.78" fill="#80d0c8"/>
<rect x="402.67" y="192.50" width="4.83" height="4.78" fill="#a4c4c0"/>
<rect x="406.50" y="192.50" width="24.00" height="4.78" fill="#14c0be"/>
<rect x="429.50" y="192.50" width="8.67" height="4.78" fill="#12a0c8"/>
<rect x="437.17" y="192.50" width="16.33" height="4.78" fill="#0a6ed0"/>
<rect x="383.50" y="196.28" width="4.83" height="4.78" fill="#a4c4c0"/>
<rect x="387.33" y="196.28" width="4.83" height="4.78" fill="#80d0c8"/>
<rect x="391.17" y="196.28" width="4.83" height="4.78" fill="#a4c4c0"/>
<rect x="395.00" y="196.28" width="4.83" height="4.78" fill="#80d0c8"/>
<rect x="398.83" y="196.28" width="4.83" height="4.78" fill="#a4c4c0"/>
<rect x="402.67" y="196.28" width="4.83" height="4.78" fill="#80d0c8"/>
<rect x="406.50" y="196.28" width="24.00" height="4.78" fill="#14c0be"/>
<rect x="429.50" y="196.28" width="4.83" height="4.78" fill="#12a0c8"/>
<rect x="433.33" y="196.28" width="4.83" height="4.78" fill="#0a6ed0"/>
<rect x="437.17" y="196.28" width="4.83" height="4.78" fill="#12a0c8"/>
<rect x="441.00" y="196.28" width="8.67" height="4.78" fill="#0a6ed0"/>
<rect x="448.67" y="196.28" width="4.83" height="4.78" fill="#0c48c8"/>
<rect x="383.50" y="200.06" width="4.83" height="4.78" fill="#80d0c8"/>
<rect x="387.33" y="200.06" width="4.83" height="4.78" fill="#a4c4c0"/>
<rect x="391.17" y="200.06" width="4.83" height="4.78" fill="#80d0c8"/>
<rect x="395.00" y="200.06" width="4.83" height="4.78" fill="#a4c4c0"/>
<rect x="398.83" y="200.06" width="4.83" height="4.78" fill="#80d0c8"/>
<rect x="402.67" y="200.06" width="4.83" height="4.78" fill="#a4c4c0"/>
<rect x="406.50" y="200.06" width="24.00" height="4.78" fill="#14c0be"/>
<rect x="429.50" y="200.06" width="4.83" height="4.78" fill="#12a0c8"/>
<rect x="433.33" y="200.06" width="4.83" height="4.78" fill="#0a6ed0"/>
<rect x="437.17" y="200.06" width="4.83" height="4.78" fill="#12a0c8"/>
<rect x="441.00" y="200.06" width="4.83" height="4.78" fill="#0a6ed0"/>
<rect x="444.83" y="200.06" width="8.67" height="4.78" fill="#0c48c8"/>
<rect x="383.50" y="203.83" width="4.83" height="4.78" fill="#0c48c8"/>
<rect x="387.33" y="203.83" width="4.83" height="4.78" fill="#0a6ed0"/>
<rect x="391.17" y="203.83" width="4.83" height="4.78" fill="#0c48c8"/>
<rect x="395.00" y="203.83" width="4.83" height="4.78" fill="#0a6ed0"/>
<rect x="398.83" y="203.83" width="4.83" height="4.78" fill="#0c48c8"/>
<rect x="402.67" y="203.83" width="4.83" height="4.78" fill="#0a6ed0"/>
<rect x="406.50" y="203.83" width="8.67" height="4.78" fill="#0c48c8"/>
<rect x="414.17" y="203.83" width="20.17" height="4.78" fill="#2228c0"/>
<rect x="433.33" y="203.83" width="4.83" height="4.78" fill="#0c48c8"/>
<rect x="437.17" y="203.83" width="16.33" height="4.78" fill="#2228c0"/>
<rect x="383.50" y="207.61" width="4.83" height="4.78" fill="#0a6ed0"/>
<rect x="387.33" y="207.61" width="4.83" height="4.78" fill="#0c48c8"/>
<rect x="391.17" y="207.61" width="4.83" height="4.78" fill="#0a6ed0"/>
<rect x="395.00" y="207.61" width="4.83" height="4.78" fill="#0c48c8"/>
<rect x="398.83" y="207.61" width="4.83" height="4.78" fill="#0a6ed0"/>
<rect x="402.67" y="207.61" width="4.83" height="4.78" fill="#0c48c8"/>
<rect x="406.50" y="207.61" width="4.83" height="4.78" fill="#0a6ed0"/>
<rect x="410.33" y="207.61" width="4.83" height="4.78" fill="#0c48c8"/>
<rect x="414.17" y="207.61" width="31.67" height="4.78" fill="#2228c0"/>
<rect x="444.83" y="207.61" width="4.83" height="4.78" fill="#4c4a52"/>
<rect x="448.67" y="207.61" width="4.83" height="4.78" fill="#2228c0"/>
<rect x="383.50" y="211.39" width="4.83" height="4.78" fill="#12a0c8"/>
<rect x="387.33" y="211.39" width="4.83" height="4.78" fill="#0a6ed0"/>
<rect x="391.17" y="211.39" width="4.83" height="4.78" fill="#12a0c8"/>
<rect x="395.00" y="211.39" width="4.83" height="4.78" fill="#0a6ed0"/>
<rect x="398.83" y="211.39" width="4.83" height="4.78" fill="#12a0c8"/>
<rect x="402.67" y="211.39" width="4.83" height="4.78" fill="#0a6ed0"/>
<rect x="406.50" y="211.39" width="4.83" height="4.78" fill="#12a0c8"/>
<rect x="410.33" y="211.39" width="4.83" height="4.78" fill="#0a6ed0"/>
<rect x="414.17" y="211.39" width="27.83" height="4.78" fill="#0c48c8"/>
<rect x="441.00" y="211.39" width="4.83" height="4.78" fill="#2228c0"/>
<rect x="444.83" y="211.39" width="4.83" height="4.78" fill="#0c48c8"/>
<rect x="448.67" y="211.39" width="4.83" height="4.78" fill="#2228c0"/>
<rect x="383.50" y="215.17" width="4.83" height="4.78" fill="#12a0c8"/>
<rect x="387.33" y="215.17" width="4.83" height="4.78" fill="#0a6ed0"/>
<rect x="391.17" y="215.17" width="4.83" height="4.78" fill="#12a0c8"/>
<rect x="395.00" y="215.17" width="4.83" height="4.78" fill="#0a6ed0"/>
<rect x="398.83" y="215.17" width="4.83" height="4.78" fill="#12a0c8"/>
<rect x="402.67" y="215.17" width="4.83" height="4.78" fill="#0a6ed0"/>
<rect x="406.50" y="215.17" width="4.83" height="4.78" fill="#12a0c8"/>
<rect x="410.33" y="215.17" width="4.83" height="4.78" fill="#0a6ed0"/>
<rect x="414.17" y="215.17" width="27.83" height="4.78" fill="#0c48c8"/>
<rect x="441.00" y="215.17" width="4.83" height="4.78" fill="#2228c0"/>
<rect x="444.83" y="215.17" width="4.83" height="4.78" fill="#0c48c8"/>
<rect x="448.67" y="215.17" width="4.83" height="4.78" fill="#2228c0"/>
<rect x="383.50" y="218.94" width="8.67" height="4.78" fill="#14c0be"/>
<rect x="391.17" y="218.94" width="4.83" height="4.78" fill="#12a0c8"/>
<rect x="395.00" y="218.94" width="4.83" height="4.78" fill="#14c0be"/>
<rect x="398.83" y="218.94" width="4.83" height="4.78" fill="#12a0c8"/>
<rect x="402.67" y="218.94" width="4.83" height="4.78" fill="#14c0be"/>
<rect x="406.50" y="218.94" width="4.83" height="4.78" fill="#12a0c8"/>
<rect x="410.33" y="218.94" width="4.83" height="4.78" fill="#0a6ed0"/>
<rect x="414.17" y="218.94" width="4.83" height="4.78" fill="#0c48c8"/>
<rect x="418.00" y="218.94" width="4.83" height="4.78" fill="#0a6ed0"/>
<rect x="421.83" y="218.94" width="4.83" height="4.78" fill="#0c48c8"/>
<rect x="425.67" y="218.94" width="4.83" height="4.78" fill="#0a6ed0"/>
<rect x="429.50" y="218.94" width="4.83" height="4.78" fill="#0c48c8"/>
<rect x="433.33" y="218.94" width="4.83" height="4.78" fill="#0a6ed0"/>
<rect x="437.17" y="218.94" width="16.33" height="4.78" fill="#0c48c8"/>
<rect x="383.50" y="222.72" width="4.83" height="3.78" fill="#14c0be"/>
<rect x="387.33" y="222.72" width="4.83" height="3.78" fill="#12a0c8"/>
<rect x="391.17" y="222.72" width="4.83" height="3.78" fill="#14c0be"/>
<rect x="395.00" y="222.72" width="4.83" height="3.78" fill="#12a0c8"/>
<rect x="398.83" y="222.72" width="4.83" height="3.78" fill="#14c0be"/>
<rect x="402.67" y="222.72" width="4.83" height="3.78" fill="#12a0c8"/>
<rect x="406.50" y="222.72" width="4.83" height="3.78" fill="#14c0be"/>
<rect x="410.33" y="222.72" width="4.83" height="3.78" fill="#12a0c8"/>
<rect x="414.17" y="222.72" width="4.83" height="3.78" fill="#0c48c8"/>
<rect x="418.00" y="222.72" width="4.83" height="3.78" fill="#0a6ed0"/>
<rect x="421.83" y="222.72" width="4.83" height="3.78" fill="#0c48c8"/>
<rect x="425.67" y="222.72" width="4.83" height="3.78" fill="#0a6ed0"/>
<rect x="429.50" y="222.72" width="4.83" height="3.78" fill="#0c48c8"/>
<rect x="433.33" y="222.72" width="4.83" height="3.78" fill="#0a6ed0"/>
<rect x="437.17" y="222.72" width="16.33" height="3.78" fill="#0c48c8"/>
<rect x="452.50" y="158.50" width="4.84" height="4.78" fill="#12a0c8"/>
<rect x="456.34" y="158.50" width="4.84" height="4.78" fill="#14c0be"/>
<rect x="460.19" y="158.50" width="16.38" height="4.78" fill="#8a8a87"/>
<rect x="475.57" y="158.50" width="8.69" height="4.78" fill="#2a12b0"/>
<rect x="483.26" y="158.50" width="16.38" height="4.78" fill="#8a8a87"/>
<rect x="498.63" y="158.50" width="8.69" height="4.78" fill="#2a12b0"/>
<rect x="506.32" y="158.50" width="15.38" height="4.78" fill="#8a8a87"/>
<rect x="452.50" y="162.28" width="12.53" height="4.78" fill="#14c0be"/>
<rect x="464.03" y="162.28" width="12.53" height="4.78" fill="#8a8a87"/>
<rect x="475.57" y="162.28" width="8.69" height="4.78" fill="#2a12b0"/>
<rect x="483.26" y="162.28" width="16.38" height="4.78" fill="#8a8a87"/>
<rect x="498.63" y="162.28" width="8.69" height="4.78" fill="#2a12b0"/>
<rect x="506.32" y="162.28" width="15.38" height="4.78" fill="#8a8a87"/>
<rect x="452.50" y="166.06" width="12.53" height="4.78" fill="#14c0be"/>
<rect x="464.03" y="166.06" width="4.84" height="4.78" fill="#0a6ed0"/>
<rect x="467.88" y="166.06" width="4.84" height="4.78" fill="#8a8a87"/>
<rect x="471.72" y="166.06" width="4.84" height="4.78" fill="#0a6ed0"/>
<rect x="475.57" y="166.06" width="8.69" height="4.78" fill="#2a12b0"/>
<rect x="483.26" y="166.06" width="16.38" height="4.78" fill="#8a8a87"/>
<rect x="498.63" y="166.06" width="8.69" height="4.78" fill="#2a12b0"/>
<rect x="506.32" y="166.06" width="15.38" height="4.78" fill="#8a8a87"/>
<rect x="452.50" y="169.83" width="12.53" height="4.78" fill="#14c0be"/>
<rect x="464.03" y="169.83" width="4.84" height="4.78" fill="#0a6ed0"/>
<rect x="467.88" y="169.83" width="4.84" height="4.78" fill="#14c0be"/>
<rect x="471.72" y="169.83" width="8.69" height="4.78" fill="#0a6ed0"/>
<rect x="479.41" y="169.83" width="4.84" height="4.78" fill="#2a12b0"/>
<rect x="483.26" y="169.83" width="16.38" height="4.78" fill="#8a8a87"/>
<rect x="498.63" y="169.83" width="8.69" height="4.78" fill="#2a12b0"/>
<rect x="506.32" y="169.83" width="15.38" height="4.78" fill="#8a8a87"/>
<rect x="452.50" y="173.61" width="8.69" height="4.78" fill="#80d0c8"/>
<rect x="460.19" y="173.61" width="4.84" height="4.78" fill="#14c0be"/>
<rect x="464.03" y="173.61" width="4.84" height="4.78" fill="#12a0c8"/>
<rect x="467.88" y="173.61" width="4.84" height="4.78" fill="#14c0be"/>
<rect x="471.72" y="173.61" width="4.84" height="4.78" fill="#12a0c8"/>
<rect x="475.57" y="173.61" width="4.84" height="4.78" fill="#0a6ed0"/>
<rect x="479.41" y="173.61" width="4.84" height="4.78" fill="#12a0c8"/>
<rect x="483.26" y="173.61" width="16.38" height="4.78" fill="#8a8a87"/>
<rect x="498.63" y="173.61" width="8.69" height="4.78" fill="#2a12b0"/>
<rect x="506.32" y="173.61" width="15.38" height="4.78" fill="#8a8a87"/>
<rect x="452.50" y="177.39" width="24.07" height="4.78" fill="#14c0be"/>
<rect x="475.57" y="177.39" width="4.84" height="4.78" fill="#12a0c8"/>
<rect x="479.41" y="177.39" width="4.84" height="4.78" fill="#14c0be"/>
<rect x="483.26" y="177.39" width="16.38" height="4.78" fill="#8a8a87"/>
<rect x="498.63" y="177.39" width="8.69" height="4.78" fill="#2a12b0"/>
<rect x="506.32" y="177.39" width="15.38" height="4.78" fill="#8a8a87"/>
<rect x="452.50" y="181.17" width="8.69" height="4.78" fill="#0a6ed0"/>
<rect x="460.19" y="181.17" width="4.84" height="4.78" fill="#8a8a87"/>
<rect x="464.03" y="181.17" width="4.84" height="4.78" fill="#0c48c8"/>
<rect x="467.88" y="181.17" width="4.84" height="4.78" fill="#8a8a87"/>
<rect x="471.72" y="181.17" width="4.84" height="4.78" fill="#0c48c8"/>
<rect x="475.57" y="181.17" width="8.69" height="4.78" fill="#2a12b0"/>
<rect x="483.26" y="181.17" width="8.69" height="4.78" fill="#8a8a87"/>
<rect x="490.94" y="181.17" width="4.84" height="4.78" fill="#1e1a26"/>
<rect x="494.79" y="181.17" width="4.84" height="4.78" fill="#8a8a87"/>
<rect x="498.63" y="181.17" width="4.84" height="4.78" fill="#2a12b0"/>
<rect x="502.48" y="181.17" width="4.84" height="4.78" fill="#0c48c8"/>
<rect x="506.32" y="181.17" width="15.38" height="4.78" fill="#8a8a87"/>
<rect x="452.50" y="184.94" width="8.69" height="4.78" fill="#0c48c8"/>
<rect x="460.19" y="184.94" width="4.84" height="4.78" fill="#8a8a87"/>
<rect x="464.03" y="184.94" width="4.84" height="4.78" fill="#0c48c8"/>
<rect x="467.88" y="184.94" width="4.84" height="4.78" fill="#4c4a52"/>
<rect x="471.72" y="184.94" width="4.84" height="4.78" fill="#8a8a87"/>
<rect x="475.57" y="184.94" width="4.84" height="4.78" fill="#2a12b0"/>
<rect x="479.41" y="184.94" width="4.84" height="4.78" fill="#0c48c8"/>
<rect x="483.26" y="184.94" width="8.69" height="4.78" fill="#8a8a87"/>
<rect x="490.94" y="184.94" width="4.84" height="4.78" fill="#4c4a52"/>
<rect x="494.79" y="184.94" width="4.84" height="4.78" fill="#1e1a26"/>
<rect x="498.63" y="184.94" width="8.69" height="4.78" fill="#2a12b0"/>
<rect x="506.32" y="184.94" width="15.38" height="4.78" fill="#8a8a87"/>
<rect x="452.50" y="188.72" width="8.69" height="4.78" fill="#0c48c8"/>
<rect x="460.19" y="188.72" width="16.38" height="4.78" fill="#8a8a87"/>
<rect x="475.57" y="188.72" width="8.69" height="4.78" fill="#2a12b0"/>
<rect x="483.26" y="188.72" width="16.38" height="4.78" fill="#8a8a87"/>
<rect x="498.63" y="188.72" width="8.69" height="4.78" fill="#2a12b0"/>
<rect x="506.32" y="188.72" width="15.38" height="4.78" fill="#8a8a87"/>
<rect x="452.50" y="192.50" width="16.38" height="4.78" fill="#14c0be"/>
<rect x="467.88" y="192.50" width="4.84" height="4.78" fill="#0a6ed0"/>
<rect x="471.72" y="192.50" width="4.84" height="4.78" fill="#4c4a52"/>
<rect x="475.57" y="192.50" width="8.69" height="4.78" fill="#0c48c8"/>
<rect x="483.26" y="192.50" width="4.84" height="4.78" fill="#8a8a87"/>
<rect x="487.10" y="192.50" width="4.84" height="4.78" fill="#1e1a26"/>
<rect x="490.94" y="192.50" width="8.69" height="4.78" fill="#8a8a87"/>
<rect x="498.63" y="192.50" width="8.69" height="4.78" fill="#2a12b0"/>
<rect x="506.32" y="192.50" width="4.84" height="4.78" fill="#4c4a52"/>
<rect x="510.17" y="192.50" width="11.53" height="4.78" fill="#8a8a87"/>
<rect x="452.50" y="196.28" width="16.38" height="4.78" fill="#14c0be"/>
<rect x="467.88" y="196.28" width="4.84" height="4.78" fill="#0a6ed0"/>
<rect x="471.72" y="196.28" width="4.84" height="4.78" fill="#4c4a52"/>
<rect x="475.57" y="196.28" width="4.84" height="4.78" fill="#0a6ed0"/>
<rect x="479.41" y="196.28" width="4.84" height="4.78" fill="#0c48c8"/>
<rect x="483.26" y="196.28" width="8.69" height="4.78" fill="#8a8a87"/>
<rect x="490.94" y="196.28" width="4.84" height="4.78" fill="#1e1a26"/>
<rect x="494.79" y="196.28" width="4.84" height="4.78" fill="#8a8a87"/>
<rect x="498.63" y="196.28" width="12.53" height="4.78" fill="#2a12b0"/>
<rect x="510.17" y="196.28" width="11.53" height="4.78" fill="#8a8a87"/>
<rect x="452.50" y="200.06" width="4.84" height="4.78" fill="#12a0c8"/>
<rect x="456.34" y="200.06" width="12.53" height="4.78" fill="#14c0be"/>
<rect x="467.88" y="200.06" width="4.84" height="4.78" fill="#12a0c8"/>
<rect x="471.72" y="200.06" width="4.84" height="4.78" fill="#0a6ed0"/>
<rect x="475.57" y="200.06" width="4.84" height="4.78" fill="#12a0c8"/>
<rect x="479.41" y="200.06" width="4.84" height="4.78" fill="#0a6ed0"/>
<rect x="483.26" y="200.06" width="8.69" height="4.78" fill="#8a8a87"/>
<rect x="490.94" y="200.06" width="4.84" height="4.78" fill="#1e1a26"/>
<rect x="494.79" y="200.06" width="4.84" height="4.78" fill="#8a8a87"/>
<rect x="498.63" y="200.06" width="8.69" height="4.78" fill="#2a12b0"/>
<rect x="506.32" y="200.06" width="4.84" height="4.78" fill="#4c4a52"/>
<rect x="510.17" y="200.06" width="11.53" height="4.78" fill="#8a8a87"/>
<rect x="452.50" y="203.83" width="39.44" height="4.78" fill="#2a12b0"/>
<rect x="490.94" y="203.83" width="4.84" height="4.78" fill="#4c4a52"/>
<rect x="494.79" y="203.83" width="4.84" height="4.78" fill="#8a8a87"/>
<rect x="498.63" y="203.83" width="8.69" height="4.78" fill="#2a12b0"/>
<rect x="506.32" y="203.83" width="15.38" height="4.78" fill="#8a8a87"/>
<rect x="452.50" y="207.61" width="39.44" height="4.78" fill="#2a12b0"/>
<rect x="490.94" y="207.61" width="4.84" height="4.78" fill="#4c4a52"/>
<rect x="494.79" y="207.61" width="4.84" height="4.78" fill="#8a8a87"/>
<rect x="498.63" y="207.61" width="8.69" height="4.78" fill="#2a12b0"/>
<rect x="506.32" y="207.61" width="4.84" height="4.78" fill="#4c4a52"/>
<rect x="510.17" y="207.61" width="11.53" height="4.78" fill="#8a8a87"/>
<rect x="452.50" y="211.39" width="4.84" height="4.78" fill="#0c48c8"/>
<rect x="456.34" y="211.39" width="4.84" height="4.78" fill="#0a6ed0"/>
<rect x="460.19" y="211.39" width="4.84" height="4.78" fill="#0c48c8"/>
<rect x="464.03" y="211.39" width="4.84" height="4.78" fill="#0a6ed0"/>
<rect x="467.88" y="211.39" width="4.84" height="4.78" fill="#0c48c8"/>
<rect x="471.72" y="211.39" width="20.22" height="4.78" fill="#2a12b0"/>
<rect x="490.94" y="211.39" width="4.84" height="4.78" fill="#4c4a52"/>
<rect x="494.79" y="211.39" width="4.84" height="4.78" fill="#8a8a87"/>
<rect x="498.63" y="211.39" width="12.53" height="4.78" fill="#2a12b0"/>
<rect x="510.17" y="211.39" width="11.53" height="4.78" fill="#8a8a87"/>
<rect x="452.50" y="215.17" width="39.44" height="4.78" fill="#2a12b0"/>
<rect x="490.94" y="215.17" width="4.84" height="4.78" fill="#4c4a52"/>
<rect x="494.79" y="215.17" width="4.84" height="4.78" fill="#8a8a87"/>
<rect x="498.63" y="215.17" width="8.69" height="4.78" fill="#2a12b0"/>
<rect x="506.32" y="215.17" width="4.84" height="4.78" fill="#4c4a52"/>
<rect x="510.17" y="215.17" width="11.53" height="4.78" fill="#8a8a87"/>
<rect x="452.50" y="218.94" width="4.84" height="4.78" fill="#0a6ed0"/>
<rect x="456.34" y="218.94" width="4.84" height="4.78" fill="#0c48c8"/>
<rect x="460.19" y="218.94" width="4.84" height="4.78" fill="#0a6ed0"/>
<rect x="464.03" y="218.94" width="4.84" height="4.78" fill="#0c48c8"/>
<rect x="467.88" y="218.94" width="27.91" height="4.78" fill="#2a12b0"/>
<rect x="494.79" y="218.94" width="4.84" height="4.78" fill="#4c4a52"/>
<rect x="498.63" y="218.94" width="12.53" height="4.78" fill="#2a12b0"/>
<rect x="510.17" y="218.94" width="11.53" height="4.78" fill="#8a8a87"/>
<rect x="452.50" y="222.72" width="4.84" height="3.78" fill="#0c48c8"/>
<rect x="456.34" y="222.72" width="4.84" height="3.78" fill="#0a6ed0"/>
<rect x="460.19" y="222.72" width="4.84" height="3.78" fill="#0c48c8"/>
<rect x="464.03" y="222.72" width="4.84" height="3.78" fill="#0a6ed0"/>
<rect x="467.88" y="222.72" width="43.29" height="3.78" fill="#2a12b0"/>
<rect x="510.17" y="222.72" width="11.53" height="3.78" fill="#8a8a87"/>
<polygon points="464.7,89.5 476.2,89.5 476.2,112.5" fill="#8a8a87"/>
<polyline points="464.2,89.5 476.0,113.0" fill="none" stroke="#1e1a26" stroke-width="1.8"/>
<polygon points="486.4,89.5 499.0,89.5 499.0,114.8" fill="#8a8a87"/>
<polyline points="485.9,89.5 498.8,115.2" fill="none" stroke="#1e1a26" stroke-width="1.8"/>
<polygon points="509.3,89.5 521.7,89.5 521.7,134.0 519.5,130.0 518.2,125.0 515.6,114.4 511.8,101.7" fill="#8a8a87"/>
<polyline points="508.8,89.5 511.3,101.7 515.1,114.4 517.7,125.0 519.0,130.0 521.5,134.5" fill="none" stroke="#1e1a26" stroke-width="1.8"/>
<text x="58.4" y="16.4" font-family="Liberation Sans, Arial, sans-serif" font-style="italic" font-size="9.6" fill="#222" textLength="16.3" lengthAdjust="spacingAndGlyphs">50%</text>
<text x="125.6" y="16.4" font-family="Liberation Sans, Arial, sans-serif" font-style="italic" font-size="9.6" fill="#222" textLength="19.8" lengthAdjust="spacingAndGlyphs">100%</text>
<text x="196.4" y="16.4" font-family="Liberation Sans, Arial, sans-serif" font-style="italic" font-size="9.6" fill="#222" textLength="20.1" lengthAdjust="spacingAndGlyphs">150%</text>
<text x="341.6" y="16.4" font-family="Liberation Sans, Arial, sans-serif" font-style="italic" font-size="9.6" fill="#222" textLength="16.5" lengthAdjust="spacingAndGlyphs">50%</text>
<text x="408.7" y="16.4" font-family="Liberation Sans, Arial, sans-serif" font-style="italic" font-size="9.6" fill="#222" textLength="19.8" lengthAdjust="spacingAndGlyphs">100%</text>
<text x="479.3" y="16.4" font-family="Liberation Sans, Arial, sans-serif" font-style="italic" font-size="9.6" fill="#222" textLength="20.1" lengthAdjust="spacingAndGlyphs">150%</text>
<text x="242.4" y="57.4" font-family="Liberation Sans, Arial, sans-serif" font-style="italic" font-size="9.6" fill="#222" textLength="19.6" lengthAdjust="spacingAndGlyphs">150%</text>
<text x="242.2" y="126.4" font-family="Liberation Sans, Arial, sans-serif" font-style="italic" font-size="9.6" fill="#222" textLength="20.0" lengthAdjust="spacingAndGlyphs">100%</text>
<text x="242.2" y="195.8" font-family="Liberation Sans, Arial, sans-serif" font-style="italic" font-size="9.6" fill="#222" textLength="16.4" lengthAdjust="spacingAndGlyphs">50%</text>
<text x="525.2" y="57.4" font-family="Liberation Sans, Arial, sans-serif" font-style="italic" font-size="9.6" fill="#222" textLength="19.6" lengthAdjust="spacingAndGlyphs">150%</text>
<text x="525.0" y="126.4" font-family="Liberation Sans, Arial, sans-serif" font-style="italic" font-size="9.6" fill="#222" textLength="20.0" lengthAdjust="spacingAndGlyphs">100%</text>
<text x="525.0" y="195.8" font-family="Liberation Sans, Arial, sans-serif" font-style="italic" font-size="9.6" fill="#222" textLength="16.4" lengthAdjust="spacingAndGlyphs">50%</text>
<rect x="31" y="20.5" width="1.4" height="68.5" fill="#000"/>
<rect x="31" y="135.5" width="1.4" height="22" fill="#000"/>
<rect x="30.6" y="181" width="2" height="7.6" fill="#000"/>
<rect x="30.8" y="204.2" width="1.8" height="1.8" fill="#000"/>
<rect x="312" y="20.5" width="1.4" height="68.5" fill="#000"/>
<rect x="312" y="135.5" width="1.4" height="22" fill="#000"/>
<rect x="311.6" y="181" width="2" height="7.6" fill="#000"/>
<rect x="311.8" y="204.2" width="1.8" height="1.8" fill="#000"/>
<text x="10.80" y="55.30" font-family="Liberation Sans, Arial, sans-serif" font-style="italic" font-size="10" fill="#111" stroke="#111" stroke-width="0.4">g</text><text x="16.30" y="57.90" font-family="Liberation Sans, Arial, sans-serif" font-style="italic" font-size="5.7" fill="#1a1a1a" stroke="#1a1a1a" stroke-width="0.3">pCa</text>
<text x="14.90" y="147.00" font-family="Liberation Sans, Arial, sans-serif" font-style="italic" font-size="10" fill="#111" stroke="#111" stroke-width="0.4">g</text><text x="20.40" y="149.60" font-family="Liberation Sans, Arial, sans-serif" font-style="italic" font-size="5.7" fill="#1a1a1a" stroke="#1a1a1a" stroke-width="0.3">Kr</text>
<text x="14.10" y="186.20" font-family="Liberation Sans, Arial, sans-serif" font-style="italic" font-size="10" fill="#111" stroke="#111" stroke-width="0.4">g</text><text x="19.60" y="188.80" font-family="Liberation Sans, Arial, sans-serif" font-style="italic" font-size="5.7" fill="#1a1a1a" stroke="#1a1a1a" stroke-width="0.3">Ks</text>
<text x="10.80" y="208.20" font-family="Liberation Sans, Arial, sans-serif" font-style="italic" font-size="10" fill="#111" stroke="#111" stroke-width="0.4">g</text><text x="16.30" y="210.80" font-family="Liberation Sans, Arial, sans-serif" font-style="italic" font-size="5.7" fill="#1a1a1a" stroke="#1a1a1a" stroke-width="0.3">bCa</text>
<text x="10.80" y="228.70" font-family="Liberation Sans, Arial, sans-serif" font-style="italic" font-size="10" fill="#111" stroke="#111" stroke-width="0.4">g</text><text x="16.30" y="231.30" font-family="Liberation Sans, Arial, sans-serif" font-style="italic" font-size="5.7" fill="#1a1a1a" stroke="#1a1a1a" stroke-width="0.3">bNa</text>
<text x="292.30" y="55.30" font-family="Liberation Sans, Arial, sans-serif" font-style="italic" font-size="10" fill="#111" stroke="#111" stroke-width="0.4">g</text><text x="297.80" y="57.90" font-family="Liberation Sans, Arial, sans-serif" font-style="italic" font-size="5.7" fill="#1a1a1a" stroke="#1a1a1a" stroke-width="0.3">pCa</text>
<text x="292.40" y="147.00" font-family="Liberation Sans, Arial, sans-serif" font-style="italic" font-size="10" fill="#111" stroke="#111" stroke-width="0.4">g</text><text x="297.90" y="149.60" font-family="Liberation Sans, Arial, sans-serif" font-style="italic" font-size="5.7" fill="#1a1a1a" stroke="#1a1a1a" stroke-width="0.3">CaL</text>
<text x="295.80" y="186.20" font-family="Liberation Sans, Arial, sans-serif" font-style="italic" font-size="10" fill="#111" stroke="#111" stroke-width="0.4">g</text><text x="301.30" y="188.80" font-family="Liberation Sans, Arial, sans-serif" font-style="italic" font-size="5.7" fill="#1a1a1a" stroke="#1a1a1a" stroke-width="0.3">Ks</text>
<text x="292.30" y="208.20" font-family="Liberation Sans, Arial, sans-serif" font-style="italic" font-size="10" fill="#111" stroke="#111" stroke-width="0.4">g</text><text x="297.80" y="210.80" font-family="Liberation Sans, Arial, sans-serif" font-style="italic" font-size="5.7" fill="#1a1a1a" stroke="#1a1a1a" stroke-width="0.3">bCa</text>
<text x="292.30" y="228.70" font-family="Liberation Sans, Arial, sans-serif" font-style="italic" font-size="10" fill="#111" stroke="#111" stroke-width="0.4">g</text><text x="297.80" y="231.30" font-family="Liberation Sans, Arial, sans-serif" font-style="italic" font-size="5.7" fill="#1a1a1a" stroke="#1a1a1a" stroke-width="0.3">bNa</text>
<path d="M31.2 226.2 L33.6 228.4" stroke="#222" stroke-width="0.9"/>
<path d="M312.6 226.4 L314.6 228.4" stroke="#222" stroke-width="0.9"/>
<rect x="56" y="226.6" width="1.4" height="2" fill="#000"/>
<rect x="79" y="226.6" width="7" height="2" fill="#000"/>
<rect x="101.4" y="226.6" width="22.6" height="2" fill="#000"/>
<rect x="170.7" y="226.6" width="68.8" height="2" fill="#000"/>
<rect x="337.3" y="226.6" width="1.7" height="2" fill="#000"/>
<rect x="361" y="226.6" width="7.3" height="2" fill="#000"/>
<rect x="383" y="226.6" width="23.5" height="2" fill="#000"/>
<rect x="453" y="226.6" width="68.7" height="2" fill="#000"/>
<text x="27.90" y="239.60" font-family="Liberation Sans, Arial, sans-serif" font-style="italic" font-size="10" fill="#111" stroke="#111" stroke-width="0.4">g</text><text x="33.40" y="242.20" font-family="Liberation Sans, Arial, sans-serif" font-style="italic" font-size="5.7" fill="#1a1a1a" stroke="#1a1a1a" stroke-width="0.3">pK</text>
<text x="51.20" y="239.60" font-family="Liberation Sans, Arial, sans-serif" font-style="italic" font-size="10" fill="#111" stroke="#111" stroke-width="0.4">g</text><text x="56.70" y="242.20" font-family="Liberation Sans, Arial, sans-serif" font-style="italic" font-size="5.7" fill="#1a1a1a" stroke="#1a1a1a" stroke-width="0.3">to</text>
<text x="77.50" y="239.60" font-family="Liberation Sans, Arial, sans-serif" font-style="italic" font-size="10" fill="#111" stroke="#111" stroke-width="0.4">g</text><text x="83.00" y="242.20" font-family="Liberation Sans, Arial, sans-serif" font-style="italic" font-size="5.7" fill="#1a1a1a" stroke="#1a1a1a" stroke-width="0.3">Na</text>
<text x="106.10" y="239.60" font-family="Liberation Sans, Arial, sans-serif" font-style="italic" font-size="10" fill="#111" stroke="#111" stroke-width="0.4">g</text><text x="111.60" y="242.20" font-family="Liberation Sans, Arial, sans-serif" font-style="italic" font-size="5.7" fill="#1a1a1a" stroke="#1a1a1a" stroke-width="0.3">K1</text>
<text x="197.30" y="239.60" font-family="Liberation Sans, Arial, sans-serif" font-style="italic" font-size="10" fill="#111" stroke="#111" stroke-width="0.4">g</text><text x="202.80" y="242.20" font-family="Liberation Sans, Arial, sans-serif" font-style="italic" font-size="5.7" fill="#1a1a1a" stroke="#1a1a1a" stroke-width="0.3">CaL</text>
<text x="311.50" y="239.60" font-family="Liberation Sans, Arial, sans-serif" font-style="italic" font-size="10" fill="#111" stroke="#111" stroke-width="0.4">g</text><text x="317.00" y="242.20" font-family="Liberation Sans, Arial, sans-serif" font-style="italic" font-size="5.7" fill="#1a1a1a" stroke="#1a1a1a" stroke-width="0.3">pK</text>
<text x="334.60" y="239.60" font-family="Liberation Sans, Arial, sans-serif" font-style="italic" font-size="10" fill="#111" stroke="#111" stroke-width="0.4">g</text><text x="340.10" y="242.20" font-family="Liberation Sans, Arial, sans-serif" font-style="italic" font-size="5.7" fill="#1a1a1a" stroke="#1a1a1a" stroke-width="0.3">to</text>
<text x="360.70" y="239.60" font-family="Liberation Sans, Arial, sans-serif" font-style="italic" font-size="10" fill="#111" stroke="#111" stroke-width="0.4">g</text><text x="366.20" y="242.20" font-family="Liberation Sans, Arial, sans-serif" font-style="italic" font-size="5.7" fill="#1a1a1a" stroke="#1a1a1a" stroke-width="0.3">Na</text>
<text x="389.00" y="239.60" font-family="Liberation Sans, Arial, sans-serif" font-style="italic" font-size="10" fill="#111" stroke="#111" stroke-width="0.4">g</text><text x="394.50" y="242.20" font-family="Liberation Sans, Arial, sans-serif" font-style="italic" font-size="5.7" fill="#1a1a1a" stroke="#1a1a1a" stroke-width="0.3">Kr</text>
<text x="482.00" y="239.60" font-family="Liberation Sans, Arial, sans-serif" font-style="italic" font-size="10" fill="#111" stroke="#111" stroke-width="0.4">g</text><text x="487.50" y="242.20" font-family="Liberation Sans, Arial, sans-serif" font-style="italic" font-size="5.7" fill="#1a1a1a" stroke="#1a1a1a" stroke-width="0.3">K1</text>
<rect x="64.5" y="252" width="139.5" height="7" fill="url(#cba)"/>
<rect x="346.6" y="252" width="142.8" height="7" fill="url(#cbb)"/>
<rect x="99.0" y="256" width="0.8" height="3" fill="#555"/>
<rect x="133.9" y="256" width="0.8" height="3" fill="#555"/>
<rect x="168.9" y="256" width="0.8" height="3" fill="#555"/>
<rect x="381.90000000000003" y="256" width="0.8" height="3" fill="#555"/>
<rect x="417.6" y="256" width="0.8" height="3" fill="#555"/>
<rect x="453.20000000000005" y="256" width="0.8" height="3" fill="#555"/>
<text x="64.8" y="270.8" font-family="Liberation Sans, Arial, sans-serif" font-weight="bold" font-size="6.3" fill="#000" text-anchor="middle">180</text>
<text x="99.5" y="270.8" font-family="Liberation Sans, Arial, sans-serif" font-weight="bold" font-size="6.3" fill="#000" text-anchor="middle">278</text>
<text x="134" y="270.8" font-family="Liberation Sans, Arial, sans-serif" font-weight="bold" font-size="6.3" fill="#000" text-anchor="middle">370</text>
<text x="168.5" y="270.8" font-family="Liberation Sans, Arial, sans-serif" font-weight="bold" font-size="6.3" fill="#000" text-anchor="middle">463</text>
<text x="203.5" y="270.8" font-family="Liberation Sans, Arial, sans-serif" font-weight="bold" font-size="6.3" fill="#000" text-anchor="middle">550</text>
<text x="348.3" y="270.8" font-family="Liberation Sans, Arial, sans-serif" font-weight="bold" font-size="6.3" fill="#000" text-anchor="middle">56.7</text>
<text x="384" y="270.8" font-family="Liberation Sans, Arial, sans-serif" font-weight="bold" font-size="6.3" fill="#000" text-anchor="middle">165</text>
<text x="419" y="270.8" font-family="Liberation Sans, Arial, sans-serif" font-weight="bold" font-size="6.3" fill="#000" text-anchor="middle">274</text>
<text x="454.3" y="270.8" font-family="Liberation Sans, Arial, sans-serif" font-weight="bold" font-size="6.3" fill="#000" text-anchor="middle">382</text>
<text x="491.6" y="270.8" font-family="Liberation Sans, Arial, sans-serif" font-weight="bold" font-size="6.3" fill="#000" text-anchor="middle">490.4</text>
<text x="113" y="284.6" font-family="Liberation Sans, Arial, sans-serif" font-weight="bold" font-size="8.4" fill="#000">AOCL (ms)</text>
<text x="381" y="284.6" font-family="Liberation Sans, Arial, sans-serif" font-weight="bold" font-size="8.4" fill="#000">AO meanAPD (ms)</text>
</svg></body></html>
